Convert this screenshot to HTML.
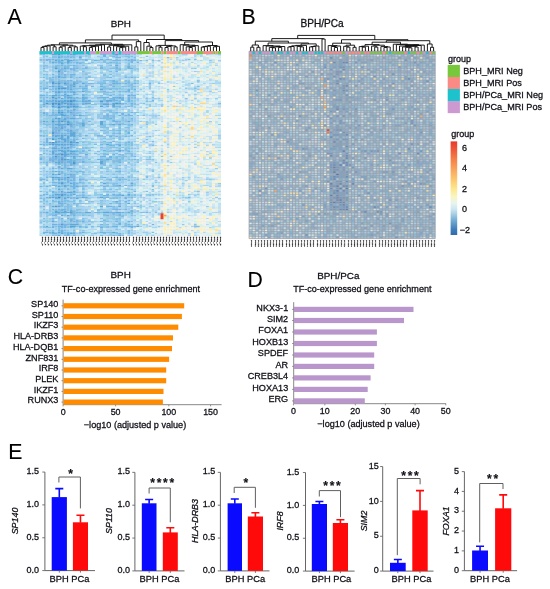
<!DOCTYPE html>
<html><head><meta charset="utf-8"><title>Figure</title>
<style>html,body{margin:0;padding:0;background:#fff;width:550px;height:589px;overflow:hidden}
body{position:relative;font-family:'Liberation Sans', Arial, Helvetica, sans-serif}</style></head>
<body>
<svg width="550" height="589" viewBox="0 0 550 589" style="position:absolute;left:0;top:0"><g font-family="'Liberation Sans', Arial, Helvetica, sans-serif"><text x="7.60" y="23.80" font-size="21.2" text-anchor="start" fill="#000" stroke="#000" stroke-width="0.1" >A</text><text x="241.60" y="23.90" font-size="21.2" text-anchor="start" fill="#000" stroke="#000" stroke-width="0.1" >B</text><text x="7.70" y="284.30" font-size="21.2" text-anchor="start" fill="#000" stroke="#000" stroke-width="0.1" >C</text><text x="247.60" y="286.70" font-size="21.2" text-anchor="start" fill="#000" stroke="#000" stroke-width="0.1" >D</text><text x="8.30" y="459.10" font-size="21.2" text-anchor="start" fill="#000" stroke="#000" stroke-width="0.1" >E</text><text x="120.80" y="26.90" font-size="9.9" text-anchor="middle" fill="#101018" stroke="#101018" stroke-width="0.28" >BPH</text><text x="322.10" y="27.30" font-size="10.1" text-anchor="middle" fill="#101018" stroke="#101018" stroke-width="0.28" >BPH/PCa</text><g transform="translate(39.5,54.0) scale(3.0250,1.5167)"><path fill="#78c0e4" d="M0 0h1v1h-1zM2 1h1v1h-1zM8 1h1v1h-1zM30 1h1v1h-1zM7 2h1v1h-1zM11 2h1v1h-1zM31 2h1v1h-1zM42 2h1v1h-1zM0 3h1v1h-1zM5 3h2v1h-2zM23 3h1v1h-1zM37 4h1v1h-1zM8 5h1v1h-1zM10 5h1v1h-1zM25 5h1v1h-1zM25 6h1v1h-1zM5 7h2v1h-2zM9 7h2v1h-2zM3 8h1v1h-1zM7 8h1v1h-1zM21 8h1v1h-1zM24 8h1v1h-1zM14 9h1v1h-1zM26 9h1v1h-1zM14 11h1v1h-1zM23 11h1v1h-1zM1 13h1v1h-1zM7 13h1v1h-1zM23 13h1v1h-1zM2 14h1v1h-1zM22 14h1v1h-1zM1 15h1v1h-1zM21 17h2v1h-2zM0 18h2v1h-2zM14 18h1v1h-1zM31 18h1v1h-1zM7 19h1v1h-1zM20 19h1v1h-1zM29 19h1v1h-1zM50 19h1v1h-1zM2 20h1v1h-1zM20 20h1v1h-1zM24 20h2v1h-2zM0 21h1v1h-1zM29 21h1v1h-1zM52 21h1v1h-1zM4 22h1v1h-1zM26 22h1v1h-1zM1 23h1v1h-1zM7 23h1v1h-1zM14 23h1v1h-1zM24 24h1v1h-1zM7 25h1v1h-1zM9 25h1v1h-1zM22 25h1v1h-1zM3 27h1v1h-1zM0 28h1v1h-1zM5 28h1v1h-1zM11 28h1v1h-1zM31 28h1v1h-1zM8 29h1v1h-1zM21 29h1v1h-1zM25 29h1v1h-1zM12 30h1v1h-1zM21 30h1v1h-1zM30 30h1v1h-1zM1 31h1v1h-1zM13 31h1v1h-1zM17 31h1v1h-1zM1 32h1v1h-1zM3 32h1v1h-1zM12 32h1v1h-1zM20 32h1v1h-1zM28 32h1v1h-1zM30 33h1v1h-1zM16 34h1v1h-1zM30 34h1v1h-1zM4 35h2v1h-2zM8 35h1v1h-1zM6 36h1v1h-1zM13 39h1v1h-1zM25 39h1v1h-1zM31 39h1v1h-1zM2 40h1v1h-1zM24 40h1v1h-1zM7 41h1v1h-1zM4 42h1v1h-1zM7 42h1v1h-1zM12 42h2v1h-2zM20 42h3v1h-3zM0 43h1v1h-1zM10 43h1v1h-1zM15 43h1v1h-1zM22 43h2v1h-2zM11 44h1v1h-1zM14 44h1v1h-1zM2 45h2v1h-2zM5 45h1v1h-1zM21 45h1v1h-1zM26 45h1v1h-1zM13 46h1v1h-1zM25 46h1v1h-1zM29 46h1v1h-1zM5 47h1v1h-1zM24 47h1v1h-1zM29 47h2v1h-2zM26 48h1v1h-1zM26 49h1v1h-1zM25 50h1v1h-1zM30 50h1v1h-1zM7 51h1v1h-1zM21 51h1v1h-1zM24 51h1v1h-1zM1 53h1v1h-1zM20 53h1v1h-1zM13 54h1v1h-1zM5 55h1v1h-1zM11 55h1v1h-1zM10 56h1v1h-1zM7 57h1v1h-1zM21 57h1v1h-1zM14 58h1v1h-1zM26 58h1v1h-1zM2 59h1v1h-1zM18 59h1v1h-1zM23 59h1v1h-1zM29 59h1v1h-1zM30 60h1v1h-1zM37 60h1v1h-1zM11 61h1v1h-1zM15 61h1v1h-1zM20 61h1v1h-1zM24 61h1v1h-1zM15 62h1v1h-1zM26 62h1v1h-1zM29 62h1v1h-1zM11 63h2v1h-2zM5 65h1v1h-1zM9 65h1v1h-1zM21 65h1v1h-1zM25 65h1v1h-1zM3 66h1v1h-1zM21 66h1v1h-1zM12 67h1v1h-1zM25 67h2v1h-2zM20 68h1v1h-1zM11 69h3v1h-3zM16 69h1v1h-1zM21 69h1v1h-1zM29 69h1v1h-1zM2 70h1v1h-1zM15 70h1v1h-1zM27 70h1v1h-1zM30 70h1v1h-1zM32 70h1v1h-1zM1 71h1v1h-1zM17 71h1v1h-1zM29 71h1v1h-1zM24 72h2v1h-2zM2 73h1v1h-1zM9 73h1v1h-1zM26 73h1v1h-1zM4 74h1v1h-1zM20 74h1v1h-1zM6 75h1v1h-1zM8 75h1v1h-1zM11 75h1v1h-1zM20 75h1v1h-1zM10 76h1v1h-1zM26 76h1v1h-1zM2 77h1v1h-1zM11 77h2v1h-2zM14 77h1v1h-1zM32 77h1v1h-1zM3 78h1v1h-1zM8 78h1v1h-1zM12 78h1v1h-1zM14 78h1v1h-1zM20 78h1v1h-1zM26 78h1v1h-1zM8 79h1v1h-1zM2 80h1v1h-1zM8 80h1v1h-1zM30 80h1v1h-1zM20 81h1v1h-1zM24 81h1v1h-1zM5 82h1v1h-1zM2 83h1v1h-1zM4 83h1v1h-1zM13 83h1v1h-1zM8 84h1v1h-1zM25 85h1v1h-1zM7 86h1v1h-1zM12 86h1v1h-1zM22 86h1v1h-1zM7 87h1v1h-1zM14 88h1v1h-1zM14 89h1v1h-1zM23 89h1v1h-1zM30 89h1v1h-1zM0 90h1v1h-1zM2 91h1v1h-1zM5 91h1v1h-1zM12 91h1v1h-1zM4 92h1v1h-1zM20 92h1v1h-1zM24 93h1v1h-1zM31 93h1v1h-1zM7 94h1v1h-1zM10 94h1v1h-1zM12 94h2v1h-2zM21 94h1v1h-1zM25 94h1v1h-1zM0 95h1v1h-1zM21 95h1v1h-1zM24 95h1v1h-1zM8 96h2v1h-2zM11 96h1v1h-1zM13 96h1v1h-1zM2 97h1v1h-1zM4 97h2v1h-2zM8 97h1v1h-1zM3 98h1v1h-1zM28 99h1v1h-1zM7 100h1v1h-1zM24 100h1v1h-1zM10 102h1v1h-1zM17 103h1v1h-1zM22 103h1v1h-1zM4 104h1v1h-1zM20 104h1v1h-1zM28 104h1v1h-1zM30 104h1v1h-1zM0 105h1v1h-1zM2 105h1v1h-1zM7 105h1v1h-1zM12 105h2v1h-2zM25 105h1v1h-1zM30 105h1v1h-1zM14 106h1v1h-1zM11 107h1v1h-1zM26 108h1v1h-1zM6 109h1v1h-1zM13 109h1v1h-1zM31 109h1v1h-1zM5 110h1v1h-1zM20 110h1v1h-1zM22 110h1v1h-1zM9 111h2v1h-2zM14 111h1v1h-1zM22 112h1v1h-1zM17 113h1v1h-1zM13 114h1v1h-1zM4 116h1v1h-1zM8 117h1v1h-1zM13 117h1v1h-1zM25 117h1v1h-1zM37 117h1v1h-1zM1 118h1v1h-1zM8 118h1v1h-1zM21 118h1v1h-1zM4 119h1v1h-1zM20 119h1v1h-1z"/><path fill="#78b4e4" d="M1 0h1v1h-1zM12 0h1v1h-1zM28 0h1v1h-1zM7 1h1v1h-1zM9 1h1v1h-1zM13 1h1v1h-1zM24 1h1v1h-1zM10 2h1v1h-1zM25 2h2v1h-2zM2 3h2v1h-2zM15 3h1v1h-1zM22 3h1v1h-1zM30 3h1v1h-1zM2 4h1v1h-1zM11 4h1v1h-1zM24 4h3v1h-3zM30 4h2v1h-2zM33 4h1v1h-1zM5 5h1v1h-1zM23 5h1v1h-1zM30 5h1v1h-1zM32 5h1v1h-1zM9 6h1v1h-1zM13 6h1v1h-1zM2 8h1v1h-1zM11 8h1v1h-1zM15 8h1v1h-1zM20 8h1v1h-1zM25 8h1v1h-1zM1 9h1v1h-1zM7 9h1v1h-1zM10 9h1v1h-1zM12 9h1v1h-1zM15 9h1v1h-1zM20 9h1v1h-1zM25 9h1v1h-1zM4 10h1v1h-1zM10 10h1v1h-1zM31 10h1v1h-1zM8 11h1v1h-1zM25 11h1v1h-1zM15 12h1v1h-1zM4 13h1v1h-1zM7 14h1v1h-1zM11 14h1v1h-1zM13 15h1v1h-1zM23 15h1v1h-1zM28 15h1v1h-1zM5 16h1v1h-1zM15 16h1v1h-1zM26 16h1v1h-1zM9 17h1v1h-1zM10 18h1v1h-1zM19 18h1v1h-1zM23 18h1v1h-1zM52 18h1v1h-1zM16 19h2v1h-2zM21 19h1v1h-1zM1 20h1v1h-1zM4 20h1v1h-1zM15 20h1v1h-1zM29 20h1v1h-1zM5 21h1v1h-1zM10 21h1v1h-1zM15 21h1v1h-1zM17 21h1v1h-1zM10 22h1v1h-1zM5 23h1v1h-1zM23 23h1v1h-1zM4 24h1v1h-1zM7 24h1v1h-1zM9 24h1v1h-1zM21 24h1v1h-1zM26 24h1v1h-1zM28 24h1v1h-1zM10 25h1v1h-1zM5 26h1v1h-1zM14 26h1v1h-1zM30 27h2v1h-2zM2 28h1v1h-1zM22 28h1v1h-1zM27 28h1v1h-1zM29 28h1v1h-1zM4 29h1v1h-1zM23 29h1v1h-1zM0 30h1v1h-1zM3 30h1v1h-1zM15 30h1v1h-1zM20 30h1v1h-1zM37 30h1v1h-1zM12 31h1v1h-1zM23 31h1v1h-1zM26 31h1v1h-1zM21 32h2v1h-2zM27 32h1v1h-1zM12 33h1v1h-1zM1 34h1v1h-1zM5 34h1v1h-1zM25 34h1v1h-1zM29 34h1v1h-1zM7 35h1v1h-1zM10 35h1v1h-1zM10 37h1v1h-1zM8 38h1v1h-1zM11 38h1v1h-1zM5 39h1v1h-1zM20 39h1v1h-1zM24 39h1v1h-1zM29 39h1v1h-1zM3 40h4v1h-4zM12 40h1v1h-1zM14 40h1v1h-1zM29 40h2v1h-2zM8 41h2v1h-2zM19 41h1v1h-1zM23 41h1v1h-1zM9 42h1v1h-1zM30 42h1v1h-1zM11 43h1v1h-1zM28 43h1v1h-1zM16 44h1v1h-1zM26 44h1v1h-1zM8 45h1v1h-1zM15 45h1v1h-1zM25 45h1v1h-1zM11 46h1v1h-1zM23 46h1v1h-1zM8 47h1v1h-1zM26 47h1v1h-1zM4 48h1v1h-1zM8 48h1v1h-1zM9 49h1v1h-1zM11 49h1v1h-1zM29 49h1v1h-1zM5 50h1v1h-1zM8 50h2v1h-2zM20 50h1v1h-1zM5 51h1v1h-1zM9 51h1v1h-1zM12 51h1v1h-1zM26 51h1v1h-1zM5 52h2v1h-2zM8 52h1v1h-1zM24 52h1v1h-1zM0 53h1v1h-1zM9 53h1v1h-1zM19 53h1v1h-1zM30 53h1v1h-1zM4 54h1v1h-1zM25 54h1v1h-1zM28 54h1v1h-1zM2 55h1v1h-1zM14 55h1v1h-1zM2 56h1v1h-1zM12 56h1v1h-1zM2 57h1v1h-1zM24 57h1v1h-1zM7 58h2v1h-2zM1 59h1v1h-1zM20 59h1v1h-1zM25 59h2v1h-2zM5 60h1v1h-1zM7 60h2v1h-2zM10 60h2v1h-2zM24 60h1v1h-1zM4 61h2v1h-2zM10 61h1v1h-1zM1 62h1v1h-1zM7 62h1v1h-1zM4 63h2v1h-2zM10 63h1v1h-1zM14 63h1v1h-1zM16 63h1v1h-1zM27 63h1v1h-1zM5 64h1v1h-1zM14 64h1v1h-1zM1 65h1v1h-1zM0 66h1v1h-1zM10 66h3v1h-3zM22 66h1v1h-1zM26 66h1v1h-1zM4 67h1v1h-1zM7 67h1v1h-1zM9 67h1v1h-1zM13 67h1v1h-1zM20 67h1v1h-1zM31 67h1v1h-1zM1 68h1v1h-1zM4 68h1v1h-1zM14 68h1v1h-1zM3 69h3v1h-3zM23 69h1v1h-1zM26 69h1v1h-1zM31 69h1v1h-1zM3 70h1v1h-1zM13 70h1v1h-1zM2 71h1v1h-1zM8 71h1v1h-1zM8 73h1v1h-1zM10 73h1v1h-1zM13 74h1v1h-1zM25 75h1v1h-1zM37 76h1v1h-1zM7 77h1v1h-1zM10 77h1v1h-1zM25 77h1v1h-1zM29 78h1v1h-1zM9 79h1v1h-1zM2 81h1v1h-1zM7 81h1v1h-1zM10 81h2v1h-2zM27 81h1v1h-1zM0 82h2v1h-2zM9 82h1v1h-1zM11 82h1v1h-1zM14 82h1v1h-1zM23 82h1v1h-1zM6 83h1v1h-1zM9 83h1v1h-1zM11 83h1v1h-1zM4 84h2v1h-2zM9 84h1v1h-1zM13 84h1v1h-1zM12 85h1v1h-1zM25 86h1v1h-1zM14 87h1v1h-1zM9 89h1v1h-1zM31 90h1v1h-1zM7 91h1v1h-1zM14 91h1v1h-1zM1 92h1v1h-1zM22 92h1v1h-1zM0 93h1v1h-1zM5 93h1v1h-1zM8 93h1v1h-1zM10 93h1v1h-1zM12 93h1v1h-1zM14 93h1v1h-1zM22 93h1v1h-1zM25 93h2v1h-2zM11 94h1v1h-1zM28 94h1v1h-1zM30 94h1v1h-1zM49 94h1v1h-1zM10 95h1v1h-1zM4 96h1v1h-1zM29 96h1v1h-1zM7 97h1v1h-1zM8 98h1v1h-1zM23 98h1v1h-1zM3 99h1v1h-1zM6 99h1v1h-1zM10 99h1v1h-1zM26 99h1v1h-1zM1 100h1v1h-1zM32 100h1v1h-1zM8 101h1v1h-1zM25 101h1v1h-1zM4 102h1v1h-1zM6 102h1v1h-1zM24 102h1v1h-1zM26 102h1v1h-1zM28 102h1v1h-1zM1 104h1v1h-1zM11 104h1v1h-1zM13 104h1v1h-1zM18 104h2v1h-2zM35 104h1v1h-1zM5 105h1v1h-1zM14 105h1v1h-1zM26 105h1v1h-1zM4 106h2v1h-2zM22 106h1v1h-1zM26 106h1v1h-1zM6 107h1v1h-1zM9 108h1v1h-1zM4 109h1v1h-1zM7 109h1v1h-1zM12 109h1v1h-1zM14 109h1v1h-1zM16 109h1v1h-1zM26 109h1v1h-1zM8 110h1v1h-1zM10 110h1v1h-1zM12 110h1v1h-1zM6 112h1v1h-1zM8 112h2v1h-2zM16 112h1v1h-1zM20 112h1v1h-1zM29 112h1v1h-1zM37 112h1v1h-1zM4 113h1v1h-1zM8 113h1v1h-1zM31 113h1v1h-1zM8 114h1v1h-1zM15 114h1v1h-1zM30 114h1v1h-1zM6 116h1v1h-1zM3 117h1v1h-1zM9 117h1v1h-1zM11 117h1v1h-1zM21 117h1v1h-1zM26 118h1v1h-1zM8 119h1v1h-1zM24 119h1v1h-1z"/><path fill="#9ccce4" d="M2 0h1v1h-1zM30 0h1v1h-1zM52 0h1v1h-1zM16 1h1v1h-1zM19 1h1v1h-1zM1 6h1v1h-1zM8 6h1v1h-1zM4 7h1v1h-1zM28 7h1v1h-1zM31 7h1v1h-1zM18 8h1v1h-1zM16 9h1v1h-1zM50 9h1v1h-1zM51 11h1v1h-1zM22 12h2v1h-2zM37 12h1v1h-1zM20 14h1v1h-1zM27 14h1v1h-1zM29 14h1v1h-1zM37 14h1v1h-1zM17 15h1v1h-1zM21 15h1v1h-1zM21 16h1v1h-1zM31 16h1v1h-1zM3 24h1v1h-1zM25 24h1v1h-1zM12 25h1v1h-1zM28 25h1v1h-1zM35 30h1v1h-1zM29 32h1v1h-1zM16 33h1v1h-1zM10 36h1v1h-1zM0 37h1v1h-1zM21 38h1v1h-1zM1 41h1v1h-1zM15 47h1v1h-1zM25 47h1v1h-1zM2 49h1v1h-1zM28 49h1v1h-1zM16 50h1v1h-1zM38 50h1v1h-1zM15 51h1v1h-1zM25 51h1v1h-1zM17 52h1v1h-1zM27 53h1v1h-1zM23 55h1v1h-1zM1 57h1v1h-1zM16 57h1v1h-1zM13 60h1v1h-1zM15 60h1v1h-1zM30 61h1v1h-1zM2 62h2v1h-2zM28 64h1v1h-1zM32 64h1v1h-1zM40 64h1v1h-1zM0 67h2v1h-2zM43 67h1v1h-1zM13 68h1v1h-1zM28 68h1v1h-1zM2 69h1v1h-1zM37 70h1v1h-1zM31 71h1v1h-1zM14 73h1v1h-1zM7 74h1v1h-1zM20 77h1v1h-1zM16 79h1v1h-1zM26 79h1v1h-1zM36 80h1v1h-1zM47 81h1v1h-1zM31 82h1v1h-1zM21 83h1v1h-1zM23 84h1v1h-1zM2 86h1v1h-1zM10 88h1v1h-1zM8 89h1v1h-1zM31 89h1v1h-1zM13 91h1v1h-1zM22 91h1v1h-1zM30 91h1v1h-1zM52 92h1v1h-1zM23 94h1v1h-1zM33 94h1v1h-1zM47 94h1v1h-1zM26 95h1v1h-1zM5 96h1v1h-1zM22 96h1v1h-1zM33 97h1v1h-1zM27 98h1v1h-1zM1 99h1v1h-1zM21 99h1v1h-1zM16 100h1v1h-1zM36 100h2v1h-2zM55 100h1v1h-1zM5 101h1v1h-1zM20 101h1v1h-1zM39 101h1v1h-1zM0 106h1v1h-1zM23 106h1v1h-1zM28 106h1v1h-1zM0 107h1v1h-1zM8 107h1v1h-1zM10 107h1v1h-1zM13 111h1v1h-1zM23 111h1v1h-1zM0 113h1v1h-1zM33 113h1v1h-1zM23 116h1v1h-1zM16 117h1v1h-1z"/><path fill="#90cce4" d="M3 0h1v1h-1zM15 0h1v1h-1zM22 0h2v1h-2zM15 1h1v1h-1zM23 1h1v1h-1zM27 1h1v1h-1zM1 2h1v1h-1zM45 2h1v1h-1zM12 3h1v1h-1zM16 3h1v1h-1zM21 3h1v1h-1zM29 3h1v1h-1zM4 4h1v1h-1zM8 4h1v1h-1zM14 4h1v1h-1zM17 4h1v1h-1zM20 4h1v1h-1zM23 4h1v1h-1zM27 4h1v1h-1zM32 4h1v1h-1zM47 4h1v1h-1zM56 4h1v1h-1zM22 5h1v1h-1zM26 5h1v1h-1zM29 5h1v1h-1zM5 6h1v1h-1zM10 6h1v1h-1zM14 6h2v1h-2zM23 6h1v1h-1zM30 7h1v1h-1zM37 7h1v1h-1zM16 8h1v1h-1zM23 8h1v1h-1zM55 8h1v1h-1zM4 9h1v1h-1zM13 9h1v1h-1zM18 9h1v1h-1zM21 9h1v1h-1zM28 9h1v1h-1zM31 9h2v1h-2zM51 9h1v1h-1zM1 10h1v1h-1zM9 10h1v1h-1zM12 10h1v1h-1zM15 10h2v1h-2zM20 10h2v1h-2zM27 10h2v1h-2zM30 10h1v1h-1zM32 10h1v1h-1zM1 11h2v1h-2zM4 11h1v1h-1zM11 11h2v1h-2zM30 11h1v1h-1zM5 12h1v1h-1zM21 12h1v1h-1zM26 12h1v1h-1zM14 13h1v1h-1zM1 14h1v1h-1zM13 14h1v1h-1zM15 14h1v1h-1zM31 14h1v1h-1zM0 15h1v1h-1zM2 15h1v1h-1zM9 15h1v1h-1zM11 15h1v1h-1zM32 15h1v1h-1zM7 16h2v1h-2zM11 16h1v1h-1zM14 16h1v1h-1zM5 17h1v1h-1zM13 17h1v1h-1zM17 17h1v1h-1zM25 17h2v1h-2zM32 17h1v1h-1zM27 18h1v1h-1zM30 18h1v1h-1zM32 18h1v1h-1zM36 18h1v1h-1zM39 18h1v1h-1zM1 19h1v1h-1zM18 19h1v1h-1zM0 20h1v1h-1zM14 20h1v1h-1zM21 20h1v1h-1zM28 20h1v1h-1zM1 21h1v1h-1zM22 21h1v1h-1zM25 21h2v1h-2zM36 21h1v1h-1zM44 21h1v1h-1zM27 22h1v1h-1zM29 22h1v1h-1zM31 22h1v1h-1zM36 22h1v1h-1zM48 22h1v1h-1zM12 23h1v1h-1zM22 23h1v1h-1zM24 23h1v1h-1zM26 23h3v1h-3zM33 23h1v1h-1zM42 23h1v1h-1zM0 24h1v1h-1zM19 24h1v1h-1zM31 24h1v1h-1zM15 25h2v1h-2zM19 25h2v1h-2zM24 25h1v1h-1zM26 25h1v1h-1zM29 25h1v1h-1zM37 25h1v1h-1zM0 26h1v1h-1zM2 26h1v1h-1zM9 26h1v1h-1zM32 26h1v1h-1zM11 27h1v1h-1zM15 27h2v1h-2zM25 27h1v1h-1zM3 28h1v1h-1zM0 29h1v1h-1zM20 29h1v1h-1zM39 29h1v1h-1zM13 30h1v1h-1zM31 30h1v1h-1zM18 31h2v1h-2zM25 31h1v1h-1zM28 31h1v1h-1zM31 31h1v1h-1zM36 31h2v1h-2zM13 32h1v1h-1zM0 33h1v1h-1zM36 33h1v1h-1zM0 34h1v1h-1zM13 34h1v1h-1zM36 34h1v1h-1zM14 35h3v1h-3zM25 35h1v1h-1zM31 35h1v1h-1zM4 36h1v1h-1zM7 36h1v1h-1zM9 36h1v1h-1zM12 36h1v1h-1zM25 36h1v1h-1zM27 36h1v1h-1zM29 36h1v1h-1zM5 37h1v1h-1zM24 37h1v1h-1zM29 37h1v1h-1zM20 38h1v1h-1zM27 38h3v1h-3zM0 39h1v1h-1zM3 39h1v1h-1zM15 39h2v1h-2zM19 39h1v1h-1zM37 39h1v1h-1zM0 40h1v1h-1zM16 40h1v1h-1zM19 40h1v1h-1zM27 40h1v1h-1zM39 40h1v1h-1zM14 41h1v1h-1zM25 41h1v1h-1zM28 41h1v1h-1zM30 41h2v1h-2zM1 42h3v1h-3zM16 42h2v1h-2zM29 42h1v1h-1zM2 43h1v1h-1zM17 43h1v1h-1zM3 44h1v1h-1zM27 44h1v1h-1zM30 44h1v1h-1zM35 44h1v1h-1zM17 45h1v1h-1zM19 45h1v1h-1zM28 45h1v1h-1zM31 45h1v1h-1zM35 45h2v1h-2zM0 46h1v1h-1zM15 46h1v1h-1zM22 46h1v1h-1zM38 46h1v1h-1zM59 46h1v1h-1zM16 47h1v1h-1zM3 48h1v1h-1zM13 48h2v1h-2zM21 49h1v1h-1zM31 49h1v1h-1zM1 50h2v1h-2zM29 50h1v1h-1zM1 51h1v1h-1zM13 51h1v1h-1zM42 51h1v1h-1zM1 52h2v1h-2zM16 52h1v1h-1zM18 52h1v1h-1zM22 52h1v1h-1zM28 52h1v1h-1zM31 52h1v1h-1zM18 53h1v1h-1zM26 53h1v1h-1zM28 53h1v1h-1zM0 54h1v1h-1zM2 54h1v1h-1zM8 54h1v1h-1zM12 54h1v1h-1zM15 54h1v1h-1zM24 54h1v1h-1zM27 54h1v1h-1zM12 55h1v1h-1zM32 55h1v1h-1zM17 56h1v1h-1zM20 56h1v1h-1zM22 56h2v1h-2zM27 56h1v1h-1zM13 57h3v1h-3zM25 57h1v1h-1zM31 57h1v1h-1zM16 58h2v1h-2zM21 58h1v1h-1zM14 59h3v1h-3zM21 59h1v1h-1zM24 59h1v1h-1zM27 59h1v1h-1zM2 60h1v1h-1zM22 60h1v1h-1zM29 60h1v1h-1zM3 61h1v1h-1zM6 61h1v1h-1zM16 61h1v1h-1zM22 61h1v1h-1zM26 61h1v1h-1zM28 61h2v1h-2zM13 62h1v1h-1zM16 62h1v1h-1zM22 62h2v1h-2zM31 62h1v1h-1zM1 63h1v1h-1zM13 63h1v1h-1zM22 63h1v1h-1zM1 64h1v1h-1zM15 64h1v1h-1zM21 64h1v1h-1zM30 64h1v1h-1zM2 65h1v1h-1zM12 65h1v1h-1zM15 65h2v1h-2zM20 65h1v1h-1zM22 65h1v1h-1zM24 65h1v1h-1zM36 65h1v1h-1zM2 66h1v1h-1zM19 66h1v1h-1zM28 66h1v1h-1zM24 67h1v1h-1zM29 67h1v1h-1zM36 67h1v1h-1zM40 67h1v1h-1zM12 68h1v1h-1zM16 68h2v1h-2zM24 68h1v1h-1zM36 68h1v1h-1zM1 69h1v1h-1zM24 69h1v1h-1zM16 70h2v1h-2zM23 70h1v1h-1zM29 70h1v1h-1zM16 71h1v1h-1zM18 71h2v1h-2zM25 71h1v1h-1zM27 71h1v1h-1zM43 71h1v1h-1zM1 72h1v1h-1zM4 72h1v1h-1zM23 72h1v1h-1zM26 72h1v1h-1zM25 73h1v1h-1zM30 73h1v1h-1zM1 74h1v1h-1zM14 74h1v1h-1zM22 74h1v1h-1zM21 75h2v1h-2zM24 75h1v1h-1zM30 75h1v1h-1zM4 76h1v1h-1zM7 76h1v1h-1zM12 76h2v1h-2zM16 76h1v1h-1zM22 76h2v1h-2zM25 76h1v1h-1zM28 76h1v1h-1zM30 76h1v1h-1zM0 77h1v1h-1zM3 77h1v1h-1zM9 77h1v1h-1zM30 77h2v1h-2zM1 78h1v1h-1zM23 78h3v1h-3zM0 79h1v1h-1zM7 79h1v1h-1zM12 79h1v1h-1zM15 79h1v1h-1zM22 79h1v1h-1zM30 79h1v1h-1zM3 80h2v1h-2zM13 80h1v1h-1zM25 80h1v1h-1zM0 81h1v1h-1zM3 81h1v1h-1zM13 81h2v1h-2zM17 81h1v1h-1zM22 81h1v1h-1zM31 81h1v1h-1zM2 82h1v1h-1zM15 82h1v1h-1zM18 82h1v1h-1zM20 82h1v1h-1zM25 82h1v1h-1zM29 82h1v1h-1zM34 82h1v1h-1zM56 82h1v1h-1zM7 83h1v1h-1zM12 84h1v1h-1zM16 84h1v1h-1zM38 84h1v1h-1zM4 85h2v1h-2zM9 85h1v1h-1zM13 85h1v1h-1zM16 85h1v1h-1zM23 85h1v1h-1zM31 85h1v1h-1zM59 85h1v1h-1zM1 86h1v1h-1zM31 86h1v1h-1zM1 87h1v1h-1zM3 87h1v1h-1zM9 87h1v1h-1zM19 87h1v1h-1zM23 87h1v1h-1zM27 87h1v1h-1zM5 88h1v1h-1zM7 88h2v1h-2zM26 88h1v1h-1zM28 88h2v1h-2zM3 89h1v1h-1zM10 89h2v1h-2zM20 89h1v1h-1zM26 89h1v1h-1zM29 89h1v1h-1zM3 90h1v1h-1zM5 90h1v1h-1zM9 90h1v1h-1zM14 90h1v1h-1zM21 90h1v1h-1zM28 90h1v1h-1zM18 91h1v1h-1zM23 91h1v1h-1zM26 91h1v1h-1zM18 92h2v1h-2zM27 92h1v1h-1zM30 92h1v1h-1zM35 92h2v1h-2zM38 92h1v1h-1zM49 92h1v1h-1zM15 93h1v1h-1zM18 93h1v1h-1zM20 93h1v1h-1zM23 93h1v1h-1zM28 93h1v1h-1zM0 94h1v1h-1zM31 94h1v1h-1zM48 94h1v1h-1zM58 94h1v1h-1zM2 95h2v1h-2zM15 95h2v1h-2zM6 96h1v1h-1zM30 96h1v1h-1zM1 97h1v1h-1zM20 97h1v1h-1zM31 97h1v1h-1zM37 97h2v1h-2zM49 97h1v1h-1zM4 98h1v1h-1zM9 98h1v1h-1zM16 98h1v1h-1zM19 98h3v1h-3zM24 98h1v1h-1zM28 98h1v1h-1zM8 99h1v1h-1zM11 99h1v1h-1zM20 99h1v1h-1zM33 99h1v1h-1zM3 100h1v1h-1zM25 100h1v1h-1zM28 100h2v1h-2zM33 100h1v1h-1zM0 101h1v1h-1zM4 101h1v1h-1zM7 101h1v1h-1zM12 101h3v1h-3zM22 101h1v1h-1zM33 101h1v1h-1zM3 102h1v1h-1zM15 102h1v1h-1zM21 102h1v1h-1zM27 102h1v1h-1zM0 103h2v1h-2zM20 103h1v1h-1zM29 103h1v1h-1zM37 103h1v1h-1zM51 103h1v1h-1zM31 104h1v1h-1zM36 104h1v1h-1zM40 104h1v1h-1zM16 105h1v1h-1zM27 105h1v1h-1zM29 105h1v1h-1zM2 106h2v1h-2zM12 106h2v1h-2zM15 106h1v1h-1zM24 106h1v1h-1zM31 106h1v1h-1zM2 107h1v1h-1zM21 107h1v1h-1zM24 107h1v1h-1zM3 108h1v1h-1zM5 108h1v1h-1zM22 108h3v1h-3zM1 109h2v1h-2zM8 109h1v1h-1zM15 109h1v1h-1zM24 109h1v1h-1zM28 109h1v1h-1zM33 109h1v1h-1zM0 110h1v1h-1zM2 110h2v1h-2zM9 110h1v1h-1zM17 110h1v1h-1zM21 110h1v1h-1zM23 110h1v1h-1zM26 110h1v1h-1zM2 111h1v1h-1zM17 111h1v1h-1zM24 111h1v1h-1zM29 111h1v1h-1zM33 111h1v1h-1zM1 112h1v1h-1zM13 112h1v1h-1zM15 112h1v1h-1zM21 112h1v1h-1zM24 112h1v1h-1zM47 112h1v1h-1zM14 113h1v1h-1zM21 113h1v1h-1zM23 113h1v1h-1zM39 113h1v1h-1zM14 114h1v1h-1zM21 114h1v1h-1zM25 114h1v1h-1zM7 115h1v1h-1zM11 115h1v1h-1zM20 115h1v1h-1zM3 116h1v1h-1zM9 116h1v1h-1zM20 116h1v1h-1zM30 116h1v1h-1zM5 117h1v1h-1zM15 117h1v1h-1zM17 118h1v1h-1zM23 118h2v1h-2zM27 118h1v1h-1zM23 119h1v1h-1zM25 119h1v1h-1zM30 119h1v1h-1z"/><path fill="#60a8d8" d="M4 0h2v1h-2zM10 0h1v1h-1zM6 2h1v1h-1zM5 4h1v1h-1zM9 4h2v1h-2zM4 5h1v1h-1zM9 5h1v1h-1zM7 6h1v1h-1zM9 8h1v1h-1zM8 9h1v1h-1zM6 10h2v1h-2zM11 10h1v1h-1zM26 10h1v1h-1zM6 12h1v1h-1zM6 14h1v1h-1zM10 14h1v1h-1zM6 15h1v1h-1zM3 18h1v1h-1zM7 18h1v1h-1zM13 18h1v1h-1zM25 18h1v1h-1zM5 19h1v1h-1zM11 19h1v1h-1zM14 19h1v1h-1zM6 20h1v1h-1zM8 20h2v1h-2zM11 20h1v1h-1zM30 20h1v1h-1zM4 21h1v1h-1zM10 23h1v1h-1zM20 23h1v1h-1zM6 24h1v1h-1zM14 24h1v1h-1zM11 25h1v1h-1zM8 26h1v1h-1zM4 27h2v1h-2zM29 27h1v1h-1zM9 28h2v1h-2zM14 28h1v1h-1zM26 28h1v1h-1zM7 29h1v1h-1zM4 30h1v1h-1zM9 30h1v1h-1zM16 30h1v1h-1zM22 30h2v1h-2zM5 31h1v1h-1zM7 31h2v1h-2zM11 31h1v1h-1zM14 31h1v1h-1zM7 32h1v1h-1zM9 32h1v1h-1zM15 32h1v1h-1zM24 32h1v1h-1zM9 33h1v1h-1zM11 33h1v1h-1zM21 33h2v1h-2zM24 33h1v1h-1zM7 34h2v1h-2zM10 34h1v1h-1zM12 34h1v1h-1zM24 34h1v1h-1zM6 37h1v1h-1zM10 38h1v1h-1zM2 39h1v1h-1zM4 39h1v1h-1zM22 39h1v1h-1zM11 40h1v1h-1zM13 40h1v1h-1zM22 41h1v1h-1zM24 41h1v1h-1zM8 42h1v1h-1zM10 42h2v1h-2zM7 43h2v1h-2zM1 44h1v1h-1zM20 44h1v1h-1zM29 44h1v1h-1zM4 45h1v1h-1zM12 45h3v1h-3zM20 45h1v1h-1zM5 46h4v1h-4zM10 46h1v1h-1zM14 46h1v1h-1zM20 46h1v1h-1zM24 46h1v1h-1zM26 46h1v1h-1zM4 47h1v1h-1zM6 47h1v1h-1zM14 47h1v1h-1zM7 48h1v1h-1zM4 49h4v1h-4zM10 50h1v1h-1zM6 51h1v1h-1zM11 51h1v1h-1zM10 52h2v1h-2zM4 53h1v1h-1zM8 53h1v1h-1zM10 53h2v1h-2zM7 54h1v1h-1zM9 54h1v1h-1zM11 54h1v1h-1zM4 55h1v1h-1zM6 55h2v1h-2zM9 55h1v1h-1zM7 56h2v1h-2zM5 57h1v1h-1zM8 57h1v1h-1zM10 57h1v1h-1zM3 58h1v1h-1zM11 58h1v1h-1zM5 59h2v1h-2zM8 59h1v1h-1zM22 59h1v1h-1zM26 60h1v1h-1zM7 61h1v1h-1zM9 61h1v1h-1zM4 62h2v1h-2zM8 62h1v1h-1zM6 63h2v1h-2zM9 63h1v1h-1zM26 63h1v1h-1zM4 64h1v1h-1zM7 64h2v1h-2zM4 65h1v1h-1zM8 65h1v1h-1zM10 65h1v1h-1zM8 66h2v1h-2zM8 67h1v1h-1zM11 67h1v1h-1zM3 68h1v1h-1zM6 68h1v1h-1zM25 68h1v1h-1zM22 69h1v1h-1zM8 70h1v1h-1zM20 70h2v1h-2zM25 70h2v1h-2zM5 71h1v1h-1zM20 71h1v1h-1zM8 72h1v1h-1zM20 72h1v1h-1zM8 74h1v1h-1zM7 75h1v1h-1zM9 75h2v1h-2zM5 77h1v1h-1zM7 78h1v1h-1zM10 80h2v1h-2zM5 81h2v1h-2zM7 84h1v1h-1zM10 85h1v1h-1zM21 85h1v1h-1zM30 85h1v1h-1zM8 86h1v1h-1zM26 86h1v1h-1zM6 87h1v1h-1zM8 87h1v1h-1zM6 89h1v1h-1zM7 90h1v1h-1zM11 90h1v1h-1zM9 91h2v1h-2zM5 92h2v1h-2zM8 92h1v1h-1zM11 92h1v1h-1zM29 92h1v1h-1zM27 93h1v1h-1zM3 94h1v1h-1zM5 94h1v1h-1zM9 94h1v1h-1zM14 94h1v1h-1zM20 94h1v1h-1zM8 95h1v1h-1zM12 95h1v1h-1zM25 97h1v1h-1zM29 98h1v1h-1zM7 99h1v1h-1zM9 99h1v1h-1zM4 100h1v1h-1zM6 100h1v1h-1zM20 100h1v1h-1zM26 100h1v1h-1zM8 103h1v1h-1zM11 103h1v1h-1zM32 103h1v1h-1zM7 104h3v1h-3zM15 104h2v1h-2zM21 104h2v1h-2zM25 104h2v1h-2zM6 105h1v1h-1zM10 105h2v1h-2zM7 106h1v1h-1zM9 106h1v1h-1zM21 109h1v1h-1zM4 110h1v1h-1zM10 112h3v1h-3zM2 113h1v1h-1zM32 113h1v1h-1zM4 117h1v1h-1zM6 117h1v1h-1zM24 117h1v1h-1zM7 118h1v1h-1zM10 118h1v1h-1zM6 119h1v1h-1zM26 119h1v1h-1z"/><path fill="#489ccc" d="M6 0h1v1h-1zM6 11h1v1h-1zM11 18h1v1h-1zM10 20h1v1h-1zM6 22h1v1h-1zM4 28h1v1h-1zM10 30h1v1h-1zM2 32h1v1h-1zM6 32h1v1h-1zM25 32h1v1h-1zM4 33h1v1h-1zM11 34h1v1h-1zM6 38h1v1h-1zM4 44h1v1h-1zM7 44h1v1h-1zM10 51h1v1h-1zM4 56h1v1h-1zM10 58h1v1h-1zM5 67h1v1h-1zM11 68h1v1h-1zM11 71h1v1h-1zM11 72h1v1h-1zM9 81h1v1h-1zM10 103h1v1h-1z"/><path fill="#6cb4e4" d="M7 0h1v1h-1zM9 0h1v1h-1zM21 0h1v1h-1zM24 0h1v1h-1zM29 0h1v1h-1zM6 1h1v1h-1zM21 1h1v1h-1zM4 3h1v1h-1zM8 3h2v1h-2zM20 3h1v1h-1zM6 4h1v1h-1zM15 4h1v1h-1zM18 4h1v1h-1zM29 4h1v1h-1zM6 5h2v1h-2zM12 5h1v1h-1zM7 7h1v1h-1zM11 7h1v1h-1zM4 8h1v1h-1zM6 8h1v1h-1zM12 8h1v1h-1zM9 9h1v1h-1zM11 9h1v1h-1zM29 9h2v1h-2zM8 10h1v1h-1zM22 10h1v1h-1zM25 10h1v1h-1zM16 12h1v1h-1zM20 12h1v1h-1zM6 13h1v1h-1zM8 13h1v1h-1zM10 13h2v1h-2zM5 14h1v1h-1zM24 14h1v1h-1zM28 14h1v1h-1zM4 15h1v1h-1zM7 15h2v1h-2zM10 15h1v1h-1zM30 15h1v1h-1zM2 16h1v1h-1zM10 17h1v1h-1zM24 17h1v1h-1zM5 18h1v1h-1zM15 18h1v1h-1zM20 18h2v1h-2zM24 18h1v1h-1zM9 19h1v1h-1zM12 19h1v1h-1zM25 19h2v1h-2zM28 19h1v1h-1zM36 19h1v1h-1zM3 21h1v1h-1zM7 21h1v1h-1zM9 21h1v1h-1zM13 21h1v1h-1zM20 21h1v1h-1zM24 21h1v1h-1zM1 22h2v1h-2zM5 22h1v1h-1zM9 22h1v1h-1zM14 22h2v1h-2zM6 23h1v1h-1zM9 23h1v1h-1zM29 23h1v1h-1zM31 23h1v1h-1zM5 24h1v1h-1zM8 24h1v1h-1zM10 24h2v1h-2zM29 24h1v1h-1zM8 25h1v1h-1zM0 27h2v1h-2zM7 27h2v1h-2zM10 27h1v1h-1zM8 28h1v1h-1zM12 28h1v1h-1zM15 28h1v1h-1zM20 28h2v1h-2zM24 28h2v1h-2zM9 29h1v1h-1zM11 29h1v1h-1zM14 29h2v1h-2zM24 29h1v1h-1zM26 29h2v1h-2zM29 29h1v1h-1zM2 30h1v1h-1zM6 30h2v1h-2zM14 30h1v1h-1zM24 30h2v1h-2zM27 30h1v1h-1zM29 30h1v1h-1zM0 31h1v1h-1zM2 31h3v1h-3zM16 31h1v1h-1zM29 31h1v1h-1zM11 32h1v1h-1zM14 32h1v1h-1zM30 32h1v1h-1zM5 33h1v1h-1zM7 33h1v1h-1zM14 33h1v1h-1zM22 34h1v1h-1zM11 35h2v1h-2zM7 37h1v1h-1zM9 37h1v1h-1zM11 37h1v1h-1zM1 38h1v1h-1zM9 38h1v1h-1zM25 38h1v1h-1zM30 38h1v1h-1zM1 39h1v1h-1zM8 39h1v1h-1zM9 40h1v1h-1zM22 40h1v1h-1zM26 40h1v1h-1zM28 40h1v1h-1zM5 41h1v1h-1zM10 41h2v1h-2zM23 42h1v1h-1zM9 43h1v1h-1zM14 43h1v1h-1zM24 43h1v1h-1zM27 43h1v1h-1zM30 43h1v1h-1zM5 44h1v1h-1zM24 44h2v1h-2zM11 45h1v1h-1zM4 46h1v1h-1zM30 46h1v1h-1zM13 47h1v1h-1zM20 47h1v1h-1zM6 48h1v1h-1zM8 49h1v1h-1zM10 49h1v1h-1zM22 49h1v1h-1zM4 50h1v1h-1zM26 50h1v1h-1zM29 51h1v1h-1zM7 52h1v1h-1zM9 52h1v1h-1zM29 52h1v1h-1zM15 53h1v1h-1zM6 54h1v1h-1zM10 54h1v1h-1zM23 54h1v1h-1zM8 55h1v1h-1zM5 56h1v1h-1zM9 56h1v1h-1zM11 56h1v1h-1zM9 57h1v1h-1zM11 57h1v1h-1zM2 58h1v1h-1zM6 58h1v1h-1zM9 58h1v1h-1zM23 58h1v1h-1zM29 58h1v1h-1zM0 59h1v1h-1zM11 59h1v1h-1zM6 60h1v1h-1zM23 60h1v1h-1zM8 61h1v1h-1zM9 62h1v1h-1zM8 63h1v1h-1zM21 63h1v1h-1zM25 63h1v1h-1zM9 64h1v1h-1zM12 64h1v1h-1zM26 64h1v1h-1zM29 64h1v1h-1zM6 65h2v1h-2zM11 65h1v1h-1zM4 66h1v1h-1zM24 66h1v1h-1zM6 67h1v1h-1zM10 67h1v1h-1zM21 67h1v1h-1zM23 67h1v1h-1zM0 68h1v1h-1zM8 68h1v1h-1zM15 68h1v1h-1zM22 68h2v1h-2zM0 69h1v1h-1zM6 69h1v1h-1zM10 69h1v1h-1zM19 69h2v1h-2zM9 70h2v1h-2zM12 70h1v1h-1zM14 70h1v1h-1zM22 70h1v1h-1zM28 70h1v1h-1zM9 71h2v1h-2zM14 71h1v1h-1zM26 71h1v1h-1zM2 72h1v1h-1zM5 72h1v1h-1zM7 72h1v1h-1zM12 72h1v1h-1zM4 75h1v1h-1zM4 77h1v1h-1zM6 77h1v1h-1zM13 77h1v1h-1zM26 77h1v1h-1zM5 79h1v1h-1zM11 79h1v1h-1zM8 81h1v1h-1zM21 81h1v1h-1zM25 81h1v1h-1zM4 82h1v1h-1zM8 82h1v1h-1zM13 82h1v1h-1zM26 82h1v1h-1zM10 83h1v1h-1zM6 84h1v1h-1zM11 84h1v1h-1zM6 85h1v1h-1zM11 85h1v1h-1zM4 86h2v1h-2zM9 86h1v1h-1zM11 86h1v1h-1zM28 86h1v1h-1zM30 86h1v1h-1zM0 87h1v1h-1zM2 87h1v1h-1zM10 87h2v1h-2zM21 87h1v1h-1zM11 88h1v1h-1zM4 90h1v1h-1zM4 91h1v1h-1zM8 91h1v1h-1zM11 91h1v1h-1zM2 92h1v1h-1zM10 92h1v1h-1zM24 92h1v1h-1zM26 92h1v1h-1zM4 93h1v1h-1zM6 93h1v1h-1zM9 93h1v1h-1zM21 93h1v1h-1zM29 93h1v1h-1zM2 94h1v1h-1zM8 94h1v1h-1zM15 94h1v1h-1zM22 94h1v1h-1zM5 95h2v1h-2zM28 95h1v1h-1zM6 97h1v1h-1zM28 97h1v1h-1zM6 98h2v1h-2zM11 98h1v1h-1zM26 98h1v1h-1zM22 100h2v1h-2zM10 101h1v1h-1zM24 101h1v1h-1zM30 101h1v1h-1zM7 102h2v1h-2zM25 102h1v1h-1zM3 103h1v1h-1zM6 103h2v1h-2zM12 104h1v1h-1zM23 104h2v1h-2zM27 104h1v1h-1zM3 105h2v1h-2zM8 105h1v1h-1zM39 105h1v1h-1zM11 106h1v1h-1zM4 108h1v1h-1zM7 108h1v1h-1zM11 110h1v1h-1zM14 110h1v1h-1zM25 110h1v1h-1zM29 110h1v1h-1zM0 111h1v1h-1zM7 111h1v1h-1zM12 111h1v1h-1zM26 111h1v1h-1zM4 112h2v1h-2zM26 112h1v1h-1zM6 113h2v1h-2zM24 113h2v1h-2zM29 113h2v1h-2zM4 114h1v1h-1zM7 114h1v1h-1zM20 114h1v1h-1zM7 116h1v1h-1zM1 117h2v1h-2zM7 117h1v1h-1zM14 117h1v1h-1zM20 117h1v1h-1zM4 118h2v1h-2zM9 118h1v1h-1zM9 119h1v1h-1zM11 119h1v1h-1z"/><path fill="#84c0e4" d="M8 0h1v1h-1zM13 0h2v1h-2zM20 0h1v1h-1zM27 0h1v1h-1zM31 0h1v1h-1zM4 1h2v1h-2zM10 1h2v1h-2zM25 1h1v1h-1zM28 1h2v1h-2zM35 1h1v1h-1zM4 2h2v1h-2zM8 2h2v1h-2zM29 2h1v1h-1zM1 3h1v1h-1zM7 3h1v1h-1zM11 3h1v1h-1zM13 3h2v1h-2zM25 3h1v1h-1zM28 3h1v1h-1zM31 3h1v1h-1zM49 3h1v1h-1zM51 3h1v1h-1zM0 4h1v1h-1zM3 4h1v1h-1zM12 4h1v1h-1zM19 4h1v1h-1zM21 4h1v1h-1zM28 4h1v1h-1zM35 4h1v1h-1zM1 5h1v1h-1zM3 5h1v1h-1zM11 5h1v1h-1zM13 5h2v1h-2zM17 5h1v1h-1zM21 5h1v1h-1zM24 5h1v1h-1zM6 6h1v1h-1zM12 6h1v1h-1zM16 6h1v1h-1zM22 6h1v1h-1zM26 6h1v1h-1zM29 6h1v1h-1zM1 7h2v1h-2zM8 7h1v1h-1zM14 7h1v1h-1zM20 7h1v1h-1zM23 7h1v1h-1zM29 7h1v1h-1zM1 8h1v1h-1zM13 8h1v1h-1zM22 8h1v1h-1zM26 8h1v1h-1zM28 8h1v1h-1zM30 8h2v1h-2zM6 9h1v1h-1zM23 9h2v1h-2zM3 10h1v1h-1zM13 10h2v1h-2zM5 11h1v1h-1zM7 11h1v1h-1zM9 12h1v1h-1zM11 12h1v1h-1zM14 12h1v1h-1zM24 12h1v1h-1zM27 12h1v1h-1zM30 12h1v1h-1zM2 13h1v1h-1zM15 13h1v1h-1zM21 13h1v1h-1zM4 14h1v1h-1zM9 14h1v1h-1zM16 14h1v1h-1zM21 14h1v1h-1zM25 14h2v1h-2zM30 14h1v1h-1zM3 15h1v1h-1zM5 15h1v1h-1zM12 15h1v1h-1zM15 15h2v1h-2zM22 15h1v1h-1zM29 15h1v1h-1zM31 15h1v1h-1zM3 16h2v1h-2zM6 16h1v1h-1zM1 17h1v1h-1zM3 17h2v1h-2zM6 17h3v1h-3zM12 17h1v1h-1zM23 17h1v1h-1zM28 17h1v1h-1zM31 17h1v1h-1zM2 18h1v1h-1zM26 18h1v1h-1zM28 18h1v1h-1zM42 18h1v1h-1zM0 19h1v1h-1zM2 19h1v1h-1zM10 19h1v1h-1zM15 19h1v1h-1zM19 19h1v1h-1zM27 19h1v1h-1zM30 19h1v1h-1zM32 19h1v1h-1zM39 19h1v1h-1zM5 20h1v1h-1zM7 20h1v1h-1zM13 20h1v1h-1zM22 20h1v1h-1zM26 20h1v1h-1zM36 20h1v1h-1zM2 21h1v1h-1zM14 21h1v1h-1zM21 21h1v1h-1zM27 21h2v1h-2zM30 21h2v1h-2zM11 22h3v1h-3zM20 22h6v1h-6zM30 22h1v1h-1zM51 22h1v1h-1zM3 23h2v1h-2zM8 23h1v1h-1zM11 23h1v1h-1zM15 23h1v1h-1zM25 23h1v1h-1zM30 23h1v1h-1zM12 24h2v1h-2zM15 24h2v1h-2zM20 24h1v1h-1zM27 24h1v1h-1zM2 25h1v1h-1zM23 25h1v1h-1zM6 26h1v1h-1zM12 26h1v1h-1zM15 26h1v1h-1zM22 26h1v1h-1zM24 26h1v1h-1zM26 26h1v1h-1zM30 26h1v1h-1zM2 27h1v1h-1zM20 27h1v1h-1zM26 27h1v1h-1zM1 28h1v1h-1zM19 28h1v1h-1zM30 28h1v1h-1zM37 28h1v1h-1zM1 29h1v1h-1zM6 29h1v1h-1zM12 29h2v1h-2zM31 29h1v1h-1zM1 30h1v1h-1zM26 30h1v1h-1zM24 31h1v1h-1zM30 31h1v1h-1zM35 31h1v1h-1zM31 32h1v1h-1zM34 32h1v1h-1zM59 32h1v1h-1zM2 33h2v1h-2zM8 33h1v1h-1zM15 33h1v1h-1zM17 33h2v1h-2zM20 33h1v1h-1zM23 33h1v1h-1zM25 33h3v1h-3zM31 33h1v1h-1zM28 34h1v1h-1zM0 35h1v1h-1zM13 35h1v1h-1zM24 35h1v1h-1zM8 36h1v1h-1zM4 37h1v1h-1zM8 37h1v1h-1zM22 37h2v1h-2zM0 38h1v1h-1zM2 38h1v1h-1zM5 38h1v1h-1zM12 38h2v1h-2zM15 38h1v1h-1zM23 38h2v1h-2zM26 38h1v1h-1zM31 38h2v1h-2zM9 39h1v1h-1zM12 39h1v1h-1zM1 40h1v1h-1zM10 40h1v1h-1zM15 40h1v1h-1zM21 40h1v1h-1zM23 40h1v1h-1zM32 40h1v1h-1zM34 40h1v1h-1zM0 41h1v1h-1zM2 41h3v1h-3zM13 41h1v1h-1zM20 41h1v1h-1zM27 41h1v1h-1zM29 41h1v1h-1zM37 41h1v1h-1zM15 42h1v1h-1zM24 42h1v1h-1zM27 42h1v1h-1zM1 43h1v1h-1zM3 43h1v1h-1zM5 43h1v1h-1zM25 43h2v1h-2zM29 43h1v1h-1zM10 44h1v1h-1zM12 44h1v1h-1zM21 44h1v1h-1zM28 44h1v1h-1zM1 45h1v1h-1zM7 45h1v1h-1zM18 45h1v1h-1zM23 45h1v1h-1zM27 45h1v1h-1zM29 45h1v1h-1zM37 45h1v1h-1zM1 46h3v1h-3zM12 46h1v1h-1zM17 46h1v1h-1zM21 46h1v1h-1zM27 46h2v1h-2zM35 46h1v1h-1zM2 47h1v1h-1zM9 47h1v1h-1zM12 47h1v1h-1zM19 47h1v1h-1zM21 47h1v1h-1zM23 47h1v1h-1zM10 48h2v1h-2zM20 48h3v1h-3zM28 48h2v1h-2zM12 49h3v1h-3zM24 49h1v1h-1zM27 49h1v1h-1zM0 50h1v1h-1zM7 50h1v1h-1zM11 50h2v1h-2zM21 50h1v1h-1zM23 50h2v1h-2zM28 50h1v1h-1zM0 51h1v1h-1zM2 51h1v1h-1zM8 51h1v1h-1zM14 51h1v1h-1zM28 51h1v1h-1zM31 51h1v1h-1zM13 52h1v1h-1zM21 52h1v1h-1zM25 52h1v1h-1zM2 53h1v1h-1zM12 53h2v1h-2zM23 53h2v1h-2zM1 54h1v1h-1zM20 54h1v1h-1zM26 54h1v1h-1zM29 54h1v1h-1zM36 54h1v1h-1zM3 55h1v1h-1zM21 55h1v1h-1zM24 55h1v1h-1zM26 55h1v1h-1zM6 56h1v1h-1zM26 56h1v1h-1zM35 56h1v1h-1zM29 57h1v1h-1zM37 57h1v1h-1zM1 58h1v1h-1zM22 58h1v1h-1zM28 58h1v1h-1zM30 58h1v1h-1zM12 59h1v1h-1zM28 59h1v1h-1zM30 59h1v1h-1zM1 60h1v1h-1zM4 60h1v1h-1zM9 60h1v1h-1zM12 60h1v1h-1zM28 60h1v1h-1zM14 61h1v1h-1zM17 61h1v1h-1zM23 61h1v1h-1zM25 61h1v1h-1zM27 61h1v1h-1zM0 62h1v1h-1zM10 62h1v1h-1zM12 62h1v1h-1zM14 62h1v1h-1zM28 62h1v1h-1zM2 63h1v1h-1zM24 63h1v1h-1zM28 63h2v1h-2zM3 64h1v1h-1zM6 64h1v1h-1zM13 64h1v1h-1zM19 64h1v1h-1zM22 64h2v1h-2zM13 65h2v1h-2zM18 65h1v1h-1zM28 65h3v1h-3zM27 66h1v1h-1zM30 66h1v1h-1zM27 67h2v1h-2zM30 67h1v1h-1zM10 68h1v1h-1zM21 68h1v1h-1zM26 68h2v1h-2zM29 68h1v1h-1zM56 68h1v1h-1zM14 69h1v1h-1zM25 69h1v1h-1zM27 69h1v1h-1zM30 69h1v1h-1zM32 69h1v1h-1zM35 69h2v1h-2zM1 70h1v1h-1zM42 70h1v1h-1zM0 71h1v1h-1zM4 71h1v1h-1zM12 71h2v1h-2zM15 71h1v1h-1zM21 71h1v1h-1zM24 71h1v1h-1zM32 71h1v1h-1zM38 71h1v1h-1zM9 72h1v1h-1zM21 72h1v1h-1zM29 72h2v1h-2zM7 73h1v1h-1zM11 73h1v1h-1zM21 73h1v1h-1zM23 73h1v1h-1zM9 74h1v1h-1zM16 74h1v1h-1zM25 74h1v1h-1zM29 74h1v1h-1zM1 75h1v1h-1zM5 75h1v1h-1zM26 75h1v1h-1zM6 76h1v1h-1zM8 76h1v1h-1zM11 76h1v1h-1zM15 76h1v1h-1zM31 76h1v1h-1zM22 77h1v1h-1zM37 77h1v1h-1zM4 78h1v1h-1zM9 78h3v1h-3zM14 79h1v1h-1zM24 79h1v1h-1zM5 80h1v1h-1zM7 80h1v1h-1zM9 80h1v1h-1zM20 80h1v1h-1zM29 80h1v1h-1zM35 80h1v1h-1zM26 81h1v1h-1zM29 81h1v1h-1zM35 81h1v1h-1zM10 82h1v1h-1zM22 82h1v1h-1zM27 82h2v1h-2zM32 82h1v1h-1zM0 83h1v1h-1zM8 83h1v1h-1zM15 83h1v1h-1zM23 83h1v1h-1zM26 83h1v1h-1zM29 83h1v1h-1zM1 84h1v1h-1zM10 84h1v1h-1zM14 84h1v1h-1zM20 84h1v1h-1zM1 85h1v1h-1zM8 85h1v1h-1zM14 85h1v1h-1zM22 85h1v1h-1zM24 85h1v1h-1zM3 86h1v1h-1zM6 86h1v1h-1zM10 86h1v1h-1zM15 86h1v1h-1zM20 86h1v1h-1zM24 86h1v1h-1zM29 86h1v1h-1zM37 86h1v1h-1zM5 87h1v1h-1zM13 87h1v1h-1zM15 87h1v1h-1zM22 87h1v1h-1zM24 87h3v1h-3zM37 87h1v1h-1zM6 88h1v1h-1zM9 88h1v1h-1zM7 89h1v1h-1zM21 89h1v1h-1zM25 89h1v1h-1zM37 89h1v1h-1zM6 90h1v1h-1zM10 90h1v1h-1zM22 90h1v1h-1zM24 90h1v1h-1zM35 90h1v1h-1zM6 91h1v1h-1zM29 91h1v1h-1zM9 92h1v1h-1zM14 92h1v1h-1zM31 92h1v1h-1zM37 92h1v1h-1zM1 93h1v1h-1zM3 93h1v1h-1zM13 93h1v1h-1zM16 93h1v1h-1zM30 93h1v1h-1zM33 93h1v1h-1zM36 93h1v1h-1zM19 94h1v1h-1zM24 94h1v1h-1zM26 94h1v1h-1zM29 94h1v1h-1zM1 95h1v1h-1zM7 95h1v1h-1zM11 95h1v1h-1zM23 95h1v1h-1zM25 95h1v1h-1zM1 96h1v1h-1zM7 96h1v1h-1zM15 96h1v1h-1zM20 96h1v1h-1zM26 96h1v1h-1zM0 97h1v1h-1zM9 97h3v1h-3zM17 97h1v1h-1zM24 97h1v1h-1zM26 97h1v1h-1zM1 98h1v1h-1zM12 98h3v1h-3zM25 98h1v1h-1zM31 98h1v1h-1zM2 99h1v1h-1zM5 99h1v1h-1zM12 99h1v1h-1zM22 99h1v1h-1zM8 100h3v1h-3zM12 100h1v1h-1zM3 101h1v1h-1zM9 101h1v1h-1zM11 101h1v1h-1zM28 101h1v1h-1zM1 102h1v1h-1zM5 102h1v1h-1zM9 102h1v1h-1zM12 102h2v1h-2zM19 102h2v1h-2zM4 103h1v1h-1zM9 103h1v1h-1zM12 103h1v1h-1zM15 103h1v1h-1zM19 103h1v1h-1zM21 103h1v1h-1zM23 103h1v1h-1zM31 103h1v1h-1zM0 104h1v1h-1zM14 104h1v1h-1zM33 104h2v1h-2zM38 104h1v1h-1zM15 105h1v1h-1zM17 105h1v1h-1zM19 105h1v1h-1zM21 105h3v1h-3zM28 105h1v1h-1zM8 106h1v1h-1zM10 106h1v1h-1zM16 106h1v1h-1zM21 106h1v1h-1zM27 106h1v1h-1zM30 106h1v1h-1zM5 107h1v1h-1zM9 107h1v1h-1zM22 107h1v1h-1zM26 107h2v1h-2zM1 108h1v1h-1zM10 108h2v1h-2zM14 108h1v1h-1zM20 108h1v1h-1zM25 108h1v1h-1zM0 109h1v1h-1zM9 109h1v1h-1zM11 109h1v1h-1zM22 109h1v1h-1zM25 109h1v1h-1zM1 110h1v1h-1zM7 110h1v1h-1zM13 110h1v1h-1zM16 110h1v1h-1zM30 110h1v1h-1zM6 111h1v1h-1zM8 111h1v1h-1zM11 111h1v1h-1zM21 111h1v1h-1zM28 111h1v1h-1zM25 112h1v1h-1zM28 112h1v1h-1zM30 112h1v1h-1zM32 112h1v1h-1zM1 113h1v1h-1zM5 113h1v1h-1zM9 113h1v1h-1zM12 113h1v1h-1zM15 113h1v1h-1zM19 113h2v1h-2zM22 113h1v1h-1zM27 113h2v1h-2zM51 113h2v1h-2zM1 114h3v1h-3zM6 114h1v1h-1zM9 114h1v1h-1zM11 114h1v1h-1zM22 114h1v1h-1zM6 115h1v1h-1zM25 115h1v1h-1zM2 116h1v1h-1zM8 116h1v1h-1zM11 116h1v1h-1zM29 116h1v1h-1zM10 117h1v1h-1zM22 117h2v1h-2zM29 117h1v1h-1zM3 118h1v1h-1zM6 118h1v1h-1zM18 118h1v1h-1zM25 118h1v1h-1zM29 118h1v1h-1zM5 119h1v1h-1zM14 119h1v1h-1zM27 119h1v1h-1z"/><path fill="#54a8d8" d="M11 0h1v1h-1zM7 4h1v1h-1zM5 8h1v1h-1zM8 8h1v1h-1zM8 18h1v1h-1zM29 18h1v1h-1zM6 21h1v1h-1zM11 21h1v1h-1zM6 25h1v1h-1zM5 29h1v1h-1zM8 30h1v1h-1zM10 32h1v1h-1zM26 32h1v1h-1zM6 34h1v1h-1zM9 34h1v1h-1zM20 34h1v1h-1zM6 39h2v1h-2zM7 40h2v1h-2zM5 42h1v1h-1zM4 43h1v1h-1zM6 44h1v1h-1zM9 44h1v1h-1zM9 45h2v1h-2zM7 53h1v1h-1zM5 54h1v1h-1zM5 58h1v1h-1zM7 59h1v1h-1zM10 64h2v1h-2zM9 69h1v1h-1zM6 71h1v1h-1zM4 79h1v1h-1zM6 82h1v1h-1zM4 94h1v1h-1zM5 103h1v1h-1zM5 104h2v1h-2zM10 113h2v1h-2z"/><path fill="#6cb4d8" d="M16 0h1v1h-1zM26 0h1v1h-1zM31 19h1v1h-1zM6 27h1v1h-1zM14 27h1v1h-1zM23 27h1v1h-1zM10 29h1v1h-1zM26 34h1v1h-1zM4 38h1v1h-1zM2 44h1v1h-1zM11 47h1v1h-1zM22 51h1v1h-1zM26 52h1v1h-1zM6 62h1v1h-1zM5 70h1v1h-1zM9 76h1v1h-1zM6 78h1v1h-1zM13 113h1v1h-1zM10 114h1v1h-1zM11 118h1v1h-1z"/><path fill="#a8d8f0" d="M17 0h2v1h-2zM32 0h2v1h-2zM40 0h1v1h-1zM51 0h1v1h-1zM53 0h1v1h-1zM20 1h1v1h-1zM22 1h1v1h-1zM51 1h1v1h-1zM53 1h1v1h-1zM0 2h1v1h-1zM2 2h1v1h-1zM21 2h1v1h-1zM28 2h1v1h-1zM33 2h1v1h-1zM18 3h2v1h-2zM27 3h1v1h-1zM32 3h1v1h-1zM37 3h1v1h-1zM34 4h1v1h-1zM46 4h1v1h-1zM48 4h1v1h-1zM53 4h1v1h-1zM18 5h1v1h-1zM37 5h1v1h-1zM50 5h1v1h-1zM56 5h1v1h-1zM2 6h1v1h-1zM17 6h2v1h-2zM28 6h1v1h-1zM30 6h2v1h-2zM3 7h1v1h-1zM15 7h1v1h-1zM36 7h1v1h-1zM52 7h1v1h-1zM58 7h1v1h-1zM10 8h1v1h-1zM17 8h1v1h-1zM42 8h1v1h-1zM0 9h1v1h-1zM17 9h1v1h-1zM19 9h1v1h-1zM27 9h1v1h-1zM34 9h1v1h-1zM0 10h1v1h-1zM17 10h1v1h-1zM24 10h1v1h-1zM18 11h1v1h-1zM20 11h1v1h-1zM22 11h1v1h-1zM24 11h1v1h-1zM32 11h1v1h-1zM52 11h1v1h-1zM1 12h1v1h-1zM8 12h1v1h-1zM19 12h1v1h-1zM29 12h1v1h-1zM0 13h1v1h-1zM3 13h1v1h-1zM5 13h1v1h-1zM12 13h2v1h-2zM18 13h1v1h-1zM22 13h1v1h-1zM24 13h1v1h-1zM28 13h3v1h-3zM55 13h1v1h-1zM59 13h1v1h-1zM0 14h1v1h-1zM3 14h1v1h-1zM17 14h1v1h-1zM23 14h1v1h-1zM44 14h1v1h-1zM24 15h1v1h-1zM26 15h2v1h-2zM52 15h1v1h-1zM1 16h1v1h-1zM9 16h1v1h-1zM18 16h2v1h-2zM22 16h1v1h-1zM28 16h1v1h-1zM30 16h1v1h-1zM0 17h1v1h-1zM11 17h1v1h-1zM14 17h2v1h-2zM36 17h2v1h-2zM22 18h1v1h-1zM43 18h1v1h-1zM59 18h1v1h-1zM34 19h1v1h-1zM37 19h1v1h-1zM40 19h1v1h-1zM54 19h1v1h-1zM58 19h2v1h-2zM3 20h1v1h-1zM27 20h1v1h-1zM53 20h1v1h-1zM19 21h1v1h-1zM35 21h1v1h-1zM51 21h1v1h-1zM17 22h3v1h-3zM32 22h1v1h-1zM34 22h1v1h-1zM49 22h2v1h-2zM13 23h1v1h-1zM16 23h1v1h-1zM50 23h2v1h-2zM58 23h1v1h-1zM2 24h1v1h-1zM30 24h1v1h-1zM34 24h1v1h-1zM42 24h1v1h-1zM51 24h1v1h-1zM1 25h1v1h-1zM4 25h1v1h-1zM14 25h1v1h-1zM17 25h1v1h-1zM25 25h1v1h-1zM31 25h1v1h-1zM52 25h1v1h-1zM57 25h1v1h-1zM4 26h1v1h-1zM13 26h1v1h-1zM16 26h1v1h-1zM25 26h1v1h-1zM28 26h1v1h-1zM36 26h2v1h-2zM12 27h2v1h-2zM37 27h1v1h-1zM47 27h1v1h-1zM7 28h1v1h-1zM28 28h1v1h-1zM35 28h1v1h-1zM16 29h1v1h-1zM18 29h1v1h-1zM28 29h1v1h-1zM36 29h1v1h-1zM39 30h2v1h-2zM50 30h1v1h-1zM32 31h1v1h-1zM42 31h1v1h-1zM45 31h1v1h-1zM38 32h1v1h-1zM46 32h1v1h-1zM19 33h1v1h-1zM39 33h1v1h-1zM59 33h1v1h-1zM3 34h1v1h-1zM17 34h1v1h-1zM27 34h1v1h-1zM37 34h2v1h-2zM1 35h1v1h-1zM22 35h1v1h-1zM33 35h1v1h-1zM51 35h1v1h-1zM3 36h1v1h-1zM5 36h1v1h-1zM24 36h1v1h-1zM26 36h1v1h-1zM32 36h1v1h-1zM1 37h1v1h-1zM14 37h2v1h-2zM32 37h1v1h-1zM37 37h1v1h-1zM55 37h1v1h-1zM14 38h1v1h-1zM55 38h1v1h-1zM14 39h1v1h-1zM18 39h1v1h-1zM23 39h1v1h-1zM26 39h1v1h-1zM30 39h1v1h-1zM35 39h1v1h-1zM17 40h1v1h-1zM31 40h1v1h-1zM33 40h1v1h-1zM35 40h1v1h-1zM58 40h2v1h-2zM6 41h1v1h-1zM18 41h1v1h-1zM0 42h1v1h-1zM26 42h1v1h-1zM34 42h1v1h-1zM59 42h1v1h-1zM32 43h1v1h-1zM13 44h1v1h-1zM18 44h1v1h-1zM32 44h1v1h-1zM37 44h1v1h-1zM46 44h1v1h-1zM16 45h1v1h-1zM42 45h1v1h-1zM55 45h1v1h-1zM31 46h1v1h-1zM22 47h1v1h-1zM28 47h1v1h-1zM31 47h1v1h-1zM33 47h2v1h-2zM12 48h1v1h-1zM16 48h1v1h-1zM1 49h1v1h-1zM3 49h1v1h-1zM19 49h2v1h-2zM30 49h1v1h-1zM13 50h1v1h-1zM16 51h2v1h-2zM19 51h1v1h-1zM23 51h1v1h-1zM59 51h1v1h-1zM0 52h1v1h-1zM14 52h1v1h-1zM23 52h1v1h-1zM27 52h1v1h-1zM37 52h1v1h-1zM16 53h1v1h-1zM39 53h1v1h-1zM3 54h1v1h-1zM16 54h1v1h-1zM31 54h1v1h-1zM37 54h1v1h-1zM47 54h1v1h-1zM59 54h1v1h-1zM1 55h1v1h-1zM16 55h1v1h-1zM22 55h1v1h-1zM29 55h1v1h-1zM59 55h1v1h-1zM0 56h1v1h-1zM3 56h1v1h-1zM15 56h1v1h-1zM21 56h1v1h-1zM24 56h1v1h-1zM29 56h3v1h-3zM12 57h1v1h-1zM23 57h1v1h-1zM28 57h1v1h-1zM36 57h1v1h-1zM0 58h1v1h-1zM13 58h1v1h-1zM33 58h1v1h-1zM52 58h1v1h-1zM13 59h1v1h-1zM17 59h1v1h-1zM49 59h1v1h-1zM51 59h1v1h-1zM57 59h1v1h-1zM3 60h1v1h-1zM19 60h1v1h-1zM27 60h1v1h-1zM31 60h2v1h-2zM38 60h1v1h-1zM40 60h1v1h-1zM52 60h1v1h-1zM55 60h1v1h-1zM0 61h1v1h-1zM12 61h1v1h-1zM18 61h1v1h-1zM32 61h1v1h-1zM35 61h1v1h-1zM59 61h1v1h-1zM11 62h1v1h-1zM15 63h1v1h-1zM30 63h1v1h-1zM16 64h1v1h-1zM20 64h1v1h-1zM25 64h1v1h-1zM31 64h1v1h-1zM55 64h1v1h-1zM23 65h1v1h-1zM35 65h1v1h-1zM37 65h1v1h-1zM56 65h1v1h-1zM1 66h1v1h-1zM20 66h1v1h-1zM25 66h1v1h-1zM17 67h1v1h-1zM32 67h1v1h-1zM34 67h2v1h-2zM37 67h1v1h-1zM9 68h1v1h-1zM19 68h1v1h-1zM31 68h1v1h-1zM35 68h1v1h-1zM18 69h1v1h-1zM33 69h1v1h-1zM33 70h1v1h-1zM22 71h2v1h-2zM17 72h1v1h-1zM35 72h1v1h-1zM6 73h1v1h-1zM13 73h1v1h-1zM15 73h1v1h-1zM18 73h1v1h-1zM24 73h1v1h-1zM2 74h1v1h-1zM10 74h1v1h-1zM12 74h1v1h-1zM13 75h1v1h-1zM16 75h1v1h-1zM35 75h1v1h-1zM2 76h1v1h-1zM15 77h1v1h-1zM17 77h1v1h-1zM21 77h1v1h-1zM24 77h1v1h-1zM5 78h1v1h-1zM15 78h1v1h-1zM17 78h2v1h-2zM28 78h1v1h-1zM30 78h3v1h-3zM42 78h1v1h-1zM18 79h1v1h-1zM28 79h1v1h-1zM39 79h1v1h-1zM21 80h2v1h-2zM24 80h1v1h-1zM26 80h2v1h-2zM51 80h1v1h-1zM1 81h1v1h-1zM16 81h1v1h-1zM19 81h1v1h-1zM23 81h1v1h-1zM28 81h1v1h-1zM32 81h1v1h-1zM52 81h1v1h-1zM12 82h1v1h-1zM19 82h1v1h-1zM21 82h1v1h-1zM35 82h1v1h-1zM47 82h1v1h-1zM57 82h1v1h-1zM1 83h1v1h-1zM5 83h1v1h-1zM12 83h1v1h-1zM19 83h1v1h-1zM24 83h1v1h-1zM28 83h1v1h-1zM32 83h1v1h-1zM15 84h1v1h-1zM28 84h1v1h-1zM31 84h2v1h-2zM39 84h1v1h-1zM0 85h1v1h-1zM15 85h1v1h-1zM20 85h1v1h-1zM29 85h1v1h-1zM37 85h1v1h-1zM0 86h1v1h-1zM16 86h1v1h-1zM23 86h1v1h-1zM27 86h1v1h-1zM33 86h1v1h-1zM54 86h2v1h-2zM59 86h1v1h-1zM16 87h1v1h-1zM18 87h1v1h-1zM20 87h1v1h-1zM39 87h2v1h-2zM56 87h1v1h-1zM59 87h1v1h-1zM1 88h2v1h-2zM12 88h1v1h-1zM16 88h1v1h-1zM24 88h1v1h-1zM30 88h1v1h-1zM46 88h1v1h-1zM1 89h2v1h-2zM15 89h1v1h-1zM24 89h1v1h-1zM28 89h1v1h-1zM20 90h1v1h-1zM27 90h1v1h-1zM29 90h1v1h-1zM34 90h1v1h-1zM1 91h1v1h-1zM15 91h1v1h-1zM19 91h3v1h-3zM28 91h1v1h-1zM36 91h1v1h-1zM15 92h1v1h-1zM40 92h1v1h-1zM42 92h1v1h-1zM44 92h1v1h-1zM51 92h1v1h-1zM2 93h1v1h-1zM11 93h1v1h-1zM17 93h1v1h-1zM39 93h1v1h-1zM47 93h1v1h-1zM18 94h1v1h-1zM27 94h1v1h-1zM32 94h1v1h-1zM13 95h1v1h-1zM19 95h1v1h-1zM27 95h1v1h-1zM29 95h1v1h-1zM32 95h1v1h-1zM44 95h1v1h-1zM48 95h2v1h-2zM3 96h1v1h-1zM10 96h1v1h-1zM28 96h1v1h-1zM56 96h1v1h-1zM3 97h1v1h-1zM19 97h1v1h-1zM22 97h1v1h-1zM35 97h1v1h-1zM40 97h1v1h-1zM5 98h1v1h-1zM17 98h1v1h-1zM22 98h1v1h-1zM30 98h1v1h-1zM0 99h1v1h-1zM13 99h1v1h-1zM24 99h1v1h-1zM30 99h1v1h-1zM35 99h1v1h-1zM18 100h1v1h-1zM27 100h1v1h-1zM17 101h2v1h-2zM32 101h1v1h-1zM49 101h1v1h-1zM57 101h1v1h-1zM59 101h1v1h-1zM2 102h1v1h-1zM31 102h1v1h-1zM37 102h1v1h-1zM49 102h1v1h-1zM26 103h1v1h-1zM49 103h1v1h-1zM52 103h1v1h-1zM32 104h1v1h-1zM58 104h1v1h-1zM9 105h1v1h-1zM37 105h1v1h-1zM29 106h1v1h-1zM33 106h2v1h-2zM37 106h1v1h-1zM7 107h1v1h-1zM14 107h3v1h-3zM20 107h1v1h-1zM25 107h1v1h-1zM31 107h1v1h-1zM21 108h1v1h-1zM27 108h1v1h-1zM29 109h1v1h-1zM36 109h1v1h-1zM45 109h1v1h-1zM19 110h1v1h-1zM27 110h1v1h-1zM33 110h1v1h-1zM39 110h1v1h-1zM1 111h1v1h-1zM3 111h1v1h-1zM22 111h1v1h-1zM27 111h1v1h-1zM30 111h2v1h-2zM2 112h2v1h-2zM19 112h1v1h-1zM27 112h1v1h-1zM35 112h1v1h-1zM42 112h1v1h-1zM3 113h1v1h-1zM26 113h1v1h-1zM35 113h1v1h-1zM50 113h1v1h-1zM29 114h1v1h-1zM31 114h1v1h-1zM37 114h2v1h-2zM56 114h1v1h-1zM2 115h3v1h-3zM9 115h1v1h-1zM13 115h1v1h-1zM18 115h1v1h-1zM30 115h1v1h-1zM5 116h1v1h-1zM10 116h1v1h-1zM21 116h1v1h-1zM24 116h3v1h-3zM28 116h1v1h-1zM18 117h1v1h-1zM26 117h1v1h-1zM28 117h1v1h-1zM32 117h1v1h-1zM51 117h1v1h-1zM14 118h1v1h-1zM20 118h1v1h-1zM22 118h1v1h-1zM28 118h1v1h-1zM35 118h2v1h-2zM38 118h1v1h-1zM49 118h1v1h-1zM0 119h1v1h-1zM7 119h1v1h-1zM12 119h2v1h-2zM16 119h1v1h-1zM33 119h1v1h-1zM35 119h1v1h-1zM51 119h1v1h-1z"/><path fill="#b4d8f0" d="M19 0h1v1h-1zM37 0h1v1h-1zM56 0h1v1h-1zM58 0h1v1h-1zM32 1h1v1h-1zM12 2h1v1h-1zM15 2h1v1h-1zM19 2h1v1h-1zM27 2h1v1h-1zM34 2h1v1h-1zM36 3h1v1h-1zM40 3h1v1h-1zM43 3h1v1h-1zM45 3h1v1h-1zM38 4h1v1h-1zM0 5h1v1h-1zM2 5h1v1h-1zM16 5h1v1h-1zM27 5h1v1h-1zM31 5h1v1h-1zM40 5h1v1h-1zM46 5h1v1h-1zM57 5h1v1h-1zM20 6h1v1h-1zM32 6h2v1h-2zM36 6h1v1h-1zM47 6h1v1h-1zM32 7h1v1h-1zM35 7h1v1h-1zM32 8h1v1h-1zM36 8h1v1h-1zM46 8h1v1h-1zM49 8h1v1h-1zM52 8h1v1h-1zM3 9h1v1h-1zM36 9h1v1h-1zM44 9h1v1h-1zM29 10h1v1h-1zM35 10h1v1h-1zM3 11h1v1h-1zM15 11h1v1h-1zM37 11h1v1h-1zM12 12h1v1h-1zM17 12h1v1h-1zM28 12h1v1h-1zM35 14h1v1h-1zM58 14h1v1h-1zM19 15h1v1h-1zM44 15h1v1h-1zM47 15h1v1h-1zM47 16h1v1h-1zM56 16h1v1h-1zM18 17h2v1h-2zM40 17h1v1h-1zM56 17h1v1h-1zM58 17h1v1h-1zM33 18h1v1h-1zM45 19h1v1h-1zM56 19h1v1h-1zM18 20h2v1h-2zM32 20h2v1h-2zM52 20h1v1h-1zM8 21h1v1h-1zM23 21h1v1h-1zM39 21h1v1h-1zM47 21h1v1h-1zM55 21h1v1h-1zM46 22h1v1h-1zM52 22h1v1h-1zM55 22h1v1h-1zM18 23h1v1h-1zM36 23h1v1h-1zM49 23h1v1h-1zM18 24h1v1h-1zM23 24h1v1h-1zM59 24h1v1h-1zM49 26h1v1h-1zM34 27h1v1h-1zM49 27h1v1h-1zM17 28h1v1h-1zM34 28h1v1h-1zM42 28h1v1h-1zM59 28h1v1h-1zM33 29h1v1h-1zM17 30h1v1h-1zM46 30h1v1h-1zM48 31h1v1h-1zM52 31h1v1h-1zM32 32h1v1h-1zM50 32h1v1h-1zM38 33h1v1h-1zM51 33h1v1h-1zM18 34h1v1h-1zM23 34h1v1h-1zM42 34h1v1h-1zM45 34h1v1h-1zM59 34h1v1h-1zM3 35h1v1h-1zM20 35h1v1h-1zM30 35h1v1h-1zM32 35h1v1h-1zM0 36h2v1h-2zM13 36h1v1h-1zM15 36h1v1h-1zM17 36h2v1h-2zM20 36h1v1h-1zM28 36h1v1h-1zM30 36h1v1h-1zM3 37h1v1h-1zM16 37h1v1h-1zM26 37h1v1h-1zM17 38h3v1h-3zM22 38h1v1h-1zM38 39h1v1h-1zM47 40h1v1h-1zM12 41h1v1h-1zM32 41h1v1h-1zM35 41h1v1h-1zM40 41h1v1h-1zM32 42h1v1h-1zM36 42h4v1h-4zM18 43h1v1h-1zM20 43h1v1h-1zM36 43h1v1h-1zM17 44h1v1h-1zM19 44h1v1h-1zM34 44h1v1h-1zM36 44h1v1h-1zM40 44h1v1h-1zM44 44h1v1h-1zM32 46h1v1h-1zM49 46h1v1h-1zM35 47h1v1h-1zM43 47h1v1h-1zM18 48h1v1h-1zM23 48h2v1h-2zM30 48h1v1h-1zM35 48h1v1h-1zM42 48h1v1h-1zM32 49h1v1h-1zM3 50h1v1h-1zM15 50h1v1h-1zM18 50h1v1h-1zM37 50h1v1h-1zM39 50h1v1h-1zM32 51h1v1h-1zM35 51h1v1h-1zM15 52h1v1h-1zM34 52h1v1h-1zM42 52h1v1h-1zM32 53h2v1h-2zM37 53h1v1h-1zM14 54h1v1h-1zM18 54h1v1h-1zM41 54h1v1h-1zM0 55h1v1h-1zM13 55h1v1h-1zM19 55h1v1h-1zM25 55h1v1h-1zM31 55h1v1h-1zM42 55h1v1h-1zM18 56h2v1h-2zM22 57h1v1h-1zM32 57h1v1h-1zM51 57h1v1h-1zM19 58h1v1h-1zM34 58h1v1h-1zM37 58h1v1h-1zM41 58h1v1h-1zM54 58h1v1h-1zM56 58h1v1h-1zM16 60h1v1h-1zM21 60h1v1h-1zM33 60h1v1h-1zM1 61h1v1h-1zM31 61h1v1h-1zM42 61h1v1h-1zM58 61h1v1h-1zM24 62h1v1h-1zM17 63h1v1h-1zM31 63h1v1h-1zM59 63h1v1h-1zM0 64h1v1h-1zM18 64h1v1h-1zM37 64h2v1h-2zM19 65h1v1h-1zM26 65h1v1h-1zM13 66h1v1h-1zM16 66h1v1h-1zM32 66h1v1h-1zM47 66h1v1h-1zM55 66h1v1h-1zM59 66h1v1h-1zM16 67h1v1h-1zM18 67h2v1h-2zM51 67h1v1h-1zM54 68h1v1h-1zM34 69h1v1h-1zM40 69h1v1h-1zM19 70h1v1h-1zM35 70h2v1h-2zM40 70h1v1h-1zM30 71h1v1h-1zM35 71h2v1h-2zM59 71h1v1h-1zM33 72h1v1h-1zM36 72h2v1h-2zM39 72h1v1h-1zM16 73h1v1h-1zM19 73h1v1h-1zM22 73h1v1h-1zM27 73h1v1h-1zM35 73h1v1h-1zM42 73h1v1h-1zM3 74h1v1h-1zM5 74h1v1h-1zM19 74h1v1h-1zM26 74h1v1h-1zM31 74h1v1h-1zM53 74h1v1h-1zM59 74h1v1h-1zM18 75h2v1h-2zM27 75h1v1h-1zM31 75h1v1h-1zM36 75h1v1h-1zM46 75h1v1h-1zM55 75h1v1h-1zM5 76h1v1h-1zM14 76h1v1h-1zM21 76h1v1h-1zM24 76h1v1h-1zM27 76h1v1h-1zM48 76h2v1h-2zM56 77h1v1h-1zM0 78h1v1h-1zM19 78h1v1h-1zM35 78h1v1h-1zM47 78h1v1h-1zM50 78h1v1h-1zM21 79h1v1h-1zM33 79h1v1h-1zM16 80h1v1h-1zM28 80h1v1h-1zM39 80h1v1h-1zM15 81h1v1h-1zM18 81h1v1h-1zM37 81h2v1h-2zM51 81h1v1h-1zM55 81h1v1h-1zM36 82h2v1h-2zM46 82h1v1h-1zM49 82h1v1h-1zM52 83h1v1h-1zM18 84h1v1h-1zM29 84h1v1h-1zM28 85h1v1h-1zM32 85h1v1h-1zM35 85h1v1h-1zM19 86h1v1h-1zM34 86h1v1h-1zM39 86h1v1h-1zM47 86h1v1h-1zM31 87h1v1h-1zM49 87h1v1h-1zM58 87h1v1h-1zM0 88h1v1h-1zM15 88h1v1h-1zM17 88h1v1h-1zM39 88h1v1h-1zM4 89h1v1h-1zM18 89h2v1h-2zM13 90h1v1h-1zM15 90h1v1h-1zM18 90h1v1h-1zM30 90h1v1h-1zM39 90h1v1h-1zM59 90h1v1h-1zM46 91h1v1h-1zM0 92h1v1h-1zM12 92h1v1h-1zM23 92h1v1h-1zM28 92h1v1h-1zM50 92h1v1h-1zM55 92h1v1h-1zM46 93h1v1h-1zM55 93h1v1h-1zM14 95h1v1h-1zM20 95h1v1h-1zM34 95h3v1h-3zM39 95h1v1h-1zM46 95h1v1h-1zM57 95h1v1h-1zM16 96h1v1h-1zM18 96h2v1h-2zM23 96h1v1h-1zM34 96h1v1h-1zM47 96h1v1h-1zM14 97h1v1h-1zM18 97h1v1h-1zM27 97h1v1h-1zM53 97h1v1h-1zM19 99h1v1h-1zM25 99h1v1h-1zM31 99h2v1h-2zM36 99h1v1h-1zM44 99h1v1h-1zM46 99h1v1h-1zM48 99h1v1h-1zM59 99h1v1h-1zM15 100h1v1h-1zM21 101h1v1h-1zM36 101h3v1h-3zM45 101h1v1h-1zM16 102h1v1h-1zM30 102h1v1h-1zM42 102h1v1h-1zM52 102h1v1h-1zM24 103h1v1h-1zM27 103h1v1h-1zM34 103h1v1h-1zM40 103h1v1h-1zM50 103h1v1h-1zM59 103h1v1h-1zM45 104h1v1h-1zM47 104h1v1h-1zM51 104h2v1h-2zM57 104h1v1h-1zM59 104h1v1h-1zM18 105h1v1h-1zM31 105h1v1h-1zM36 105h1v1h-1zM1 106h1v1h-1zM49 106h1v1h-1zM1 107h1v1h-1zM13 107h1v1h-1zM19 107h1v1h-1zM42 107h1v1h-1zM12 108h1v1h-1zM17 108h2v1h-2zM32 108h1v1h-1zM55 108h1v1h-1zM20 109h1v1h-1zM28 110h1v1h-1zM31 110h2v1h-2zM35 110h1v1h-1zM43 110h1v1h-1zM59 110h1v1h-1zM14 112h1v1h-1zM23 112h1v1h-1zM55 112h1v1h-1zM18 113h1v1h-1zM12 114h1v1h-1zM28 114h1v1h-1zM46 114h1v1h-1zM51 114h1v1h-1zM1 115h1v1h-1zM12 115h1v1h-1zM16 115h2v1h-2zM22 115h3v1h-3zM28 115h1v1h-1zM1 116h1v1h-1zM15 116h1v1h-1zM27 116h1v1h-1zM31 116h1v1h-1zM50 116h1v1h-1zM12 117h1v1h-1zM27 117h1v1h-1zM31 117h1v1h-1zM54 117h1v1h-1zM0 118h1v1h-1zM2 118h1v1h-1zM19 118h1v1h-1zM59 118h1v1h-1zM3 119h1v1h-1zM21 119h1v1h-1zM32 119h1v1h-1zM42 119h1v1h-1zM49 119h1v1h-1z"/><path fill="#549cd8" d="M25 0h1v1h-1zM4 18h1v1h-1zM4 19h1v1h-1zM6 19h1v1h-1zM8 19h1v1h-1zM7 22h2v1h-2zM9 27h1v1h-1zM11 30h1v1h-1zM6 31h1v1h-1zM9 31h1v1h-1zM8 32h1v1h-1zM10 33h1v1h-1zM4 34h1v1h-1zM7 38h1v1h-1zM27 39h1v1h-1zM6 42h1v1h-1zM6 45h1v1h-1zM7 47h1v1h-1zM10 47h1v1h-1zM4 51h1v1h-1zM4 52h1v1h-1zM12 58h1v1h-1zM4 59h1v1h-1zM5 68h1v1h-1zM7 69h1v1h-1zM4 70h1v1h-1zM6 70h1v1h-1zM6 72h1v1h-1zM10 72h1v1h-1zM6 79h1v1h-1zM4 81h1v1h-1zM7 85h1v1h-1zM7 92h1v1h-1zM7 112h1v1h-1z"/><path fill="#d8f0f0" d="M34 0h1v1h-1zM49 0h1v1h-1zM0 1h1v1h-1zM37 1h2v1h-2zM44 1h1v1h-1zM47 1h1v1h-1zM56 1h4v1h-4zM32 2h1v1h-1zM46 2h1v1h-1zM48 2h2v1h-2zM58 2h1v1h-1zM39 3h1v1h-1zM59 3h1v1h-1zM16 4h1v1h-1zM44 4h1v1h-1zM50 4h1v1h-1zM15 5h1v1h-1zM38 5h1v1h-1zM43 5h1v1h-1zM49 5h1v1h-1zM46 6h1v1h-1zM53 6h1v1h-1zM16 7h1v1h-1zM44 7h3v1h-3zM48 7h1v1h-1zM54 7h2v1h-2zM59 7h1v1h-1zM39 8h1v1h-1zM53 8h1v1h-1zM38 9h2v1h-2zM42 9h1v1h-1zM56 9h1v1h-1zM59 9h1v1h-1zM33 10h2v1h-2zM44 10h1v1h-1zM46 10h1v1h-1zM49 10h2v1h-2zM53 10h1v1h-1zM57 10h3v1h-3zM13 11h1v1h-1zM19 11h1v1h-1zM21 11h1v1h-1zM38 11h1v1h-1zM45 11h1v1h-1zM47 11h1v1h-1zM58 11h2v1h-2zM34 12h1v1h-1zM42 12h1v1h-1zM46 12h1v1h-1zM48 12h1v1h-1zM58 12h1v1h-1zM27 13h1v1h-1zM35 13h1v1h-1zM47 13h1v1h-1zM53 13h2v1h-2zM56 13h1v1h-1zM43 14h1v1h-1zM48 14h1v1h-1zM55 14h2v1h-2zM36 15h1v1h-1zM39 15h1v1h-1zM53 15h1v1h-1zM16 16h1v1h-1zM38 16h1v1h-1zM40 16h1v1h-1zM42 16h1v1h-1zM44 16h1v1h-1zM48 16h1v1h-1zM59 16h1v1h-1zM34 17h1v1h-1zM39 17h1v1h-1zM42 17h2v1h-2zM47 17h1v1h-1zM51 17h1v1h-1zM53 17h1v1h-1zM35 18h1v1h-1zM41 18h1v1h-1zM46 18h1v1h-1zM57 18h1v1h-1zM46 19h1v1h-1zM52 19h2v1h-2zM39 20h1v1h-1zM41 20h1v1h-1zM42 21h1v1h-1zM45 21h2v1h-2zM48 21h1v1h-1zM50 21h1v1h-1zM53 21h1v1h-1zM47 22h1v1h-1zM59 22h1v1h-1zM37 23h2v1h-2zM46 23h1v1h-1zM59 23h1v1h-1zM44 24h1v1h-1zM50 24h1v1h-1zM39 25h2v1h-2zM47 25h1v1h-1zM55 25h1v1h-1zM39 26h2v1h-2zM46 26h1v1h-1zM53 26h1v1h-1zM36 27h1v1h-1zM39 27h1v1h-1zM33 28h1v1h-1zM48 28h2v1h-2zM54 28h1v1h-1zM58 28h1v1h-1zM42 29h1v1h-1zM53 29h1v1h-1zM57 29h1v1h-1zM59 29h1v1h-1zM42 30h1v1h-1zM53 30h1v1h-1zM56 30h1v1h-1zM58 30h1v1h-1zM27 31h1v1h-1zM50 31h1v1h-1zM56 31h3v1h-3zM39 32h1v1h-1zM42 32h1v1h-1zM51 32h1v1h-1zM49 33h1v1h-1zM43 34h1v1h-1zM55 34h1v1h-1zM36 35h1v1h-1zM39 35h1v1h-1zM42 35h1v1h-1zM46 35h1v1h-1zM42 36h1v1h-1zM49 36h1v1h-1zM58 36h1v1h-1zM18 37h1v1h-1zM40 37h1v1h-1zM43 37h1v1h-1zM46 37h2v1h-2zM59 37h1v1h-1zM35 38h2v1h-2zM38 38h1v1h-1zM40 38h1v1h-1zM42 38h1v1h-1zM44 38h1v1h-1zM47 38h3v1h-3zM58 38h1v1h-1zM49 39h1v1h-1zM53 39h1v1h-1zM58 39h1v1h-1zM41 40h1v1h-1zM43 40h1v1h-1zM49 40h1v1h-1zM34 41h1v1h-1zM41 41h1v1h-1zM46 41h1v1h-1zM52 41h1v1h-1zM59 41h1v1h-1zM41 42h1v1h-1zM43 42h1v1h-1zM48 42h1v1h-1zM33 43h2v1h-2zM43 43h1v1h-1zM48 43h1v1h-1zM51 43h1v1h-1zM57 43h1v1h-1zM59 43h1v1h-1zM42 44h1v1h-1zM48 44h1v1h-1zM52 44h1v1h-1zM59 44h1v1h-1zM40 45h1v1h-1zM45 45h1v1h-1zM52 45h1v1h-1zM59 45h1v1h-1zM43 46h1v1h-1zM52 46h1v1h-1zM58 46h1v1h-1zM36 47h1v1h-1zM40 47h1v1h-1zM52 47h1v1h-1zM54 47h1v1h-1zM58 47h2v1h-2zM25 48h1v1h-1zM34 48h1v1h-1zM37 48h2v1h-2zM40 48h1v1h-1zM54 48h2v1h-2zM58 48h1v1h-1zM23 49h1v1h-1zM37 49h2v1h-2zM40 49h1v1h-1zM47 49h2v1h-2zM56 49h1v1h-1zM34 50h1v1h-1zM53 50h1v1h-1zM34 51h1v1h-1zM38 51h1v1h-1zM46 51h2v1h-2zM52 51h1v1h-1zM55 51h1v1h-1zM20 52h1v1h-1zM39 52h1v1h-1zM41 52h1v1h-1zM44 52h2v1h-2zM53 52h2v1h-2zM33 54h1v1h-1zM39 54h2v1h-2zM44 54h2v1h-2zM51 54h1v1h-1zM54 54h1v1h-1zM53 55h1v1h-1zM58 55h1v1h-1zM49 56h1v1h-1zM51 56h1v1h-1zM53 56h1v1h-1zM55 56h1v1h-1zM40 57h1v1h-1zM48 57h2v1h-2zM52 57h2v1h-2zM45 58h3v1h-3zM51 58h1v1h-1zM40 59h1v1h-1zM48 59h1v1h-1zM54 59h1v1h-1zM39 60h1v1h-1zM43 60h1v1h-1zM48 60h1v1h-1zM44 61h1v1h-1zM49 61h1v1h-1zM52 61h1v1h-1zM33 62h2v1h-2zM37 62h1v1h-1zM43 62h1v1h-1zM54 62h1v1h-1zM57 62h1v1h-1zM18 63h1v1h-1zM33 63h1v1h-1zM36 63h1v1h-1zM44 63h1v1h-1zM46 63h1v1h-1zM48 63h2v1h-2zM54 63h1v1h-1zM56 63h1v1h-1zM58 63h1v1h-1zM42 64h1v1h-1zM52 64h1v1h-1zM58 64h2v1h-2zM0 65h1v1h-1zM39 65h1v1h-1zM50 65h1v1h-1zM59 65h1v1h-1zM23 66h1v1h-1zM35 66h2v1h-2zM42 66h1v1h-1zM46 66h1v1h-1zM57 66h1v1h-1zM38 67h2v1h-2zM42 67h1v1h-1zM49 67h1v1h-1zM55 67h1v1h-1zM34 68h1v1h-1zM39 68h1v1h-1zM39 69h1v1h-1zM46 69h3v1h-3zM51 69h1v1h-1zM58 69h2v1h-2zM39 70h1v1h-1zM47 70h1v1h-1zM49 70h1v1h-1zM56 70h1v1h-1zM45 71h1v1h-1zM53 71h1v1h-1zM57 71h1v1h-1zM40 72h1v1h-1zM43 72h1v1h-1zM45 72h1v1h-1zM54 72h1v1h-1zM1 73h1v1h-1zM3 73h1v1h-1zM45 73h2v1h-2zM51 73h2v1h-2zM18 74h1v1h-1zM33 74h1v1h-1zM35 74h2v1h-2zM42 74h1v1h-1zM55 74h1v1h-1zM23 75h1v1h-1zM32 75h1v1h-1zM45 75h1v1h-1zM48 75h3v1h-3zM57 75h1v1h-1zM34 76h1v1h-1zM43 76h1v1h-1zM51 76h2v1h-2zM54 76h2v1h-2zM58 76h1v1h-1zM38 77h1v1h-1zM42 77h1v1h-1zM45 77h1v1h-1zM48 77h1v1h-1zM37 78h1v1h-1zM46 78h1v1h-1zM48 78h1v1h-1zM53 78h4v1h-4zM35 79h1v1h-1zM47 79h1v1h-1zM52 79h1v1h-1zM18 80h2v1h-2zM40 80h1v1h-1zM47 80h1v1h-1zM50 80h1v1h-1zM52 80h1v1h-1zM55 80h1v1h-1zM59 80h1v1h-1zM42 81h1v1h-1zM46 81h1v1h-1zM56 81h1v1h-1zM58 81h2v1h-2zM48 82h1v1h-1zM55 83h1v1h-1zM57 83h1v1h-1zM2 84h1v1h-1zM36 84h1v1h-1zM40 84h1v1h-1zM50 84h1v1h-1zM50 85h1v1h-1zM53 85h1v1h-1zM4 87h1v1h-1zM36 87h1v1h-1zM19 88h1v1h-1zM37 88h1v1h-1zM44 88h2v1h-2zM52 88h2v1h-2zM33 89h2v1h-2zM39 89h1v1h-1zM42 89h1v1h-1zM59 89h1v1h-1zM33 90h1v1h-1zM36 90h1v1h-1zM17 91h1v1h-1zM32 91h1v1h-1zM35 91h1v1h-1zM37 91h1v1h-1zM43 91h1v1h-1zM51 91h1v1h-1zM59 91h1v1h-1zM21 92h1v1h-1zM57 92h1v1h-1zM48 93h1v1h-1zM54 93h1v1h-1zM59 93h1v1h-1zM39 94h1v1h-1zM43 94h1v1h-1zM53 94h1v1h-1zM55 94h1v1h-1zM22 95h1v1h-1zM45 95h1v1h-1zM52 95h1v1h-1zM58 95h1v1h-1zM35 96h1v1h-1zM38 96h1v1h-1zM42 96h1v1h-1zM48 96h1v1h-1zM51 96h1v1h-1zM53 96h1v1h-1zM55 96h1v1h-1zM32 97h1v1h-1zM52 97h1v1h-1zM56 97h1v1h-1zM34 98h1v1h-1zM53 98h1v1h-1zM55 98h1v1h-1zM57 98h1v1h-1zM14 99h1v1h-1zM18 99h1v1h-1zM37 99h1v1h-1zM40 99h1v1h-1zM49 99h1v1h-1zM52 99h1v1h-1zM55 99h1v1h-1zM58 99h1v1h-1zM11 100h1v1h-1zM43 100h1v1h-1zM50 100h1v1h-1zM56 100h1v1h-1zM2 101h1v1h-1zM34 101h1v1h-1zM42 101h2v1h-2zM53 101h1v1h-1zM56 101h1v1h-1zM54 102h1v1h-1zM18 103h1v1h-1zM43 103h1v1h-1zM54 103h1v1h-1zM58 103h1v1h-1zM46 104h1v1h-1zM49 104h1v1h-1zM55 104h1v1h-1zM46 105h2v1h-2zM55 105h1v1h-1zM58 105h1v1h-1zM38 106h1v1h-1zM45 106h2v1h-2zM55 106h1v1h-1zM57 106h1v1h-1zM36 107h1v1h-1zM8 108h1v1h-1zM33 108h1v1h-1zM52 108h1v1h-1zM17 109h1v1h-1zM32 109h1v1h-1zM34 109h2v1h-2zM48 109h1v1h-1zM57 109h1v1h-1zM41 110h1v1h-1zM45 110h1v1h-1zM48 110h1v1h-1zM55 110h1v1h-1zM57 110h2v1h-2zM46 111h2v1h-2zM51 111h1v1h-1zM55 111h1v1h-1zM45 112h2v1h-2zM53 112h1v1h-1zM56 112h1v1h-1zM42 113h1v1h-1zM53 113h2v1h-2zM56 113h1v1h-1zM32 114h2v1h-2zM27 115h1v1h-1zM34 115h1v1h-1zM36 115h1v1h-1zM38 115h1v1h-1zM57 115h1v1h-1zM18 116h1v1h-1zM35 116h2v1h-2zM47 116h2v1h-2zM47 117h1v1h-1zM58 117h1v1h-1zM39 118h1v1h-1zM45 118h1v1h-1zM48 118h1v1h-1zM53 118h1v1h-1zM55 118h1v1h-1zM15 119h1v1h-1zM28 119h1v1h-1zM31 119h1v1h-1zM38 119h1v1h-1zM40 119h1v1h-1zM45 119h1v1h-1zM47 119h1v1h-1zM55 119h1v1h-1z"/><path fill="#e4f0f0" d="M35 0h2v1h-2zM38 0h1v1h-1zM33 1h2v1h-2zM45 1h1v1h-1zM48 1h1v1h-1zM35 2h1v1h-1zM47 2h1v1h-1zM53 2h1v1h-1zM56 2h1v1h-1zM44 3h1v1h-1zM58 3h1v1h-1zM36 4h1v1h-1zM40 4h1v1h-1zM34 5h1v1h-1zM39 5h1v1h-1zM51 5h1v1h-1zM53 5h1v1h-1zM55 5h1v1h-1zM59 5h1v1h-1zM38 6h1v1h-1zM52 6h1v1h-1zM59 6h1v1h-1zM56 8h3v1h-3zM43 9h1v1h-1zM46 9h1v1h-1zM49 9h1v1h-1zM58 9h1v1h-1zM38 10h1v1h-1zM51 10h1v1h-1zM54 10h1v1h-1zM56 10h1v1h-1zM28 11h1v1h-1zM33 11h1v1h-1zM33 12h1v1h-1zM45 12h1v1h-1zM47 12h1v1h-1zM44 13h1v1h-1zM57 13h1v1h-1zM19 14h1v1h-1zM45 14h1v1h-1zM52 14h1v1h-1zM59 14h1v1h-1zM34 15h1v1h-1zM42 15h1v1h-1zM48 15h1v1h-1zM54 15h1v1h-1zM17 16h1v1h-1zM32 16h1v1h-1zM46 16h1v1h-1zM49 16h1v1h-1zM51 16h1v1h-1zM44 17h1v1h-1zM45 18h1v1h-1zM42 19h1v1h-1zM47 19h1v1h-1zM51 19h1v1h-1zM34 20h1v1h-1zM45 20h1v1h-1zM55 20h1v1h-1zM37 21h1v1h-1zM57 21h1v1h-1zM57 22h1v1h-1zM43 23h1v1h-1zM35 24h1v1h-1zM33 25h1v1h-1zM49 25h1v1h-1zM51 25h1v1h-1zM54 25h1v1h-1zM42 26h3v1h-3zM57 26h1v1h-1zM59 26h1v1h-1zM41 27h1v1h-1zM45 27h2v1h-2zM56 27h1v1h-1zM58 27h1v1h-1zM38 28h1v1h-1zM40 28h2v1h-2zM55 28h1v1h-1zM57 28h1v1h-1zM46 29h2v1h-2zM49 29h1v1h-1zM52 29h1v1h-1zM38 30h1v1h-1zM51 30h1v1h-1zM54 30h1v1h-1zM59 30h1v1h-1zM38 31h1v1h-1zM49 31h1v1h-1zM44 32h1v1h-1zM47 32h1v1h-1zM52 32h1v1h-1zM57 32h1v1h-1zM33 33h1v1h-1zM41 33h2v1h-2zM53 33h3v1h-3zM34 34h1v1h-1zM49 34h1v1h-1zM52 34h1v1h-1zM37 35h2v1h-2zM48 35h1v1h-1zM35 36h1v1h-1zM38 36h1v1h-1zM48 36h1v1h-1zM56 36h1v1h-1zM2 37h1v1h-1zM31 37h1v1h-1zM38 37h2v1h-2zM44 37h1v1h-1zM51 37h1v1h-1zM54 37h1v1h-1zM57 37h1v1h-1zM41 38h1v1h-1zM43 38h1v1h-1zM45 38h1v1h-1zM56 38h1v1h-1zM59 38h1v1h-1zM43 39h1v1h-1zM47 39h1v1h-1zM52 39h1v1h-1zM40 40h1v1h-1zM44 40h1v1h-1zM57 40h1v1h-1zM33 41h1v1h-1zM50 41h1v1h-1zM57 41h1v1h-1zM44 42h1v1h-1zM47 42h1v1h-1zM53 42h1v1h-1zM57 42h2v1h-2zM42 43h1v1h-1zM46 43h1v1h-1zM54 43h1v1h-1zM58 43h1v1h-1zM47 44h1v1h-1zM51 44h1v1h-1zM54 44h1v1h-1zM39 45h1v1h-1zM54 45h1v1h-1zM39 46h2v1h-2zM44 46h1v1h-1zM50 46h1v1h-1zM54 46h1v1h-1zM57 46h1v1h-1zM46 47h2v1h-2zM49 47h1v1h-1zM51 47h1v1h-1zM57 47h1v1h-1zM32 48h1v1h-1zM39 48h1v1h-1zM43 48h2v1h-2zM51 48h2v1h-2zM59 48h1v1h-1zM46 49h1v1h-1zM55 49h1v1h-1zM58 49h1v1h-1zM33 50h1v1h-1zM40 50h1v1h-1zM48 50h3v1h-3zM56 50h1v1h-1zM39 51h2v1h-2zM48 51h1v1h-1zM54 51h1v1h-1zM47 52h1v1h-1zM49 52h1v1h-1zM52 52h1v1h-1zM55 52h1v1h-1zM58 52h1v1h-1zM43 53h1v1h-1zM47 53h2v1h-2zM53 53h1v1h-1zM55 53h1v1h-1zM33 55h1v1h-1zM37 55h1v1h-1zM39 55h1v1h-1zM47 55h1v1h-1zM50 55h1v1h-1zM57 55h1v1h-1zM25 56h1v1h-1zM38 56h1v1h-1zM45 56h1v1h-1zM54 56h1v1h-1zM4 57h1v1h-1zM33 57h1v1h-1zM44 57h1v1h-1zM56 57h1v1h-1zM36 58h1v1h-1zM40 58h1v1h-1zM43 58h1v1h-1zM48 58h2v1h-2zM57 58h1v1h-1zM35 59h1v1h-1zM38 59h1v1h-1zM45 59h1v1h-1zM35 60h1v1h-1zM41 60h1v1h-1zM49 60h1v1h-1zM37 61h1v1h-1zM39 61h2v1h-2zM39 62h1v1h-1zM42 62h1v1h-1zM46 62h1v1h-1zM52 62h1v1h-1zM58 62h2v1h-2zM41 63h2v1h-2zM47 63h1v1h-1zM51 63h1v1h-1zM39 64h1v1h-1zM41 64h1v1h-1zM45 64h1v1h-1zM50 64h1v1h-1zM53 64h1v1h-1zM38 65h1v1h-1zM45 65h1v1h-1zM47 65h1v1h-1zM49 65h1v1h-1zM43 66h1v1h-1zM52 66h1v1h-1zM54 66h1v1h-1zM56 66h1v1h-1zM59 67h1v1h-1zM38 68h1v1h-1zM46 68h2v1h-2zM49 68h2v1h-2zM59 68h1v1h-1zM42 69h1v1h-1zM44 69h2v1h-2zM57 69h1v1h-1zM34 70h1v1h-1zM41 70h1v1h-1zM43 70h1v1h-1zM48 70h1v1h-1zM50 70h1v1h-1zM53 70h2v1h-2zM28 71h1v1h-1zM37 71h1v1h-1zM41 71h1v1h-1zM54 71h2v1h-2zM47 72h1v1h-1zM49 72h1v1h-1zM56 72h1v1h-1zM58 72h1v1h-1zM34 73h1v1h-1zM59 73h1v1h-1zM34 74h1v1h-1zM47 74h1v1h-1zM38 75h1v1h-1zM44 75h1v1h-1zM53 75h1v1h-1zM56 75h1v1h-1zM59 75h1v1h-1zM33 76h1v1h-1zM39 76h1v1h-1zM41 76h2v1h-2zM50 76h1v1h-1zM33 77h1v1h-1zM43 77h2v1h-2zM53 77h2v1h-2zM58 77h1v1h-1zM34 78h1v1h-1zM36 78h1v1h-1zM40 78h1v1h-1zM58 78h2v1h-2zM17 79h1v1h-1zM45 79h2v1h-2zM50 79h1v1h-1zM48 80h1v1h-1zM56 80h1v1h-1zM33 81h1v1h-1zM43 81h1v1h-1zM57 81h1v1h-1zM50 82h1v1h-1zM59 82h1v1h-1zM37 83h1v1h-1zM39 83h1v1h-1zM44 83h1v1h-1zM46 83h1v1h-1zM49 83h1v1h-1zM54 83h1v1h-1zM35 84h1v1h-1zM44 84h1v1h-1zM52 84h1v1h-1zM43 85h1v1h-1zM45 85h2v1h-2zM48 85h1v1h-1zM51 85h1v1h-1zM57 85h1v1h-1zM42 86h1v1h-1zM48 86h1v1h-1zM52 86h1v1h-1zM28 87h1v1h-1zM43 87h1v1h-1zM45 87h1v1h-1zM50 87h1v1h-1zM55 87h1v1h-1zM41 88h1v1h-1zM50 88h1v1h-1zM55 88h1v1h-1zM35 89h1v1h-1zM46 89h1v1h-1zM51 89h1v1h-1zM38 90h1v1h-1zM48 90h1v1h-1zM53 90h2v1h-2zM40 91h1v1h-1zM44 91h1v1h-1zM54 91h1v1h-1zM43 92h1v1h-1zM54 92h1v1h-1zM41 93h2v1h-2zM44 93h1v1h-1zM50 93h1v1h-1zM53 93h1v1h-1zM56 93h1v1h-1zM40 94h2v1h-2zM54 94h1v1h-1zM59 94h1v1h-1zM31 95h1v1h-1zM41 95h1v1h-1zM51 95h1v1h-1zM54 95h1v1h-1zM56 95h1v1h-1zM39 96h1v1h-1zM46 96h1v1h-1zM58 96h1v1h-1zM34 97h1v1h-1zM42 97h1v1h-1zM44 97h1v1h-1zM54 97h2v1h-2zM59 97h1v1h-1zM43 98h1v1h-1zM50 98h2v1h-2zM45 99h1v1h-1zM47 99h1v1h-1zM51 99h1v1h-1zM53 100h2v1h-2zM58 100h1v1h-1zM40 101h2v1h-2zM51 101h1v1h-1zM36 102h1v1h-1zM51 102h1v1h-1zM53 102h1v1h-1zM55 102h1v1h-1zM39 103h1v1h-1zM41 103h1v1h-1zM45 103h2v1h-2zM57 103h1v1h-1zM44 104h1v1h-1zM53 104h1v1h-1zM34 105h1v1h-1zM48 105h3v1h-3zM53 105h2v1h-2zM48 106h1v1h-1zM52 106h1v1h-1zM44 107h1v1h-1zM47 107h1v1h-1zM49 107h1v1h-1zM52 107h1v1h-1zM59 107h1v1h-1zM13 108h1v1h-1zM38 108h1v1h-1zM48 108h1v1h-1zM39 109h1v1h-1zM47 109h1v1h-1zM34 110h1v1h-1zM40 110h1v1h-1zM42 110h1v1h-1zM46 110h1v1h-1zM50 110h1v1h-1zM53 110h1v1h-1zM56 110h1v1h-1zM35 111h1v1h-1zM42 111h1v1h-1zM52 111h1v1h-1zM59 111h1v1h-1zM36 112h1v1h-1zM39 112h3v1h-3zM57 112h1v1h-1zM46 113h2v1h-2zM55 113h1v1h-1zM36 114h1v1h-1zM40 114h1v1h-1zM50 114h1v1h-1zM59 114h1v1h-1zM19 115h1v1h-1zM32 115h1v1h-1zM37 115h1v1h-1zM42 115h1v1h-1zM44 115h1v1h-1zM48 115h2v1h-2zM55 115h1v1h-1zM37 116h1v1h-1zM39 116h2v1h-2zM45 116h2v1h-2zM51 116h1v1h-1zM38 117h1v1h-1zM40 117h1v1h-1zM43 117h1v1h-1zM49 117h1v1h-1zM55 117h1v1h-1zM37 118h1v1h-1zM46 118h1v1h-1zM52 118h1v1h-1zM54 118h1v1h-1zM56 118h2v1h-2zM54 119h1v1h-1zM59 119h1v1h-1z"/><path fill="#cce4f0" d="M39 0h1v1h-1zM42 0h1v1h-1zM44 0h1v1h-1zM36 1h1v1h-1zM39 1h2v1h-2zM54 1h1v1h-1zM14 2h1v1h-1zM17 2h1v1h-1zM38 2h1v1h-1zM51 2h1v1h-1zM42 3h1v1h-1zM47 3h1v1h-1zM56 3h2v1h-2zM42 4h1v1h-1zM45 4h1v1h-1zM49 4h1v1h-1zM51 4h1v1h-1zM33 5h1v1h-1zM19 6h1v1h-1zM27 6h1v1h-1zM40 6h1v1h-1zM56 6h1v1h-1zM27 7h1v1h-1zM33 7h2v1h-2zM33 8h2v1h-2zM38 8h1v1h-1zM48 8h1v1h-1zM59 8h1v1h-1zM35 9h1v1h-1zM2 10h1v1h-1zM19 10h1v1h-1zM37 10h1v1h-1zM39 10h1v1h-1zM48 10h1v1h-1zM29 11h1v1h-1zM36 11h1v1h-1zM39 11h1v1h-1zM42 11h1v1h-1zM50 11h1v1h-1zM32 12h1v1h-1zM40 12h1v1h-1zM56 12h1v1h-1zM16 13h1v1h-1zM20 13h1v1h-1zM36 13h1v1h-1zM38 13h3v1h-3zM51 13h1v1h-1zM39 14h1v1h-1zM47 14h1v1h-1zM49 14h1v1h-1zM53 14h1v1h-1zM40 15h1v1h-1zM45 15h1v1h-1zM55 15h1v1h-1zM0 16h1v1h-1zM35 16h2v1h-2zM57 16h1v1h-1zM45 17h2v1h-2zM55 17h1v1h-1zM16 18h1v1h-1zM49 18h1v1h-1zM56 18h1v1h-1zM41 19h1v1h-1zM43 19h1v1h-1zM42 20h1v1h-1zM54 20h1v1h-1zM16 21h1v1h-1zM40 21h1v1h-1zM35 22h1v1h-1zM37 22h2v1h-2zM40 22h2v1h-2zM53 22h1v1h-1zM56 22h1v1h-1zM58 22h1v1h-1zM34 23h2v1h-2zM39 23h1v1h-1zM54 23h2v1h-2zM57 23h1v1h-1zM33 24h1v1h-1zM36 24h1v1h-1zM38 24h1v1h-1zM47 24h2v1h-2zM54 24h1v1h-1zM32 25h1v1h-1zM38 25h1v1h-1zM56 25h1v1h-1zM58 25h1v1h-1zM18 26h1v1h-1zM20 26h1v1h-1zM34 26h1v1h-1zM47 26h1v1h-1zM52 26h1v1h-1zM38 27h1v1h-1zM59 27h1v1h-1zM32 28h1v1h-1zM51 28h1v1h-1zM34 29h1v1h-1zM45 29h1v1h-1zM54 29h1v1h-1zM56 29h1v1h-1zM47 30h1v1h-1zM49 30h1v1h-1zM55 30h1v1h-1zM40 31h1v1h-1zM43 31h1v1h-1zM55 32h1v1h-1zM58 32h1v1h-1zM43 33h1v1h-1zM48 33h1v1h-1zM35 34h1v1h-1zM46 34h1v1h-1zM53 34h1v1h-1zM57 34h2v1h-2zM23 35h1v1h-1zM29 35h1v1h-1zM55 35h1v1h-1zM59 35h1v1h-1zM33 37h1v1h-1zM35 37h2v1h-2zM54 38h1v1h-1zM39 39h1v1h-1zM54 39h1v1h-1zM54 40h1v1h-1zM16 41h1v1h-1zM45 41h1v1h-1zM33 42h1v1h-1zM35 42h1v1h-1zM40 42h1v1h-1zM42 42h1v1h-1zM50 42h1v1h-1zM56 42h1v1h-1zM19 43h1v1h-1zM35 43h1v1h-1zM40 43h1v1h-1zM50 43h1v1h-1zM43 44h1v1h-1zM56 45h1v1h-1zM18 46h1v1h-1zM33 46h1v1h-1zM51 46h1v1h-1zM32 47h1v1h-1zM27 48h1v1h-1zM36 49h1v1h-1zM39 49h1v1h-1zM45 49h1v1h-1zM51 49h1v1h-1zM59 49h1v1h-1zM19 50h1v1h-1zM35 50h1v1h-1zM42 50h1v1h-1zM47 50h1v1h-1zM40 52h1v1h-1zM43 52h1v1h-1zM46 52h1v1h-1zM59 52h1v1h-1zM17 53h1v1h-1zM21 53h1v1h-1zM35 53h2v1h-2zM46 53h1v1h-1zM51 53h1v1h-1zM57 53h1v1h-1zM32 54h1v1h-1zM38 55h1v1h-1zM46 55h1v1h-1zM48 55h1v1h-1zM54 55h1v1h-1zM39 56h2v1h-2zM42 56h1v1h-1zM46 56h1v1h-1zM56 56h1v1h-1zM35 57h1v1h-1zM42 57h1v1h-1zM42 58h1v1h-1zM50 58h1v1h-1zM58 58h1v1h-1zM33 59h1v1h-1zM55 59h1v1h-1zM45 60h1v1h-1zM47 60h1v1h-1zM58 60h1v1h-1zM36 61h1v1h-1zM54 61h1v1h-1zM19 62h1v1h-1zM36 62h1v1h-1zM38 62h1v1h-1zM40 62h1v1h-1zM49 62h1v1h-1zM37 63h1v1h-1zM40 63h1v1h-1zM35 64h1v1h-1zM56 64h1v1h-1zM27 65h1v1h-1zM51 65h2v1h-2zM17 66h1v1h-1zM44 66h1v1h-1zM22 67h1v1h-1zM57 67h1v1h-1zM42 68h1v1h-1zM52 68h1v1h-1zM49 69h1v1h-1zM39 71h1v1h-1zM44 71h1v1h-1zM49 71h1v1h-1zM51 71h1v1h-1zM13 72h1v1h-1zM38 72h1v1h-1zM53 72h1v1h-1zM4 73h1v1h-1zM29 73h1v1h-1zM38 73h1v1h-1zM55 73h1v1h-1zM0 74h1v1h-1zM37 74h1v1h-1zM40 74h1v1h-1zM33 75h1v1h-1zM47 75h1v1h-1zM56 76h1v1h-1zM36 77h1v1h-1zM49 77h1v1h-1zM55 77h1v1h-1zM57 77h1v1h-1zM59 77h1v1h-1zM39 78h1v1h-1zM45 78h1v1h-1zM29 79h1v1h-1zM32 79h1v1h-1zM42 79h1v1h-1zM44 79h1v1h-1zM53 79h1v1h-1zM56 79h1v1h-1zM32 80h1v1h-1zM34 80h1v1h-1zM49 80h1v1h-1zM40 81h1v1h-1zM45 81h1v1h-1zM33 82h1v1h-1zM39 82h1v1h-1zM45 82h1v1h-1zM52 82h3v1h-3zM58 82h1v1h-1zM16 83h1v1h-1zM18 83h1v1h-1zM33 83h1v1h-1zM40 83h1v1h-1zM33 84h2v1h-2zM42 84h1v1h-1zM45 84h1v1h-1zM51 84h1v1h-1zM56 84h1v1h-1zM33 85h1v1h-1zM38 85h1v1h-1zM49 85h1v1h-1zM52 85h1v1h-1zM58 85h1v1h-1zM35 86h2v1h-2zM58 86h1v1h-1zM33 87h1v1h-1zM35 87h1v1h-1zM41 87h2v1h-2zM46 87h1v1h-1zM13 88h1v1h-1zM27 88h1v1h-1zM34 88h2v1h-2zM47 88h1v1h-1zM49 88h1v1h-1zM16 89h1v1h-1zM53 89h1v1h-1zM56 89h1v1h-1zM58 89h1v1h-1zM40 90h1v1h-1zM43 90h1v1h-1zM46 90h1v1h-1zM57 90h1v1h-1zM31 91h1v1h-1zM34 91h1v1h-1zM39 91h1v1h-1zM56 91h1v1h-1zM46 92h1v1h-1zM56 92h1v1h-1zM59 92h1v1h-1zM35 94h1v1h-1zM45 94h1v1h-1zM50 94h1v1h-1zM56 94h1v1h-1zM33 95h1v1h-1zM37 95h1v1h-1zM17 96h1v1h-1zM25 96h1v1h-1zM57 96h1v1h-1zM36 97h1v1h-1zM0 98h1v1h-1zM18 98h1v1h-1zM33 98h1v1h-1zM35 98h1v1h-1zM45 98h1v1h-1zM48 98h1v1h-1zM52 98h1v1h-1zM42 99h1v1h-1zM54 99h1v1h-1zM2 100h1v1h-1zM40 100h1v1h-1zM44 100h1v1h-1zM57 100h1v1h-1zM48 101h1v1h-1zM55 101h1v1h-1zM58 101h1v1h-1zM43 102h1v1h-1zM59 102h1v1h-1zM53 103h1v1h-1zM55 103h1v1h-1zM38 105h1v1h-1zM45 105h1v1h-1zM6 106h1v1h-1zM18 106h1v1h-1zM35 106h2v1h-2zM50 106h1v1h-1zM0 108h1v1h-1zM19 108h1v1h-1zM28 108h2v1h-2zM35 108h1v1h-1zM47 108h1v1h-1zM5 109h1v1h-1zM19 109h1v1h-1zM49 109h1v1h-1zM58 109h1v1h-1zM38 110h1v1h-1zM37 111h2v1h-2zM0 112h1v1h-1zM18 112h1v1h-1zM38 112h1v1h-1zM34 113h1v1h-1zM37 113h1v1h-1zM19 114h1v1h-1zM39 114h1v1h-1zM52 114h1v1h-1zM0 115h1v1h-1zM21 115h1v1h-1zM29 115h1v1h-1zM34 116h1v1h-1zM44 116h1v1h-1zM52 116h1v1h-1zM59 116h1v1h-1zM32 118h2v1h-2zM44 118h1v1h-1zM47 118h1v1h-1zM36 119h1v1h-1zM39 119h1v1h-1zM43 119h1v1h-1zM52 119h1v1h-1z"/><path fill="#ccf0f0" d="M41 0h1v1h-1zM17 1h1v1h-1zM52 1h1v1h-1zM59 2h1v1h-1zM34 3h1v1h-1zM50 3h1v1h-1zM54 4h2v1h-2zM52 5h1v1h-1zM0 6h1v1h-1zM33 9h1v1h-1zM55 9h1v1h-1zM47 10h1v1h-1zM54 11h1v1h-1zM31 12h1v1h-1zM54 12h1v1h-1zM33 14h1v1h-1zM38 15h1v1h-1zM51 15h1v1h-1zM33 16h1v1h-1zM50 16h1v1h-1zM52 16h1v1h-1zM54 16h1v1h-1zM59 17h1v1h-1zM55 19h1v1h-1zM38 20h1v1h-1zM46 20h1v1h-1zM42 22h1v1h-1zM45 23h1v1h-1zM39 24h1v1h-1zM34 25h2v1h-2zM44 25h1v1h-1zM50 25h1v1h-1zM50 26h1v1h-1zM58 26h1v1h-1zM32 27h2v1h-2zM57 27h1v1h-1zM36 28h1v1h-1zM44 30h1v1h-1zM53 31h1v1h-1zM17 32h1v1h-1zM49 32h1v1h-1zM56 33h1v1h-1zM34 35h1v1h-1zM34 36h1v1h-1zM52 37h1v1h-1zM56 37h1v1h-1zM32 39h1v1h-1zM42 39h1v1h-1zM52 43h1v1h-1zM45 44h1v1h-1zM53 46h1v1h-1zM56 46h1v1h-1zM39 47h1v1h-1zM33 51h1v1h-1zM32 52h1v1h-1zM52 53h1v1h-1zM52 54h1v1h-1zM18 55h1v1h-1zM40 55h1v1h-1zM37 56h1v1h-1zM39 57h1v1h-1zM47 57h1v1h-1zM19 59h1v1h-1zM46 59h1v1h-1zM18 60h1v1h-1zM2 61h1v1h-1zM35 63h1v1h-1zM39 63h1v1h-1zM32 65h1v1h-1zM49 66h1v1h-1zM32 68h1v1h-1zM37 68h1v1h-1zM56 69h1v1h-1zM58 70h2v1h-2zM48 71h1v1h-1zM59 72h1v1h-1zM33 73h1v1h-1zM38 74h1v1h-1zM46 74h1v1h-1zM50 74h1v1h-1zM34 75h1v1h-1zM54 75h1v1h-1zM53 76h1v1h-1zM38 79h1v1h-1zM51 79h1v1h-1zM31 80h1v1h-1zM42 82h2v1h-2zM34 83h2v1h-2zM0 84h1v1h-1zM19 85h1v1h-1zM36 85h1v1h-1zM42 85h1v1h-1zM46 86h1v1h-1zM18 88h1v1h-1zM32 89h1v1h-1zM47 89h1v1h-1zM17 90h1v1h-1zM58 90h1v1h-1zM45 91h1v1h-1zM58 91h1v1h-1zM34 92h1v1h-1zM43 93h1v1h-1zM37 94h2v1h-2zM44 94h1v1h-1zM50 95h1v1h-1zM52 96h1v1h-1zM59 96h1v1h-1zM49 98h1v1h-1zM15 99h1v1h-1zM35 100h1v1h-1zM48 100h1v1h-1zM52 100h1v1h-1zM19 101h1v1h-1zM46 101h1v1h-1zM34 102h1v1h-1zM47 103h1v1h-1zM56 103h1v1h-1zM56 104h1v1h-1zM57 105h1v1h-1zM42 106h1v1h-1zM50 107h1v1h-1zM34 108h1v1h-1zM39 108h1v1h-1zM42 108h1v1h-1zM44 108h1v1h-1zM51 108h1v1h-1zM40 109h1v1h-1zM42 109h1v1h-1zM50 109h1v1h-1zM51 110h1v1h-1zM48 111h1v1h-1zM38 116h1v1h-1zM34 119h1v1h-1zM56 119h1v1h-1z"/><path fill="#fce490" d="M43 0h1v1h-1zM41 2h1v1h-1zM41 6h1v1h-1zM34 13h1v1h-1zM41 16h1v1h-1zM40 27h1v1h-1zM36 36h1v1h-1zM41 37h1v1h-1zM45 43h1v1h-1zM34 45h1v1h-1zM41 48h1v1h-1zM38 63h1v1h-1zM56 67h1v1h-1zM41 75h1v1h-1zM43 88h1v1h-1zM41 89h1v1h-1zM58 92h1v1h-1zM44 96h1v1h-1zM56 102h1v1h-1zM41 107h1v1h-1zM58 115h1v1h-1z"/><path fill="#c0e4f0" d="M45 0h2v1h-2zM57 0h1v1h-1zM3 1h1v1h-1zM18 1h1v1h-1zM46 1h1v1h-1zM36 2h2v1h-2zM39 2h2v1h-2zM50 2h1v1h-1zM54 2h2v1h-2zM35 3h1v1h-1zM46 3h1v1h-1zM54 3h2v1h-2zM52 4h1v1h-1zM57 4h1v1h-1zM35 5h1v1h-1zM42 5h1v1h-1zM21 6h1v1h-1zM37 6h1v1h-1zM44 6h1v1h-1zM49 6h1v1h-1zM51 6h1v1h-1zM55 6h1v1h-1zM58 6h1v1h-1zM17 7h1v1h-1zM21 7h1v1h-1zM24 7h1v1h-1zM49 7h1v1h-1zM19 8h1v1h-1zM27 8h1v1h-1zM44 8h1v1h-1zM47 8h1v1h-1zM50 8h1v1h-1zM54 8h1v1h-1zM40 9h1v1h-1zM45 9h1v1h-1zM47 9h2v1h-2zM53 9h1v1h-1zM57 9h1v1h-1zM18 10h1v1h-1zM40 10h1v1h-1zM55 10h1v1h-1zM16 11h2v1h-2zM26 11h2v1h-2zM31 11h1v1h-1zM35 11h1v1h-1zM48 11h1v1h-1zM57 11h1v1h-1zM3 12h1v1h-1zM18 12h1v1h-1zM35 12h1v1h-1zM39 12h1v1h-1zM49 12h1v1h-1zM52 12h1v1h-1zM59 12h1v1h-1zM19 13h1v1h-1zM31 13h1v1h-1zM37 13h1v1h-1zM50 13h1v1h-1zM58 13h1v1h-1zM18 14h1v1h-1zM34 14h1v1h-1zM46 14h1v1h-1zM50 14h2v1h-2zM54 14h1v1h-1zM57 14h1v1h-1zM37 15h1v1h-1zM49 15h2v1h-2zM34 16h1v1h-1zM2 17h1v1h-1zM30 17h1v1h-1zM33 17h1v1h-1zM35 17h1v1h-1zM38 17h1v1h-1zM48 17h2v1h-2zM57 17h1v1h-1zM17 18h1v1h-1zM34 18h1v1h-1zM44 18h1v1h-1zM48 18h1v1h-1zM50 18h2v1h-2zM53 18h1v1h-1zM55 18h1v1h-1zM44 19h1v1h-1zM48 19h1v1h-1zM37 20h1v1h-1zM47 20h1v1h-1zM51 20h1v1h-1zM56 20h1v1h-1zM58 20h1v1h-1zM49 21h1v1h-1zM56 21h1v1h-1zM59 21h1v1h-1zM16 22h1v1h-1zM39 22h1v1h-1zM54 22h1v1h-1zM2 23h1v1h-1zM17 23h1v1h-1zM32 23h1v1h-1zM47 23h2v1h-2zM56 23h1v1h-1zM40 24h1v1h-1zM43 24h1v1h-1zM45 24h2v1h-2zM55 24h1v1h-1zM0 25h1v1h-1zM42 25h1v1h-1zM46 25h1v1h-1zM53 25h1v1h-1zM3 26h1v1h-1zM19 26h1v1h-1zM33 26h1v1h-1zM45 26h1v1h-1zM56 26h1v1h-1zM17 27h1v1h-1zM28 27h1v1h-1zM35 27h1v1h-1zM42 27h2v1h-2zM51 27h1v1h-1zM53 27h1v1h-1zM55 27h1v1h-1zM39 28h1v1h-1zM43 28h2v1h-2zM47 28h1v1h-1zM40 29h1v1h-1zM43 29h1v1h-1zM33 30h2v1h-2zM36 30h1v1h-1zM48 30h1v1h-1zM33 31h2v1h-2zM39 31h1v1h-1zM46 31h2v1h-2zM55 31h1v1h-1zM59 31h1v1h-1zM36 32h2v1h-2zM40 32h1v1h-1zM48 32h1v1h-1zM34 33h1v1h-1zM37 33h1v1h-1zM47 33h1v1h-1zM52 33h1v1h-1zM57 33h2v1h-2zM14 34h1v1h-1zM32 34h1v1h-1zM47 34h1v1h-1zM18 35h2v1h-2zM49 35h1v1h-1zM56 35h1v1h-1zM2 36h1v1h-1zM14 36h1v1h-1zM19 36h1v1h-1zM21 36h1v1h-1zM31 36h1v1h-1zM37 36h1v1h-1zM39 36h1v1h-1zM45 36h1v1h-1zM17 37h1v1h-1zM19 37h1v1h-1zM45 37h1v1h-1zM37 38h1v1h-1zM39 38h1v1h-1zM21 39h1v1h-1zM36 39h1v1h-1zM46 39h1v1h-1zM51 39h1v1h-1zM56 39h1v1h-1zM59 39h1v1h-1zM18 40h1v1h-1zM46 40h1v1h-1zM51 40h2v1h-2zM55 40h1v1h-1zM36 41h1v1h-1zM39 41h1v1h-1zM47 41h1v1h-1zM51 41h1v1h-1zM18 42h1v1h-1zM25 42h1v1h-1zM49 42h1v1h-1zM55 42h1v1h-1zM37 43h1v1h-1zM39 43h1v1h-1zM22 44h1v1h-1zM38 44h1v1h-1zM58 44h1v1h-1zM38 45h1v1h-1zM58 45h1v1h-1zM42 46h1v1h-1zM47 46h1v1h-1zM17 47h2v1h-2zM37 47h1v1h-1zM42 47h1v1h-1zM55 47h1v1h-1zM0 48h1v1h-1zM19 48h1v1h-1zM31 48h1v1h-1zM15 49h1v1h-1zM18 49h1v1h-1zM35 49h1v1h-1zM49 49h1v1h-1zM31 50h2v1h-2zM52 50h1v1h-1zM59 50h1v1h-1zM27 51h1v1h-1zM30 51h1v1h-1zM36 51h1v1h-1zM56 51h1v1h-1zM33 52h1v1h-1zM36 52h1v1h-1zM31 53h1v1h-1zM34 53h1v1h-1zM38 53h1v1h-1zM40 53h3v1h-3zM49 53h1v1h-1zM58 53h1v1h-1zM17 54h1v1h-1zM42 54h1v1h-1zM46 54h1v1h-1zM55 54h2v1h-2zM28 55h1v1h-1zM34 55h3v1h-3zM49 55h1v1h-1zM51 55h1v1h-1zM56 55h1v1h-1zM14 56h1v1h-1zM16 56h1v1h-1zM28 56h1v1h-1zM33 56h2v1h-2zM36 56h1v1h-1zM59 56h1v1h-1zM18 57h2v1h-2zM27 57h1v1h-1zM38 57h1v1h-1zM46 57h1v1h-1zM58 57h1v1h-1zM24 58h1v1h-1zM38 58h1v1h-1zM55 58h1v1h-1zM34 59h1v1h-1zM47 59h1v1h-1zM58 59h2v1h-2zM0 60h1v1h-1zM42 60h1v1h-1zM57 60h1v1h-1zM59 60h1v1h-1zM19 61h1v1h-1zM33 61h1v1h-1zM17 62h1v1h-1zM27 62h1v1h-1zM19 63h1v1h-1zM32 63h1v1h-1zM53 63h1v1h-1zM33 64h2v1h-2zM17 65h1v1h-1zM34 65h1v1h-1zM40 65h1v1h-1zM42 65h1v1h-1zM14 66h1v1h-1zM18 66h1v1h-1zM33 66h1v1h-1zM39 66h1v1h-1zM48 66h1v1h-1zM33 67h1v1h-1zM17 69h1v1h-1zM38 69h1v1h-1zM43 69h1v1h-1zM52 69h1v1h-1zM54 69h2v1h-2zM38 70h1v1h-1zM46 70h1v1h-1zM51 70h1v1h-1zM34 71h1v1h-1zM40 71h1v1h-1zM42 71h1v1h-1zM46 71h1v1h-1zM58 71h1v1h-1zM3 72h1v1h-1zM18 72h1v1h-1zM22 72h1v1h-1zM28 72h1v1h-1zM32 72h1v1h-1zM34 72h1v1h-1zM0 73h1v1h-1zM17 73h1v1h-1zM32 73h1v1h-1zM37 73h1v1h-1zM49 73h1v1h-1zM54 73h1v1h-1zM56 73h1v1h-1zM58 73h1v1h-1zM15 74h1v1h-1zM27 74h1v1h-1zM32 74h1v1h-1zM39 74h1v1h-1zM49 74h1v1h-1zM52 74h1v1h-1zM2 75h1v1h-1zM17 75h1v1h-1zM29 75h1v1h-1zM37 75h1v1h-1zM39 75h1v1h-1zM0 76h1v1h-1zM17 76h2v1h-2zM20 76h1v1h-1zM32 76h1v1h-1zM38 76h1v1h-1zM40 76h1v1h-1zM47 76h1v1h-1zM57 76h1v1h-1zM19 77h1v1h-1zM35 77h1v1h-1zM39 77h2v1h-2zM33 78h1v1h-1zM38 78h1v1h-1zM49 78h1v1h-1zM13 79h1v1h-1zM19 79h1v1h-1zM31 79h1v1h-1zM34 79h1v1h-1zM49 79h1v1h-1zM54 79h1v1h-1zM0 80h1v1h-1zM12 80h1v1h-1zM36 81h1v1h-1zM48 81h1v1h-1zM53 81h1v1h-1zM3 82h1v1h-1zM24 82h1v1h-1zM38 82h1v1h-1zM40 82h1v1h-1zM44 82h1v1h-1zM51 82h1v1h-1zM3 83h1v1h-1zM17 83h1v1h-1zM20 83h1v1h-1zM36 83h1v1h-1zM47 83h1v1h-1zM51 83h1v1h-1zM56 83h1v1h-1zM37 84h1v1h-1zM55 84h1v1h-1zM39 85h1v1h-1zM44 85h1v1h-1zM55 85h2v1h-2zM18 86h1v1h-1zM38 86h1v1h-1zM40 86h1v1h-1zM45 86h1v1h-1zM49 86h1v1h-1zM53 86h1v1h-1zM56 86h1v1h-1zM32 87h1v1h-1zM47 87h1v1h-1zM53 87h1v1h-1zM3 88h1v1h-1zM20 88h1v1h-1zM22 88h1v1h-1zM32 88h1v1h-1zM36 88h1v1h-1zM0 89h1v1h-1zM13 89h1v1h-1zM17 89h1v1h-1zM36 89h1v1h-1zM40 89h1v1h-1zM16 90h1v1h-1zM19 90h1v1h-1zM26 90h1v1h-1zM32 90h1v1h-1zM42 90h1v1h-1zM49 90h1v1h-1zM55 90h2v1h-2zM0 91h1v1h-1zM27 91h1v1h-1zM38 91h1v1h-1zM42 91h1v1h-1zM47 91h1v1h-1zM50 91h1v1h-1zM52 91h1v1h-1zM57 91h1v1h-1zM16 92h2v1h-2zM47 92h1v1h-1zM38 93h1v1h-1zM40 93h1v1h-1zM52 93h1v1h-1zM57 93h1v1h-1zM36 94h1v1h-1zM51 94h1v1h-1zM17 95h2v1h-2zM40 95h1v1h-1zM47 95h1v1h-1zM53 95h1v1h-1zM55 95h1v1h-1zM24 96h1v1h-1zM31 96h1v1h-1zM33 96h1v1h-1zM49 96h1v1h-1zM12 97h1v1h-1zM30 97h1v1h-1zM45 97h1v1h-1zM58 97h1v1h-1zM37 98h1v1h-1zM39 98h1v1h-1zM47 98h1v1h-1zM17 99h1v1h-1zM29 99h1v1h-1zM34 99h1v1h-1zM39 99h1v1h-1zM50 99h1v1h-1zM53 99h1v1h-1zM57 99h1v1h-1zM17 100h1v1h-1zM19 100h1v1h-1zM38 100h1v1h-1zM46 100h2v1h-2zM49 100h1v1h-1zM59 100h1v1h-1zM44 101h1v1h-1zM47 101h1v1h-1zM50 101h1v1h-1zM0 102h1v1h-1zM35 102h1v1h-1zM38 102h1v1h-1zM45 102h1v1h-1zM50 102h1v1h-1zM16 103h1v1h-1zM33 103h1v1h-1zM36 103h1v1h-1zM42 103h1v1h-1zM37 104h1v1h-1zM39 104h1v1h-1zM43 104h1v1h-1zM48 104h1v1h-1zM50 104h1v1h-1zM33 105h1v1h-1zM35 105h1v1h-1zM51 105h1v1h-1zM59 105h1v1h-1zM19 106h1v1h-1zM32 106h1v1h-1zM39 106h1v1h-1zM51 106h1v1h-1zM56 106h1v1h-1zM3 107h1v1h-1zM18 107h1v1h-1zM28 107h1v1h-1zM32 107h1v1h-1zM16 108h1v1h-1zM31 108h1v1h-1zM36 108h1v1h-1zM58 108h1v1h-1zM18 109h1v1h-1zM27 109h1v1h-1zM37 109h1v1h-1zM47 110h1v1h-1zM18 111h1v1h-1zM20 111h1v1h-1zM32 111h1v1h-1zM39 111h2v1h-2zM45 111h1v1h-1zM49 111h1v1h-1zM56 111h1v1h-1zM58 111h1v1h-1zM17 112h1v1h-1zM31 112h1v1h-1zM49 112h1v1h-1zM59 112h1v1h-1zM40 113h1v1h-1zM45 113h1v1h-1zM48 113h1v1h-1zM58 113h2v1h-2zM16 114h1v1h-1zM18 114h1v1h-1zM26 114h1v1h-1zM34 114h2v1h-2zM57 114h1v1h-1zM15 115h1v1h-1zM0 116h1v1h-1zM17 116h1v1h-1zM19 116h1v1h-1zM32 116h2v1h-2zM0 117h1v1h-1zM17 117h1v1h-1zM33 117h1v1h-1zM36 117h1v1h-1zM44 117h2v1h-2zM48 117h1v1h-1zM52 117h1v1h-1zM59 117h1v1h-1zM34 118h1v1h-1zM40 118h1v1h-1zM51 118h1v1h-1zM58 118h1v1h-1zM1 119h1v1h-1zM18 119h2v1h-2z"/><path fill="#9cccf0" d="M47 0h2v1h-2zM55 0h1v1h-1zM59 0h1v1h-1zM12 1h1v1h-1zM14 1h1v1h-1zM26 1h1v1h-1zM31 1h1v1h-1zM3 2h1v1h-1zM16 2h1v1h-1zM20 2h1v1h-1zM22 2h1v1h-1zM24 2h1v1h-1zM10 3h1v1h-1zM17 3h1v1h-1zM26 3h1v1h-1zM48 3h1v1h-1zM13 4h1v1h-1zM22 4h1v1h-1zM59 4h1v1h-1zM19 5h2v1h-2zM28 5h1v1h-1zM3 6h1v1h-1zM11 6h1v1h-1zM24 6h1v1h-1zM0 7h1v1h-1zM13 7h1v1h-1zM19 7h1v1h-1zM22 7h1v1h-1zM26 7h1v1h-1zM0 8h1v1h-1zM14 8h1v1h-1zM37 8h1v1h-1zM40 8h1v1h-1zM45 8h1v1h-1zM2 9h1v1h-1zM22 9h1v1h-1zM5 10h1v1h-1zM23 10h1v1h-1zM10 11h1v1h-1zM2 12h1v1h-1zM4 12h1v1h-1zM10 12h1v1h-1zM13 12h1v1h-1zM25 12h1v1h-1zM36 12h1v1h-1zM25 13h2v1h-2zM12 14h1v1h-1zM36 14h1v1h-1zM14 15h1v1h-1zM18 15h1v1h-1zM20 15h1v1h-1zM35 15h1v1h-1zM10 16h1v1h-1zM13 16h1v1h-1zM20 16h1v1h-1zM24 16h2v1h-2zM27 16h1v1h-1zM29 16h1v1h-1zM16 17h1v1h-1zM20 17h1v1h-1zM18 18h1v1h-1zM37 18h1v1h-1zM47 18h1v1h-1zM58 18h1v1h-1zM3 19h1v1h-1zM13 19h1v1h-1zM22 19h2v1h-2zM57 19h1v1h-1zM17 20h1v1h-1zM31 20h1v1h-1zM48 20h2v1h-2zM12 21h1v1h-1zM32 21h1v1h-1zM3 22h1v1h-1zM28 22h1v1h-1zM0 23h1v1h-1zM52 23h1v1h-1zM1 24h1v1h-1zM22 24h1v1h-1zM32 24h1v1h-1zM37 24h1v1h-1zM56 24h1v1h-1zM3 25h1v1h-1zM13 25h1v1h-1zM48 25h1v1h-1zM1 26h1v1h-1zM7 26h1v1h-1zM10 26h1v1h-1zM17 26h1v1h-1zM23 26h1v1h-1zM27 26h1v1h-1zM29 26h1v1h-1zM31 26h1v1h-1zM35 26h1v1h-1zM51 26h1v1h-1zM18 27h2v1h-2zM22 27h1v1h-1zM24 27h1v1h-1zM13 28h1v1h-1zM16 28h1v1h-1zM18 28h1v1h-1zM2 29h1v1h-1zM17 29h1v1h-1zM22 29h1v1h-1zM32 29h1v1h-1zM37 29h2v1h-2zM51 29h1v1h-1zM55 29h1v1h-1zM58 29h1v1h-1zM19 30h1v1h-1zM28 30h1v1h-1zM32 30h1v1h-1zM18 32h2v1h-2zM23 32h1v1h-1zM33 32h1v1h-1zM13 33h1v1h-1zM28 33h2v1h-2zM35 33h1v1h-1zM40 33h1v1h-1zM15 34h1v1h-1zM21 34h1v1h-1zM31 34h1v1h-1zM40 34h1v1h-1zM2 35h1v1h-1zM17 35h1v1h-1zM21 35h1v1h-1zM27 35h2v1h-2zM35 35h1v1h-1zM16 36h1v1h-1zM22 36h2v1h-2zM13 37h1v1h-1zM20 37h1v1h-1zM25 37h1v1h-1zM30 37h1v1h-1zM3 38h1v1h-1zM16 38h1v1h-1zM28 39h1v1h-1zM34 39h1v1h-1zM20 40h1v1h-1zM36 40h3v1h-3zM17 41h1v1h-1zM38 41h1v1h-1zM19 42h1v1h-1zM28 42h1v1h-1zM31 42h1v1h-1zM13 43h1v1h-1zM16 43h1v1h-1zM21 43h1v1h-1zM31 43h1v1h-1zM15 44h1v1h-1zM23 44h1v1h-1zM31 44h1v1h-1zM33 44h1v1h-1zM56 44h1v1h-1zM24 45h1v1h-1zM30 45h1v1h-1zM32 45h1v1h-1zM0 47h1v1h-1zM1 48h2v1h-2zM9 48h1v1h-1zM15 48h1v1h-1zM33 48h1v1h-1zM46 48h1v1h-1zM0 49h1v1h-1zM16 49h2v1h-2zM25 49h1v1h-1zM14 50h1v1h-1zM17 50h1v1h-1zM22 50h1v1h-1zM3 51h1v1h-1zM18 51h1v1h-1zM3 52h1v1h-1zM19 52h1v1h-1zM35 52h1v1h-1zM14 53h1v1h-1zM25 53h1v1h-1zM29 53h1v1h-1zM59 53h1v1h-1zM30 54h1v1h-1zM35 54h1v1h-1zM10 55h1v1h-1zM15 55h1v1h-1zM17 55h1v1h-1zM20 55h1v1h-1zM27 55h1v1h-1zM1 56h1v1h-1zM0 57h1v1h-1zM20 57h1v1h-1zM30 57h1v1h-1zM34 57h1v1h-1zM15 58h1v1h-1zM18 58h1v1h-1zM25 58h1v1h-1zM27 58h1v1h-1zM35 58h1v1h-1zM31 59h2v1h-2zM36 59h2v1h-2zM42 59h1v1h-1zM14 60h1v1h-1zM20 60h1v1h-1zM36 60h1v1h-1zM21 61h1v1h-1zM51 61h1v1h-1zM20 62h2v1h-2zM25 62h1v1h-1zM32 62h1v1h-1zM0 63h1v1h-1zM3 63h1v1h-1zM20 63h1v1h-1zM2 64h1v1h-1zM27 64h1v1h-1zM36 64h1v1h-1zM3 65h1v1h-1zM31 65h1v1h-1zM29 66h1v1h-1zM31 66h1v1h-1zM2 67h2v1h-2zM14 67h1v1h-1zM2 68h1v1h-1zM33 68h1v1h-1zM15 69h1v1h-1zM28 69h1v1h-1zM0 70h1v1h-1zM18 70h1v1h-1zM31 70h1v1h-1zM0 72h1v1h-1zM14 72h3v1h-3zM27 72h1v1h-1zM31 72h1v1h-1zM51 72h1v1h-1zM5 73h1v1h-1zM12 73h1v1h-1zM20 73h1v1h-1zM31 73h1v1h-1zM17 74h1v1h-1zM24 74h1v1h-1zM28 74h1v1h-1zM30 74h1v1h-1zM0 75h1v1h-1zM3 75h1v1h-1zM12 75h1v1h-1zM15 75h1v1h-1zM28 75h1v1h-1zM58 75h1v1h-1zM1 76h1v1h-1zM3 76h1v1h-1zM19 76h1v1h-1zM29 76h1v1h-1zM36 76h1v1h-1zM1 77h1v1h-1zM8 77h1v1h-1zM16 77h1v1h-1zM23 77h1v1h-1zM27 77h2v1h-2zM2 78h1v1h-1zM13 78h1v1h-1zM16 78h1v1h-1zM21 78h2v1h-2zM1 79h3v1h-3zM25 79h1v1h-1zM27 79h1v1h-1zM1 80h1v1h-1zM6 80h1v1h-1zM14 80h2v1h-2zM23 80h1v1h-1zM37 80h1v1h-1zM12 81h1v1h-1zM49 81h1v1h-1zM16 82h2v1h-2zM30 82h1v1h-1zM55 82h1v1h-1zM14 83h1v1h-1zM22 83h1v1h-1zM25 83h1v1h-1zM27 83h1v1h-1zM30 83h2v1h-2zM38 83h1v1h-1zM48 83h1v1h-1zM3 84h1v1h-1zM21 84h1v1h-1zM24 84h4v1h-4zM26 85h1v1h-1zM47 85h1v1h-1zM13 86h1v1h-1zM21 86h1v1h-1zM32 86h1v1h-1zM17 87h1v1h-1zM29 87h2v1h-2zM4 88h1v1h-1zM23 88h1v1h-1zM5 89h1v1h-1zM12 89h1v1h-1zM22 89h1v1h-1zM1 90h2v1h-2zM8 90h1v1h-1zM12 90h1v1h-1zM23 90h1v1h-1zM25 90h1v1h-1zM37 90h1v1h-1zM24 91h1v1h-1zM55 91h1v1h-1zM13 92h1v1h-1zM33 92h1v1h-1zM39 92h1v1h-1zM19 93h1v1h-1zM32 93h1v1h-1zM35 93h1v1h-1zM37 93h1v1h-1zM51 93h1v1h-1zM1 94h1v1h-1zM16 94h2v1h-2zM34 94h1v1h-1zM4 95h1v1h-1zM9 95h1v1h-1zM30 95h1v1h-1zM38 95h1v1h-1zM59 95h1v1h-1zM2 96h1v1h-1zM21 96h1v1h-1zM27 96h1v1h-1zM32 96h1v1h-1zM36 96h1v1h-1zM21 97h1v1h-1zM29 97h1v1h-1zM2 98h1v1h-1zM10 98h1v1h-1zM36 98h1v1h-1zM40 98h1v1h-1zM23 99h1v1h-1zM27 99h1v1h-1zM38 99h1v1h-1zM13 100h2v1h-2zM31 100h1v1h-1zM34 100h1v1h-1zM1 101h1v1h-1zM15 101h2v1h-2zM23 101h1v1h-1zM26 101h2v1h-2zM29 101h1v1h-1zM35 101h1v1h-1zM11 102h1v1h-1zM14 102h1v1h-1zM22 102h2v1h-2zM29 102h1v1h-1zM39 102h1v1h-1zM2 103h1v1h-1zM14 103h1v1h-1zM28 103h1v1h-1zM35 103h1v1h-1zM38 103h1v1h-1zM3 104h1v1h-1zM17 104h1v1h-1zM42 104h1v1h-1zM54 104h1v1h-1zM1 105h1v1h-1zM20 105h1v1h-1zM56 105h1v1h-1zM17 106h1v1h-1zM4 107h1v1h-1zM12 107h1v1h-1zM17 107h1v1h-1zM29 107h2v1h-2zM35 107h1v1h-1zM37 107h1v1h-1zM2 108h1v1h-1zM15 108h1v1h-1zM23 109h1v1h-1zM30 109h1v1h-1zM6 110h1v1h-1zM15 110h1v1h-1zM18 110h1v1h-1zM24 110h1v1h-1zM5 111h1v1h-1zM15 111h2v1h-2zM25 111h1v1h-1zM36 111h1v1h-1zM34 112h1v1h-1zM36 113h1v1h-1zM0 114h1v1h-1zM5 114h1v1h-1zM17 114h1v1h-1zM23 114h2v1h-2zM5 115h1v1h-1zM8 115h1v1h-1zM26 115h1v1h-1zM13 116h1v1h-1zM22 116h1v1h-1zM19 117h1v1h-1zM30 117h1v1h-1zM34 117h2v1h-2zM12 118h1v1h-1zM30 118h2v1h-2zM2 119h1v1h-1zM10 119h1v1h-1zM17 119h1v1h-1zM22 119h1v1h-1zM29 119h1v1h-1zM37 119h1v1h-1z"/><path fill="#f0f0e4" d="M50 0h1v1h-1zM54 0h1v1h-1zM41 1h2v1h-2zM49 1h1v1h-1zM23 2h1v1h-1zM57 2h1v1h-1zM52 3h2v1h-2zM58 4h1v1h-1zM36 5h1v1h-1zM45 6h1v1h-1zM40 7h2v1h-2zM50 7h1v1h-1zM43 8h1v1h-1zM41 9h1v1h-1zM41 10h3v1h-3zM44 11h1v1h-1zM55 11h1v1h-1zM50 12h1v1h-1zM53 12h1v1h-1zM55 12h1v1h-1zM33 13h1v1h-1zM45 13h1v1h-1zM40 14h1v1h-1zM57 15h1v1h-1zM37 16h1v1h-1zM39 16h1v1h-1zM45 16h1v1h-1zM50 17h1v1h-1zM54 17h1v1h-1zM38 19h1v1h-1zM50 20h1v1h-1zM41 21h1v1h-1zM54 21h1v1h-1zM58 21h1v1h-1zM43 22h1v1h-1zM40 23h2v1h-2zM49 24h1v1h-1zM52 24h1v1h-1zM45 25h1v1h-1zM48 26h1v1h-1zM55 26h1v1h-1zM44 27h1v1h-1zM48 27h1v1h-1zM50 27h1v1h-1zM54 27h1v1h-1zM52 28h1v1h-1zM45 30h1v1h-1zM43 32h1v1h-1zM45 33h1v1h-1zM50 33h1v1h-1zM54 34h1v1h-1zM43 35h2v1h-2zM33 36h1v1h-1zM43 36h1v1h-1zM28 37h1v1h-1zM50 37h1v1h-1zM51 38h3v1h-3zM41 39h1v1h-1zM42 41h1v1h-1zM48 41h1v1h-1zM53 41h2v1h-2zM56 41h1v1h-1zM52 42h1v1h-1zM41 43h1v1h-1zM44 43h1v1h-1zM47 43h1v1h-1zM53 43h1v1h-1zM53 45h1v1h-1zM37 46h1v1h-1zM45 46h2v1h-2zM44 47h1v1h-1zM45 48h1v1h-1zM47 48h1v1h-1zM56 48h1v1h-1zM43 49h1v1h-1zM54 49h1v1h-1zM36 50h1v1h-1zM43 50h1v1h-1zM51 50h1v1h-1zM57 50h2v1h-2zM50 51h1v1h-1zM57 51h1v1h-1zM48 52h1v1h-1zM57 52h1v1h-1zM45 53h1v1h-1zM54 53h1v1h-1zM38 54h1v1h-1zM49 54h1v1h-1zM43 55h1v1h-1zM50 56h1v1h-1zM52 56h1v1h-1zM43 57h1v1h-1zM59 57h1v1h-1zM39 58h1v1h-1zM41 59h1v1h-1zM50 60h1v1h-1zM41 61h1v1h-1zM50 61h1v1h-1zM53 61h1v1h-1zM44 62h1v1h-1zM51 62h1v1h-1zM55 62h2v1h-2zM43 63h1v1h-1zM45 63h1v1h-1zM44 64h1v1h-1zM46 64h1v1h-1zM49 64h1v1h-1zM51 64h1v1h-1zM33 65h1v1h-1zM43 65h1v1h-1zM48 65h1v1h-1zM38 66h1v1h-1zM51 66h1v1h-1zM46 67h1v1h-1zM48 67h1v1h-1zM57 68h1v1h-1zM44 70h1v1h-1zM52 70h1v1h-1zM57 70h1v1h-1zM33 71h1v1h-1zM44 72h1v1h-1zM55 72h1v1h-1zM43 74h2v1h-2zM57 74h1v1h-1zM59 76h1v1h-1zM46 77h2v1h-2zM51 78h1v1h-1zM46 80h1v1h-1zM57 80h1v1h-1zM34 81h1v1h-1zM50 81h1v1h-1zM41 82h1v1h-1zM50 83h1v1h-1zM48 84h1v1h-1zM54 84h1v1h-1zM57 84h2v1h-2zM34 85h1v1h-1zM40 85h1v1h-1zM33 88h1v1h-1zM48 88h1v1h-1zM56 88h1v1h-1zM59 88h1v1h-1zM38 89h1v1h-1zM48 89h2v1h-2zM41 90h1v1h-1zM44 90h1v1h-1zM50 90h1v1h-1zM49 91h1v1h-1zM53 91h1v1h-1zM41 92h1v1h-1zM48 92h1v1h-1zM34 93h1v1h-1zM41 96h1v1h-1zM50 96h1v1h-1zM54 96h1v1h-1zM38 98h1v1h-1zM43 99h1v1h-1zM56 99h1v1h-1zM41 100h1v1h-1zM45 100h1v1h-1zM52 101h1v1h-1zM54 101h1v1h-1zM47 102h1v1h-1zM57 102h1v1h-1zM42 105h1v1h-1zM54 106h1v1h-1zM58 106h1v1h-1zM34 107h1v1h-1zM38 107h1v1h-1zM51 107h1v1h-1zM58 107h1v1h-1zM37 108h1v1h-1zM54 108h1v1h-1zM38 109h1v1h-1zM54 109h1v1h-1zM48 112h1v1h-1zM44 113h1v1h-1zM49 113h1v1h-1zM43 114h1v1h-1zM49 114h1v1h-1zM55 114h1v1h-1zM31 115h1v1h-1zM40 115h1v1h-1zM50 115h1v1h-1zM42 116h1v1h-1zM57 116h1v1h-1zM41 117h1v1h-1zM50 117h1v1h-1zM53 117h1v1h-1zM46 119h1v1h-1zM48 119h1v1h-1z"/><path fill="#90c0e4" d="M1 1h1v1h-1zM1 4h1v1h-1zM39 4h1v1h-1zM4 6h1v1h-1zM12 7h1v1h-1zM9 11h1v1h-1zM0 12h1v1h-1zM9 13h1v1h-1zM14 14h1v1h-1zM12 16h1v1h-1zM29 17h1v1h-1zM52 17h1v1h-1zM12 20h1v1h-1zM16 20h1v1h-1zM0 22h1v1h-1zM21 23h1v1h-1zM21 25h1v1h-1zM30 25h1v1h-1zM21 26h1v1h-1zM27 27h1v1h-1zM3 29h1v1h-1zM19 29h1v1h-1zM30 29h1v1h-1zM35 29h1v1h-1zM48 29h1v1h-1zM21 31h1v1h-1zM32 33h1v1h-1zM2 34h1v1h-1zM26 35h1v1h-1zM12 37h1v1h-1zM21 37h1v1h-1zM17 39h1v1h-1zM15 41h1v1h-1zM12 43h1v1h-1zM0 44h1v1h-1zM0 45h1v1h-1zM16 46h1v1h-1zM3 47h1v1h-1zM12 52h1v1h-1zM22 53h1v1h-1zM19 54h1v1h-1zM21 54h1v1h-1zM20 58h1v1h-1zM30 62h1v1h-1zM23 63h1v1h-1zM24 64h1v1h-1zM15 67h1v1h-1zM37 69h1v1h-1zM3 71h1v1h-1zM28 73h1v1h-1zM11 74h1v1h-1zM23 74h1v1h-1zM14 75h1v1h-1zM30 81h1v1h-1zM39 81h1v1h-1zM22 84h1v1h-1zM30 84h1v1h-1zM14 86h1v1h-1zM17 86h1v1h-1zM21 88h1v1h-1zM52 90h1v1h-1zM25 92h1v1h-1zM13 97h1v1h-1zM16 97h1v1h-1zM15 98h1v1h-1zM4 99h1v1h-1zM0 100h1v1h-1zM30 100h1v1h-1zM6 101h1v1h-1zM13 103h1v1h-1zM25 103h1v1h-1zM25 106h1v1h-1zM23 107h1v1h-1zM6 108h1v1h-1zM3 109h1v1h-1zM4 111h1v1h-1zM51 112h1v1h-1zM14 116h1v1h-1zM13 118h1v1h-1z"/><path fill="#fcf0cc" d="M43 1h1v1h-1zM55 1h1v1h-1zM33 3h1v1h-1zM54 6h1v1h-1zM40 11h1v1h-1zM41 13h1v1h-1zM38 14h1v1h-1zM43 20h1v1h-1zM44 22h1v1h-1zM18 25h1v1h-1zM54 31h1v1h-1zM49 37h1v1h-1zM40 39h1v1h-1zM44 41h1v1h-1zM41 44h1v1h-1zM46 45h1v1h-1zM57 45h1v1h-1zM41 46h1v1h-1zM50 47h1v1h-1zM52 49h1v1h-1zM45 51h1v1h-1zM51 51h1v1h-1zM50 52h1v1h-1zM43 54h1v1h-1zM41 55h1v1h-1zM45 55h1v1h-1zM55 55h1v1h-1zM44 59h1v1h-1zM56 59h1v1h-1zM38 61h1v1h-1zM45 61h1v1h-1zM55 61h1v1h-1zM41 62h1v1h-1zM50 63h1v1h-1zM58 65h1v1h-1zM47 67h1v1h-1zM50 67h1v1h-1zM41 68h1v1h-1zM58 68h1v1h-1zM41 72h1v1h-1zM40 73h1v1h-1zM52 75h1v1h-1zM50 77h1v1h-1zM43 78h1v1h-1zM40 79h1v1h-1zM48 79h1v1h-1zM53 80h1v1h-1zM41 81h1v1h-1zM58 83h2v1h-2zM46 84h1v1h-1zM49 84h1v1h-1zM43 86h1v1h-1zM54 87h1v1h-1zM58 88h1v1h-1zM43 89h1v1h-1zM40 96h1v1h-1zM43 96h1v1h-1zM57 97h1v1h-1zM44 102h1v1h-1zM44 103h1v1h-1zM41 104h1v1h-1zM47 106h1v1h-1zM39 107h1v1h-1zM46 107h1v1h-1zM56 108h1v1h-1zM52 109h1v1h-1zM53 111h1v1h-1zM43 112h1v1h-1zM47 114h1v1h-1zM53 116h2v1h-2zM56 117h1v1h-1z"/><path fill="#f0f0f0" d="M50 1h1v1h-1zM38 3h1v1h-1zM43 4h1v1h-1zM47 5h2v1h-2zM39 6h1v1h-1zM48 6h1v1h-1zM18 7h1v1h-1zM38 7h1v1h-1zM53 7h1v1h-1zM52 9h1v1h-1zM52 10h1v1h-1zM34 11h1v1h-1zM49 11h1v1h-1zM44 12h1v1h-1zM51 12h1v1h-1zM42 13h1v1h-1zM49 13h1v1h-1zM33 15h1v1h-1zM53 16h1v1h-1zM40 18h1v1h-1zM35 20h1v1h-1zM40 20h1v1h-1zM43 21h1v1h-1zM58 24h1v1h-1zM36 25h1v1h-1zM41 25h1v1h-1zM45 28h2v1h-2zM53 28h1v1h-1zM56 28h1v1h-1zM57 30h1v1h-1zM44 31h1v1h-1zM41 32h1v1h-1zM44 33h1v1h-1zM51 34h1v1h-1zM56 34h1v1h-1zM40 35h1v1h-1zM58 35h1v1h-1zM55 36h1v1h-1zM45 39h1v1h-1zM48 39h1v1h-1zM57 39h1v1h-1zM45 40h1v1h-1zM48 40h1v1h-1zM56 40h1v1h-1zM43 41h1v1h-1zM56 43h1v1h-1zM39 44h1v1h-1zM49 44h1v1h-1zM41 45h1v1h-1zM44 45h1v1h-1zM49 45h1v1h-1zM51 45h1v1h-1zM45 47h1v1h-1zM44 50h1v1h-1zM54 50h1v1h-1zM38 52h1v1h-1zM51 52h1v1h-1zM56 52h1v1h-1zM56 53h1v1h-1zM57 54h1v1h-1zM52 55h1v1h-1zM43 56h1v1h-1zM48 56h1v1h-1zM58 56h1v1h-1zM55 57h1v1h-1zM39 59h1v1h-1zM50 59h1v1h-1zM53 59h1v1h-1zM56 60h1v1h-1zM46 61h2v1h-2zM56 61h1v1h-1zM35 62h1v1h-1zM45 62h1v1h-1zM50 62h1v1h-1zM53 62h1v1h-1zM52 63h1v1h-1zM55 63h1v1h-1zM44 65h1v1h-1zM54 65h1v1h-1zM34 66h1v1h-1zM45 66h1v1h-1zM50 66h1v1h-1zM58 66h1v1h-1zM52 67h1v1h-1zM45 68h1v1h-1zM48 68h1v1h-1zM53 68h1v1h-1zM55 68h1v1h-1zM53 69h1v1h-1zM45 70h1v1h-1zM47 71h1v1h-1zM56 71h1v1h-1zM42 72h1v1h-1zM48 72h1v1h-1zM50 72h1v1h-1zM36 73h1v1h-1zM47 73h1v1h-1zM50 73h1v1h-1zM45 74h1v1h-1zM51 74h1v1h-1zM56 74h1v1h-1zM40 75h1v1h-1zM42 75h1v1h-1zM51 75h1v1h-1zM44 76h1v1h-1zM46 76h1v1h-1zM51 77h2v1h-2zM41 78h1v1h-1zM44 78h1v1h-1zM36 79h1v1h-1zM57 79h1v1h-1zM45 80h1v1h-1zM54 80h1v1h-1zM58 80h1v1h-1zM54 81h1v1h-1zM42 83h1v1h-1zM19 84h1v1h-1zM44 86h1v1h-1zM44 87h1v1h-1zM57 87h1v1h-1zM42 88h1v1h-1zM57 88h1v1h-1zM44 89h1v1h-1zM16 91h1v1h-1zM53 92h1v1h-1zM58 93h1v1h-1zM42 94h1v1h-1zM47 97h2v1h-2zM42 98h1v1h-1zM46 98h1v1h-1zM54 98h1v1h-1zM56 98h1v1h-1zM58 98h1v1h-1zM21 100h1v1h-1zM42 100h1v1h-1zM31 101h1v1h-1zM46 102h1v1h-1zM44 105h1v1h-1zM52 105h1v1h-1zM43 106h1v1h-1zM53 107h1v1h-1zM55 107h2v1h-2zM50 108h1v1h-1zM59 108h1v1h-1zM53 109h1v1h-1zM55 109h1v1h-1zM36 110h1v1h-1zM44 110h1v1h-1zM49 110h1v1h-1zM50 111h1v1h-1zM54 111h1v1h-1zM54 112h1v1h-1zM58 112h1v1h-1zM39 115h1v1h-1zM55 116h1v1h-1zM39 117h1v1h-1zM57 117h1v1h-1zM44 119h1v1h-1zM53 119h1v1h-1z"/><path fill="#6ca8d8" d="M13 2h1v1h-1zM25 7h1v1h-1zM7 12h1v1h-1zM8 14h1v1h-1zM9 18h1v1h-1zM12 18h1v1h-1zM24 19h1v1h-1zM23 20h1v1h-1zM5 25h1v1h-1zM11 26h1v1h-1zM6 28h1v1h-1zM5 30h1v1h-1zM15 31h1v1h-1zM22 31h1v1h-1zM16 32h1v1h-1zM1 33h1v1h-1zM11 36h1v1h-1zM10 39h2v1h-2zM21 41h1v1h-1zM8 44h1v1h-1zM5 48h1v1h-1zM6 50h1v1h-1zM5 53h2v1h-2zM6 57h1v1h-1zM3 59h1v1h-1zM9 59h1v1h-1zM5 66h2v1h-2zM15 66h1v1h-1zM24 70h1v1h-1zM7 71h1v1h-1zM10 79h1v1h-1zM7 82h1v1h-1zM12 87h1v1h-1zM2 104h1v1h-1zM29 104h1v1h-1zM24 105h1v1h-1z"/><path fill="#b4e4f0" d="M18 2h1v1h-1zM24 3h1v1h-1zM44 5h1v1h-1zM34 6h1v1h-1zM39 7h1v1h-1zM56 7h1v1h-1zM35 8h1v1h-1zM51 8h1v1h-1zM37 9h1v1h-1zM54 9h1v1h-1zM17 13h1v1h-1zM32 13h1v1h-1zM46 13h1v1h-1zM25 15h1v1h-1zM54 18h1v1h-1zM33 19h1v1h-1zM35 19h1v1h-1zM59 20h1v1h-1zM18 21h1v1h-1zM34 21h1v1h-1zM38 21h1v1h-1zM33 22h1v1h-1zM44 23h1v1h-1zM21 27h1v1h-1zM23 28h1v1h-1zM43 30h1v1h-1zM52 30h1v1h-1zM0 32h1v1h-1zM35 32h1v1h-1zM19 34h1v1h-1zM33 34h1v1h-1zM39 34h1v1h-1zM48 34h1v1h-1zM27 37h1v1h-1zM34 38h1v1h-1zM33 39h1v1h-1zM38 43h1v1h-1zM19 46h1v1h-1zM34 46h1v1h-1zM36 46h1v1h-1zM48 47h1v1h-1zM17 48h1v1h-1zM33 49h2v1h-2zM20 51h1v1h-1zM37 51h1v1h-1zM43 51h1v1h-1zM30 52h1v1h-1zM22 54h1v1h-1zM30 55h1v1h-1zM3 57h1v1h-1zM17 57h1v1h-1zM31 58h1v1h-1zM59 58h1v1h-1zM17 60h1v1h-1zM18 62h1v1h-1zM34 63h1v1h-1zM17 64h1v1h-1zM37 66h1v1h-1zM18 68h1v1h-1zM50 71h1v1h-1zM19 72h1v1h-1zM39 73h1v1h-1zM21 74h1v1h-1zM35 76h1v1h-1zM27 78h1v1h-1zM20 79h1v1h-1zM37 79h1v1h-1zM55 79h1v1h-1zM17 80h1v1h-1zM44 80h1v1h-1zM45 83h1v1h-1zM47 84h1v1h-1zM2 85h2v1h-2zM17 85h2v1h-2zM34 87h1v1h-1zM25 88h1v1h-1zM31 88h1v1h-1zM38 88h1v1h-1zM27 89h1v1h-1zM3 91h1v1h-1zM33 91h1v1h-1zM45 93h1v1h-1zM49 93h1v1h-1zM46 94h1v1h-1zM52 94h1v1h-1zM0 96h1v1h-1zM12 96h1v1h-1zM14 96h1v1h-1zM37 96h1v1h-1zM59 98h1v1h-1zM16 99h1v1h-1zM39 100h1v1h-1zM51 100h1v1h-1zM18 102h1v1h-1zM33 102h1v1h-1zM48 102h1v1h-1zM48 103h1v1h-1zM20 106h1v1h-1zM33 107h1v1h-1zM37 110h1v1h-1zM19 111h1v1h-1zM33 112h1v1h-1zM16 113h1v1h-1zM38 113h1v1h-1zM57 113h1v1h-1zM14 115h1v1h-1zM33 115h1v1h-1zM16 116h1v1h-1zM46 117h1v1h-1zM16 118h1v1h-1z"/><path fill="#9cd8f0" d="M30 2h1v1h-1zM0 11h1v1h-1zM32 14h1v1h-1zM23 16h1v1h-1zM38 18h1v1h-1zM49 19h1v1h-1zM19 23h1v1h-1zM17 24h1v1h-1zM27 25h1v1h-1zM18 30h1v1h-1zM34 37h1v1h-1zM33 38h1v1h-1zM25 40h1v1h-1zM26 41h1v1h-1zM14 42h1v1h-1zM22 45h1v1h-1zM1 47h1v1h-1zM27 47h1v1h-1zM27 50h1v1h-1zM13 56h1v1h-1zM26 57h1v1h-1zM25 60h1v1h-1zM30 68h1v1h-1zM18 77h1v1h-1zM29 77h1v1h-1zM23 79h1v1h-1zM27 85h1v1h-1zM51 90h1v1h-1zM25 91h1v1h-1zM3 92h1v1h-1zM32 92h1v1h-1zM23 97h1v1h-1zM39 97h1v1h-1zM32 98h1v1h-1zM32 105h1v1h-1zM30 108h1v1h-1zM27 114h1v1h-1zM10 115h1v1h-1zM15 118h1v1h-1z"/><path fill="#fcd884" d="M43 2h1v1h-1zM41 8h1v1h-1zM53 32h2v1h-2zM50 48h1v1h-1zM50 49h1v1h-1zM41 57h1v1h-1zM41 66h1v1h-1zM41 86h1v1h-1zM41 111h1v1h-1z"/><path fill="#fce49c" d="M44 2h1v1h-1zM43 6h1v1h-1zM41 11h1v1h-1zM53 11h1v1h-1zM43 16h1v1h-1zM53 24h1v1h-1zM46 36h1v1h-1zM52 36h1v1h-1zM55 41h1v1h-1zM52 59h1v1h-1zM54 67h1v1h-1zM41 73h1v1h-1zM41 79h1v1h-1zM41 80h1v1h-1zM53 83h1v1h-1zM52 89h1v1h-1zM45 92h1v1h-1zM41 98h1v1h-1zM45 115h1v1h-1zM58 116h1v1h-1z"/><path fill="#f0f0d8" d="M52 2h1v1h-1zM41 5h1v1h-1zM58 5h1v1h-1zM42 6h1v1h-1zM50 6h1v1h-1zM57 6h1v1h-1zM47 7h1v1h-1zM51 7h1v1h-1zM57 7h1v1h-1zM36 10h1v1h-1zM46 11h1v1h-1zM56 11h1v1h-1zM38 12h1v1h-1zM41 12h1v1h-1zM43 12h1v1h-1zM43 13h1v1h-1zM48 13h1v1h-1zM41 14h1v1h-1zM46 15h1v1h-1zM56 15h1v1h-1zM55 16h1v1h-1zM58 16h1v1h-1zM44 20h1v1h-1zM45 22h1v1h-1zM43 25h1v1h-1zM59 25h1v1h-1zM38 26h1v1h-1zM52 27h1v1h-1zM50 28h1v1h-1zM41 31h1v1h-1zM51 31h1v1h-1zM45 32h1v1h-1zM56 32h1v1h-1zM46 33h1v1h-1zM54 35h1v1h-1zM57 35h1v1h-1zM51 36h1v1h-1zM59 36h1v1h-1zM42 37h1v1h-1zM48 37h1v1h-1zM44 39h1v1h-1zM50 39h1v1h-1zM55 39h1v1h-1zM42 40h1v1h-1zM50 40h1v1h-1zM51 42h1v1h-1zM49 43h1v1h-1zM55 43h1v1h-1zM57 44h1v1h-1zM33 45h1v1h-1zM43 45h1v1h-1zM47 45h1v1h-1zM50 45h1v1h-1zM38 47h1v1h-1zM48 48h2v1h-2zM41 49h1v1h-1zM44 49h1v1h-1zM53 49h1v1h-1zM57 49h1v1h-1zM41 50h1v1h-1zM45 50h2v1h-2zM55 50h1v1h-1zM44 51h1v1h-1zM49 51h1v1h-1zM50 53h1v1h-1zM48 54h1v1h-1zM44 55h1v1h-1zM32 56h1v1h-1zM44 56h1v1h-1zM45 57h1v1h-1zM50 57h1v1h-1zM54 57h1v1h-1zM57 57h1v1h-1zM32 58h1v1h-1zM46 60h1v1h-1zM51 60h1v1h-1zM53 60h1v1h-1zM13 61h1v1h-1zM43 61h1v1h-1zM48 64h1v1h-1zM53 65h1v1h-1zM40 66h1v1h-1zM41 67h1v1h-1zM44 67h1v1h-1zM51 68h1v1h-1zM41 69h1v1h-1zM50 69h1v1h-1zM55 70h1v1h-1zM46 72h1v1h-1zM43 73h2v1h-2zM48 73h1v1h-1zM57 73h1v1h-1zM48 74h1v1h-1zM54 74h1v1h-1zM45 76h1v1h-1zM43 79h1v1h-1zM38 80h1v1h-1zM44 81h1v1h-1zM41 84h1v1h-1zM41 85h1v1h-1zM38 87h1v1h-1zM48 87h1v1h-1zM52 87h1v1h-1zM40 88h1v1h-1zM51 88h1v1h-1zM45 90h1v1h-1zM48 91h1v1h-1zM57 94h1v1h-1zM43 95h1v1h-1zM45 96h1v1h-1zM15 97h1v1h-1zM41 97h1v1h-1zM43 97h1v1h-1zM46 97h1v1h-1zM51 97h1v1h-1zM32 102h1v1h-1zM58 102h1v1h-1zM43 105h1v1h-1zM53 106h1v1h-1zM45 107h1v1h-1zM41 108h1v1h-1zM45 108h2v1h-2zM49 108h1v1h-1zM41 109h1v1h-1zM43 109h1v1h-1zM46 109h1v1h-1zM51 109h1v1h-1zM59 109h1v1h-1zM54 110h1v1h-1zM50 112h1v1h-1zM52 112h1v1h-1zM41 113h1v1h-1zM43 113h1v1h-1zM44 114h2v1h-2zM54 114h1v1h-1zM58 114h1v1h-1zM43 116h1v1h-1zM49 116h1v1h-1zM42 117h1v1h-1zM42 118h1v1h-1zM50 118h1v1h-1zM41 119h1v1h-1zM58 119h1v1h-1z"/><path fill="#fcf0b4" d="M41 3h1v1h-1zM42 7h2v1h-2zM43 11h1v1h-1zM57 12h1v1h-1zM52 13h1v1h-1zM41 15h1v1h-1zM43 15h1v1h-1zM57 20h1v1h-1zM41 24h1v1h-1zM41 34h1v1h-1zM44 36h1v1h-1zM53 36h2v1h-2zM53 37h1v1h-1zM58 37h1v1h-1zM57 38h1v1h-1zM55 44h1v1h-1zM41 47h1v1h-1zM58 51h1v1h-1zM44 53h1v1h-1zM41 56h1v1h-1zM47 56h1v1h-1zM44 58h1v1h-1zM43 64h1v1h-1zM41 65h1v1h-1zM41 74h1v1h-1zM41 77h1v1h-1zM57 78h1v1h-1zM58 79h1v1h-1zM43 83h1v1h-1zM53 84h1v1h-1zM51 87h1v1h-1zM45 89h1v1h-1zM42 95h1v1h-1zM41 102h1v1h-1zM57 107h1v1h-1zM52 110h1v1h-1zM43 111h1v1h-1zM57 111h1v1h-1zM41 114h1v1h-1zM41 115h1v1h-1zM43 115h1v1h-1zM52 115h1v1h-1z"/><path fill="#fcf0a8" d="M41 4h1v1h-1zM47 35h1v1h-1zM50 35h1v1h-1zM41 36h1v1h-1zM50 36h1v1h-1zM46 38h1v1h-1zM45 42h1v1h-1zM54 42h1v1h-1zM53 44h1v1h-1zM48 45h1v1h-1zM36 48h1v1h-1zM53 48h1v1h-1zM3 53h1v1h-1zM34 60h1v1h-1zM48 62h1v1h-1zM57 63h1v1h-1zM47 64h1v1h-1zM46 65h1v1h-1zM57 65h1v1h-1zM52 72h1v1h-1zM43 84h1v1h-1zM54 89h2v1h-2zM57 89h1v1h-1zM54 107h1v1h-1zM43 108h1v1h-1zM56 109h1v1h-1zM34 111h1v1h-1zM56 115h1v1h-1z"/><path fill="#fcf0c0" d="M45 5h1v1h-1zM54 5h1v1h-1zM35 6h1v1h-1zM58 15h1v1h-1zM27 17h1v1h-1zM41 17h1v1h-1zM57 24h1v1h-1zM54 26h1v1h-1zM44 29h1v1h-1zM50 29h1v1h-1zM41 30h1v1h-1zM41 35h1v1h-1zM45 35h1v1h-1zM52 35h2v1h-2zM40 36h1v1h-1zM47 36h1v1h-1zM57 36h1v1h-1zM53 40h1v1h-1zM49 41h1v1h-1zM48 46h1v1h-1zM55 46h1v1h-1zM53 47h1v1h-1zM56 47h1v1h-1zM57 48h1v1h-1zM53 51h1v1h-1zM34 54h1v1h-1zM53 54h1v1h-1zM58 54h1v1h-1zM57 56h1v1h-1zM53 58h1v1h-1zM43 59h1v1h-1zM44 60h1v1h-1zM54 60h1v1h-1zM48 61h1v1h-1zM57 61h1v1h-1zM47 62h1v1h-1zM54 64h1v1h-1zM57 64h1v1h-1zM53 66h1v1h-1zM45 67h1v1h-1zM53 67h1v1h-1zM40 68h1v1h-1zM43 68h1v1h-1zM52 71h1v1h-1zM53 73h1v1h-1zM58 74h1v1h-1zM59 79h1v1h-1zM33 80h1v1h-1zM42 80h1v1h-1zM41 83h1v1h-1zM17 84h1v1h-1zM59 84h1v1h-1zM54 85h1v1h-1zM57 86h1v1h-1zM47 90h1v1h-1zM44 98h1v1h-1zM41 99h1v1h-1zM41 105h1v1h-1zM43 107h1v1h-1zM48 107h1v1h-1zM57 108h1v1h-1zM44 109h1v1h-1zM44 111h1v1h-1zM44 112h1v1h-1zM42 114h1v1h-1zM53 114h1v1h-1zM35 115h1v1h-1zM47 115h1v1h-1zM51 115h1v1h-1zM53 115h1v1h-1zM59 115h1v1h-1zM12 116h1v1h-1zM41 116h1v1h-1zM56 116h1v1h-1zM43 118h1v1h-1zM50 119h1v1h-1z"/><path fill="#549ccc" d="M29 8h1v1h-1zM5 9h1v1h-1zM6 18h1v1h-1zM20 31h1v1h-1zM5 32h1v1h-1zM9 35h1v1h-1zM6 43h1v1h-1zM10 59h1v1h-1zM8 69h1v1h-1zM7 70h1v1h-1zM11 70h1v1h-1zM6 74h1v1h-1zM7 93h1v1h-1zM5 100h1v1h-1zM30 103h1v1h-1zM10 104h1v1h-1zM10 109h1v1h-1z"/><path fill="#f0f0cc" d="M45 10h1v1h-1zM42 14h1v1h-1zM59 15h1v1h-1zM33 21h1v1h-1zM41 26h1v1h-1zM41 29h1v1h-1zM50 34h1v1h-1zM50 38h1v1h-1zM58 41h1v1h-1zM46 42h1v1h-1zM50 44h1v1h-1zM42 49h1v1h-1zM34 61h1v1h-1zM55 65h1v1h-1zM58 67h1v1h-1zM44 68h1v1h-1zM43 75h1v1h-1zM34 77h1v1h-1zM52 78h1v1h-1zM43 80h1v1h-1zM50 86h2v1h-2zM54 88h1v1h-1zM50 89h1v1h-1zM41 91h1v1h-1zM50 97h1v1h-1zM17 102h1v1h-1zM40 102h1v1h-1zM44 106h1v1h-1zM59 106h1v1h-1zM53 108h1v1h-1zM48 114h1v1h-1zM46 115h1v1h-1zM54 115h1v1h-1zM41 118h1v1h-1zM57 119h1v1h-1z"/><path fill="#fcd878" d="M53 23h1v1h-1zM41 51h1v1h-1zM50 54h1v1h-1z"/><path fill="#4890cc" d="M10 31h1v1h-1zM4 32h1v1h-1zM6 33h1v1h-1zM6 35h1v1h-1zM9 46h1v1h-1zM4 58h1v1h-1zM7 66h1v1h-1zM7 68h1v1h-1zM6 94h1v1h-1z"/><path fill="#fccc6c" d="M44 34h1v1h-1z"/><path fill="#fccc78" d="M57 72h1v1h-1z"/><path fill="#e8402c" d="M40 105h1v1h-1zM40 106h1v1h-1zM40 107h1v1h-1zM40 108h1v1h-1z"/><path fill="#f8a060" d="M41 106h1v1h-1z"/></g><rect x="39.40" y="51.1" width="12.70" height="2.95" fill="#1dc3cc"/><rect x="52.10" y="51.1" width="1.70" height="2.95" fill="#cc99d1"/><rect x="53.80" y="51.1" width="16.90" height="2.95" fill="#1dc3cc"/><rect x="70.70" y="51.1" width="1.70" height="2.95" fill="#cc99d1"/><rect x="72.40" y="51.1" width="11.60" height="2.95" fill="#1dc3cc"/><rect x="84.00" y="51.1" width="1.90" height="2.95" fill="#cc99d1"/><rect x="85.90" y="51.1" width="4.00" height="2.95" fill="#1dc3cc"/><rect x="89.90" y="51.1" width="6.20" height="2.95" fill="#cc99d1"/><rect x="96.10" y="51.1" width="3.60" height="2.95" fill="#78c83c"/><rect x="99.70" y="51.1" width="12.40" height="2.95" fill="#cc99d1"/><rect x="112.10" y="51.1" width="2.80" height="2.95" fill="#1dc3cc"/><rect x="114.90" y="51.1" width="3.40" height="2.95" fill="#cc99d1"/><rect x="118.30" y="51.1" width="3.40" height="2.95" fill="#1dc3cc"/><rect x="121.70" y="51.1" width="15.20" height="2.95" fill="#cc99d1"/><rect x="136.90" y="51.1" width="13.00" height="2.95" fill="#78c83c"/><rect x="149.90" y="51.1" width="2.20" height="2.95" fill="#f98a84"/><rect x="152.10" y="51.1" width="9.50" height="2.95" fill="#78c83c"/><rect x="161.60" y="51.1" width="2.20" height="2.95" fill="#f98a84"/><rect x="163.80" y="51.1" width="2.40" height="2.95" fill="#78c83c"/><rect x="166.20" y="51.1" width="11.60" height="2.95" fill="#f98a84"/><rect x="177.80" y="51.1" width="3.00" height="2.95" fill="#78c83c"/><rect x="180.80" y="51.1" width="16.20" height="2.95" fill="#f98a84"/><rect x="197.00" y="51.1" width="6.00" height="2.95" fill="#78c83c"/><rect x="203.00" y="51.1" width="10.20" height="2.95" fill="#f98a84"/><rect x="213.20" y="51.1" width="2.20" height="2.95" fill="#78c83c"/><rect x="215.40" y="51.1" width="2.00" height="2.95" fill="#f98a84"/><rect x="217.40" y="51.1" width="3.60" height="2.95" fill="#78c83c"/><rect x="249.10" y="51.2" width="3.15" height="3.2" fill="#cc99d1"/><rect x="252.20" y="51.2" width="3.15" height="3.2" fill="#1dc3cc"/><rect x="255.30" y="51.2" width="3.15" height="3.2" fill="#cc99d1"/><rect x="258.40" y="51.2" width="3.15" height="3.2" fill="#1dc3cc"/><rect x="261.51" y="51.2" width="3.15" height="3.2" fill="#cc99d1"/><rect x="264.61" y="51.2" width="3.15" height="3.2" fill="#cc99d1"/><rect x="267.71" y="51.2" width="3.15" height="3.2" fill="#cc99d1"/><rect x="270.81" y="51.2" width="3.15" height="3.2" fill="#1dc3cc"/><rect x="273.91" y="51.2" width="3.15" height="3.2" fill="#cc99d1"/><rect x="277.01" y="51.2" width="3.15" height="3.2" fill="#1dc3cc"/><rect x="280.12" y="51.2" width="3.15" height="3.2" fill="#1dc3cc"/><rect x="283.22" y="51.2" width="3.15" height="3.2" fill="#cc99d1"/><rect x="286.32" y="51.2" width="3.15" height="3.2" fill="#1dc3cc"/><rect x="289.42" y="51.2" width="3.15" height="3.2" fill="#cc99d1"/><rect x="292.52" y="51.2" width="3.15" height="3.2" fill="#cc99d1"/><rect x="295.62" y="51.2" width="3.15" height="3.2" fill="#1dc3cc"/><rect x="298.73" y="51.2" width="3.15" height="3.2" fill="#cc99d1"/><rect x="301.83" y="51.2" width="3.15" height="3.2" fill="#1dc3cc"/><rect x="304.93" y="51.2" width="3.15" height="3.2" fill="#1dc3cc"/><rect x="308.03" y="51.2" width="3.15" height="3.2" fill="#cc99d1"/><rect x="311.13" y="51.2" width="3.15" height="3.2" fill="#cc99d1"/><rect x="314.24" y="51.2" width="3.15" height="3.2" fill="#1dc3cc"/><rect x="317.34" y="51.2" width="3.15" height="3.2" fill="#1dc3cc"/><rect x="320.44" y="51.2" width="3.15" height="3.2" fill="#1dc3cc"/><rect x="323.54" y="51.2" width="3.15" height="3.2" fill="#cc99d1"/><rect x="326.64" y="51.2" width="3.15" height="3.2" fill="#f98a84"/><rect x="329.74" y="51.2" width="3.15" height="3.2" fill="#f98a84"/><rect x="332.85" y="51.2" width="3.15" height="3.2" fill="#f98a84"/><rect x="335.95" y="51.2" width="3.15" height="3.2" fill="#f98a84"/><rect x="339.05" y="51.2" width="3.15" height="3.2" fill="#f98a84"/><rect x="342.15" y="51.2" width="3.15" height="3.2" fill="#78c83c"/><rect x="345.25" y="51.2" width="3.15" height="3.2" fill="#cc99d1"/><rect x="348.35" y="51.2" width="3.15" height="3.2" fill="#f98a84"/><rect x="351.45" y="51.2" width="3.15" height="3.2" fill="#f98a84"/><rect x="354.56" y="51.2" width="3.15" height="3.2" fill="#f98a84"/><rect x="357.66" y="51.2" width="3.15" height="3.2" fill="#f98a84"/><rect x="360.76" y="51.2" width="3.15" height="3.2" fill="#78c83c"/><rect x="363.86" y="51.2" width="3.15" height="3.2" fill="#f98a84"/><rect x="366.96" y="51.2" width="3.15" height="3.2" fill="#f98a84"/><rect x="370.06" y="51.2" width="3.15" height="3.2" fill="#78c83c"/><rect x="373.17" y="51.2" width="3.15" height="3.2" fill="#78c83c"/><rect x="376.27" y="51.2" width="3.15" height="3.2" fill="#78c83c"/><rect x="379.37" y="51.2" width="3.15" height="3.2" fill="#78c83c"/><rect x="382.47" y="51.2" width="3.15" height="3.2" fill="#f98a84"/><rect x="385.57" y="51.2" width="3.15" height="3.2" fill="#78c83c"/><rect x="388.67" y="51.2" width="3.15" height="3.2" fill="#1dc3cc"/><rect x="391.78" y="51.2" width="3.15" height="3.2" fill="#78c83c"/><rect x="394.88" y="51.2" width="3.15" height="3.2" fill="#78c83c"/><rect x="397.98" y="51.2" width="3.15" height="3.2" fill="#78c83c"/><rect x="401.08" y="51.2" width="3.15" height="3.2" fill="#78c83c"/><rect x="404.18" y="51.2" width="3.15" height="3.2" fill="#f98a84"/><rect x="407.28" y="51.2" width="3.15" height="3.2" fill="#1dc3cc"/><rect x="410.39" y="51.2" width="3.15" height="3.2" fill="#78c83c"/><rect x="413.49" y="51.2" width="3.15" height="3.2" fill="#78c83c"/><rect x="416.59" y="51.2" width="3.15" height="3.2" fill="#f98a84"/><rect x="419.69" y="51.2" width="3.15" height="3.2" fill="#78c83c"/><rect x="422.79" y="51.2" width="3.15" height="3.2" fill="#cc99d1"/><rect x="425.89" y="51.2" width="3.15" height="3.2" fill="#1dc3cc"/><rect x="429.00" y="51.2" width="3.15" height="3.2" fill="#f98a84"/><rect x="432.10" y="51.2" width="3.15" height="3.2" fill="#78c83c"/><g transform="translate(249.100,54.400) scale(3.1017,2.3316)"><path fill="#f4894c" d="M0 0h1v1h-1z"/><path fill="#84b4d8" d="M1 0h1v1h-1zM10 0h1v1h-1zM12 0h1v1h-1zM17 0h1v1h-1zM29 0h1v1h-1zM45 0h2v1h-2zM49 0h1v1h-1zM57 0h1v1h-1zM8 1h1v1h-1zM13 1h1v1h-1zM15 1h1v1h-1zM28 1h1v1h-1zM30 1h1v1h-1zM35 1h1v1h-1zM41 1h1v1h-1zM50 1h1v1h-1zM1 2h1v1h-1zM5 2h1v1h-1zM16 2h1v1h-1zM21 2h1v1h-1zM26 2h2v1h-2zM36 2h1v1h-1zM58 2h2v1h-2zM0 3h1v1h-1zM5 3h1v1h-1zM16 3h1v1h-1zM25 3h1v1h-1zM38 3h1v1h-1zM42 3h1v1h-1zM44 3h1v1h-1zM51 3h2v1h-2zM58 3h1v1h-1zM7 4h1v1h-1zM26 4h3v1h-3zM30 4h1v1h-1zM57 4h1v1h-1zM4 5h1v1h-1zM28 5h1v1h-1zM31 5h2v1h-2zM42 5h1v1h-1zM54 5h1v1h-1zM15 6h1v1h-1zM23 6h1v1h-1zM36 6h1v1h-1zM40 6h2v1h-2zM43 6h2v1h-2zM48 6h1v1h-1zM55 6h2v1h-2zM59 6h1v1h-1zM2 7h1v1h-1zM13 7h1v1h-1zM27 7h1v1h-1zM31 7h1v1h-1zM45 7h1v1h-1zM48 7h1v1h-1zM50 7h2v1h-2zM58 7h1v1h-1zM4 8h1v1h-1zM12 8h1v1h-1zM31 8h1v1h-1zM38 8h1v1h-1zM57 8h1v1h-1zM11 9h1v1h-1zM15 9h1v1h-1zM26 9h1v1h-1zM28 9h1v1h-1zM35 9h1v1h-1zM0 10h1v1h-1zM3 10h1v1h-1zM6 10h1v1h-1zM11 10h1v1h-1zM31 10h1v1h-1zM39 10h1v1h-1zM58 10h1v1h-1zM16 11h1v1h-1zM27 11h1v1h-1zM30 11h1v1h-1zM36 11h1v1h-1zM40 11h1v1h-1zM42 11h1v1h-1zM44 11h1v1h-1zM46 11h1v1h-1zM56 11h1v1h-1zM20 12h1v1h-1zM27 12h1v1h-1zM42 12h2v1h-2zM50 12h1v1h-1zM56 12h1v1h-1zM2 13h1v1h-1zM9 13h1v1h-1zM14 13h2v1h-2zM40 13h1v1h-1zM14 14h1v1h-1zM21 14h1v1h-1zM27 14h1v1h-1zM38 14h1v1h-1zM43 14h2v1h-2zM50 14h2v1h-2zM54 14h1v1h-1zM56 14h1v1h-1zM25 15h1v1h-1zM28 15h2v1h-2zM48 15h1v1h-1zM59 15h1v1h-1zM18 16h1v1h-1zM22 16h1v1h-1zM26 16h3v1h-3zM34 16h1v1h-1zM59 16h1v1h-1zM2 17h1v1h-1zM13 17h2v1h-2zM22 17h1v1h-1zM26 17h1v1h-1zM40 17h1v1h-1zM42 17h1v1h-1zM47 17h1v1h-1zM51 17h1v1h-1zM54 17h1v1h-1zM56 17h1v1h-1zM0 18h1v1h-1zM16 18h1v1h-1zM26 18h1v1h-1zM28 18h1v1h-1zM34 18h3v1h-3zM40 18h1v1h-1zM42 18h1v1h-1zM50 18h1v1h-1zM55 18h1v1h-1zM57 18h1v1h-1zM5 19h1v1h-1zM8 19h2v1h-2zM11 19h2v1h-2zM33 19h3v1h-3zM39 19h1v1h-1zM53 19h1v1h-1zM8 20h1v1h-1zM11 20h2v1h-2zM26 20h2v1h-2zM29 20h1v1h-1zM37 20h1v1h-1zM41 20h1v1h-1zM45 20h1v1h-1zM53 20h1v1h-1zM14 21h1v1h-1zM18 21h1v1h-1zM34 21h1v1h-1zM44 21h1v1h-1zM17 22h1v1h-1zM32 22h1v1h-1zM41 22h2v1h-2zM46 22h1v1h-1zM51 22h1v1h-1zM21 23h1v1h-1zM26 23h2v1h-2zM33 23h1v1h-1zM45 23h1v1h-1zM49 23h1v1h-1zM58 23h1v1h-1zM0 24h1v1h-1zM30 24h1v1h-1zM39 24h1v1h-1zM44 24h1v1h-1zM46 24h1v1h-1zM52 24h1v1h-1zM1 25h1v1h-1zM9 25h1v1h-1zM13 25h2v1h-2zM20 25h1v1h-1zM24 25h1v1h-1zM29 25h1v1h-1zM34 25h1v1h-1zM39 25h1v1h-1zM50 25h1v1h-1zM58 25h1v1h-1zM0 26h1v1h-1zM32 26h3v1h-3zM39 26h3v1h-3zM22 27h1v1h-1zM28 27h2v1h-2zM38 27h1v1h-1zM48 27h1v1h-1zM55 27h1v1h-1zM20 28h1v1h-1zM22 28h1v1h-1zM26 28h1v1h-1zM43 28h1v1h-1zM56 28h1v1h-1zM1 29h2v1h-2zM58 29h1v1h-1zM10 30h1v1h-1zM16 30h1v1h-1zM26 30h1v1h-1zM32 30h2v1h-2zM46 30h1v1h-1zM2 31h1v1h-1zM4 31h1v1h-1zM18 31h1v1h-1zM26 31h2v1h-2zM30 31h1v1h-1zM35 31h1v1h-1zM39 31h2v1h-2zM59 31h1v1h-1zM1 32h1v1h-1zM22 32h1v1h-1zM31 32h1v1h-1zM34 32h2v1h-2zM37 32h1v1h-1zM50 32h2v1h-2zM54 32h1v1h-1zM58 32h1v1h-1zM11 33h2v1h-2zM32 33h1v1h-1zM45 33h1v1h-1zM50 33h1v1h-1zM58 33h1v1h-1zM9 34h1v1h-1zM26 34h1v1h-1zM34 34h2v1h-2zM38 34h1v1h-1zM47 34h1v1h-1zM54 34h2v1h-2zM58 34h1v1h-1zM0 35h1v1h-1zM9 35h1v1h-1zM11 35h1v1h-1zM23 35h1v1h-1zM41 35h1v1h-1zM44 35h1v1h-1zM54 35h1v1h-1zM56 35h1v1h-1zM0 36h1v1h-1zM12 36h1v1h-1zM19 36h1v1h-1zM40 36h1v1h-1zM42 36h1v1h-1zM45 36h1v1h-1zM50 36h1v1h-1zM54 36h1v1h-1zM57 36h1v1h-1zM13 37h1v1h-1zM16 37h1v1h-1zM28 37h1v1h-1zM45 37h1v1h-1zM58 37h1v1h-1zM8 38h1v1h-1zM14 38h2v1h-2zM26 38h1v1h-1zM38 38h1v1h-1zM56 38h2v1h-2zM0 39h3v1h-3zM8 39h1v1h-1zM15 39h1v1h-1zM18 39h1v1h-1zM32 39h1v1h-1zM36 39h1v1h-1zM42 39h1v1h-1zM44 39h1v1h-1zM46 39h1v1h-1zM48 39h1v1h-1zM50 39h1v1h-1zM56 39h1v1h-1zM15 40h1v1h-1zM21 40h1v1h-1zM23 40h1v1h-1zM28 40h1v1h-1zM30 40h1v1h-1zM41 40h1v1h-1zM1 41h1v1h-1zM3 41h1v1h-1zM13 41h1v1h-1zM22 41h1v1h-1zM25 41h2v1h-2zM28 41h1v1h-1zM33 41h1v1h-1zM51 41h2v1h-2zM0 42h1v1h-1zM12 42h1v1h-1zM28 42h1v1h-1zM30 42h1v1h-1zM36 42h1v1h-1zM44 42h1v1h-1zM17 43h1v1h-1zM27 43h1v1h-1zM34 43h1v1h-1zM44 43h2v1h-2zM47 43h1v1h-1zM55 43h1v1h-1zM57 43h1v1h-1zM23 44h1v1h-1zM27 44h1v1h-1zM29 44h1v1h-1zM32 44h1v1h-1zM46 44h1v1h-1zM48 44h1v1h-1zM53 44h1v1h-1zM4 45h1v1h-1zM7 45h1v1h-1zM15 45h1v1h-1zM56 45h1v1h-1zM58 45h1v1h-1zM0 46h2v1h-2zM8 46h1v1h-1zM36 46h1v1h-1zM39 46h1v1h-1zM45 46h1v1h-1zM47 46h1v1h-1zM49 46h1v1h-1zM55 46h3v1h-3zM0 47h1v1h-1zM16 47h1v1h-1zM21 47h1v1h-1zM45 47h1v1h-1zM54 47h2v1h-2zM0 48h1v1h-1zM12 48h1v1h-1zM14 48h1v1h-1zM25 48h1v1h-1zM37 48h1v1h-1zM46 48h3v1h-3zM54 48h1v1h-1zM59 48h1v1h-1zM29 49h1v1h-1zM35 49h1v1h-1zM39 49h1v1h-1zM46 49h1v1h-1zM56 49h1v1h-1zM7 50h1v1h-1zM17 50h2v1h-2zM25 50h1v1h-1zM28 50h1v1h-1zM32 50h1v1h-1zM35 50h1v1h-1zM42 50h1v1h-1zM49 50h1v1h-1zM51 50h2v1h-2zM27 51h1v1h-1zM33 51h3v1h-3zM47 51h1v1h-1zM58 51h2v1h-2zM3 52h1v1h-1zM9 52h2v1h-2zM15 52h1v1h-1zM19 52h1v1h-1zM48 52h1v1h-1zM57 52h1v1h-1zM6 53h1v1h-1zM14 53h1v1h-1zM31 53h1v1h-1zM46 53h1v1h-1zM51 53h2v1h-2zM56 53h1v1h-1zM2 54h1v1h-1zM6 54h1v1h-1zM19 54h1v1h-1zM23 54h1v1h-1zM27 54h1v1h-1zM32 54h1v1h-1zM36 54h1v1h-1zM49 54h1v1h-1zM58 54h1v1h-1zM27 55h1v1h-1zM30 55h2v1h-2zM36 55h2v1h-2zM42 55h1v1h-1zM7 56h1v1h-1zM10 56h1v1h-1zM13 56h1v1h-1zM15 56h1v1h-1zM17 56h1v1h-1zM34 56h1v1h-1zM41 56h1v1h-1zM48 56h1v1h-1zM50 56h1v1h-1zM12 57h1v1h-1zM14 57h1v1h-1zM16 57h1v1h-1zM33 57h1v1h-1zM46 57h1v1h-1zM48 57h2v1h-2zM54 57h1v1h-1zM20 58h1v1h-1zM24 58h1v1h-1zM37 58h1v1h-1zM42 58h2v1h-2zM52 58h1v1h-1zM56 58h1v1h-1zM59 58h1v1h-1zM1 59h1v1h-1zM4 59h2v1h-2zM17 59h1v1h-1zM37 59h1v1h-1zM40 59h1v1h-1zM51 59h1v1h-1zM59 59h1v1h-1zM19 60h1v1h-1zM39 60h1v1h-1zM53 60h2v1h-2zM14 61h1v1h-1zM16 61h1v1h-1zM39 61h1v1h-1zM44 61h2v1h-2zM55 61h2v1h-2zM5 62h1v1h-1zM12 62h1v1h-1zM27 62h1v1h-1zM33 62h1v1h-1zM36 62h1v1h-1zM39 62h1v1h-1zM41 62h1v1h-1zM56 62h1v1h-1zM24 63h1v1h-1zM39 63h1v1h-1zM44 63h2v1h-2zM49 63h1v1h-1zM9 64h1v1h-1zM27 64h1v1h-1zM35 64h1v1h-1zM45 64h1v1h-1zM52 64h1v1h-1zM6 65h1v1h-1zM10 65h1v1h-1zM20 65h1v1h-1zM36 65h1v1h-1zM39 65h1v1h-1zM48 65h1v1h-1zM53 65h1v1h-1zM19 66h1v1h-1zM24 66h2v1h-2zM42 66h3v1h-3zM51 66h1v1h-1zM1 67h1v1h-1zM4 67h2v1h-2zM29 67h1v1h-1zM32 67h1v1h-1zM53 67h1v1h-1zM0 68h1v1h-1zM15 68h1v1h-1zM38 68h2v1h-2zM33 69h2v1h-2zM37 69h3v1h-3zM48 69h1v1h-1zM5 70h1v1h-1zM8 70h2v1h-2zM13 70h1v1h-1zM29 70h1v1h-1zM37 70h1v1h-1zM43 70h1v1h-1zM55 70h1v1h-1zM58 70h2v1h-2zM0 71h1v1h-1zM11 71h1v1h-1zM23 71h1v1h-1zM25 71h1v1h-1zM33 71h1v1h-1zM42 71h1v1h-1zM45 71h1v1h-1zM16 72h1v1h-1zM20 72h2v1h-2zM30 72h1v1h-1zM40 72h2v1h-2zM48 72h1v1h-1zM51 72h1v1h-1zM55 72h1v1h-1zM20 73h1v1h-1zM26 73h1v1h-1zM34 73h1v1h-1zM48 73h1v1h-1zM50 73h1v1h-1zM55 73h1v1h-1zM3 74h1v1h-1zM20 74h2v1h-2zM25 74h1v1h-1zM36 74h1v1h-1zM43 74h1v1h-1zM56 74h1v1h-1zM2 75h1v1h-1zM25 75h1v1h-1zM31 75h1v1h-1zM36 75h1v1h-1zM42 75h2v1h-2zM46 75h3v1h-3zM52 75h1v1h-1zM55 75h2v1h-2zM58 75h1v1h-1zM6 76h1v1h-1zM9 76h1v1h-1zM13 76h1v1h-1zM25 76h1v1h-1zM39 76h1v1h-1zM6 77h1v1h-1zM24 77h1v1h-1zM33 77h1v1h-1zM36 77h1v1h-1zM40 77h1v1h-1zM54 77h2v1h-2zM9 78h1v1h-1zM18 78h2v1h-2zM22 78h1v1h-1zM24 78h1v1h-1zM33 78h1v1h-1zM39 78h1v1h-1zM54 78h1v1h-1zM57 78h1v1h-1z"/><path fill="#90c0d8" d="M2 0h2v1h-2zM11 0h1v1h-1zM14 0h2v1h-2zM23 0h2v1h-2zM26 0h1v1h-1zM35 0h1v1h-1zM37 0h2v1h-2zM55 0h1v1h-1zM1 1h1v1h-1zM5 1h2v1h-2zM10 1h1v1h-1zM14 1h1v1h-1zM16 1h1v1h-1zM18 1h1v1h-1zM20 1h1v1h-1zM27 1h1v1h-1zM33 1h2v1h-2zM36 1h2v1h-2zM40 1h1v1h-1zM44 1h1v1h-1zM49 1h1v1h-1zM56 1h1v1h-1zM58 1h1v1h-1zM2 2h1v1h-1zM6 2h2v1h-2zM37 2h1v1h-1zM40 2h2v1h-2zM44 2h2v1h-2zM47 2h1v1h-1zM51 2h1v1h-1zM55 2h1v1h-1zM17 3h1v1h-1zM22 3h1v1h-1zM24 3h1v1h-1zM33 3h1v1h-1zM35 3h1v1h-1zM39 3h1v1h-1zM46 3h2v1h-2zM49 3h2v1h-2zM54 3h1v1h-1zM57 3h1v1h-1zM3 4h2v1h-2zM9 4h1v1h-1zM38 4h1v1h-1zM41 4h1v1h-1zM47 4h1v1h-1zM50 4h4v1h-4zM55 4h1v1h-1zM0 5h2v1h-2zM5 5h1v1h-1zM22 5h1v1h-1zM34 5h1v1h-1zM40 5h1v1h-1zM43 5h2v1h-2zM55 5h1v1h-1zM57 5h3v1h-3zM4 6h1v1h-1zM7 6h1v1h-1zM19 6h1v1h-1zM32 6h2v1h-2zM35 6h1v1h-1zM1 7h1v1h-1zM12 7h1v1h-1zM18 7h1v1h-1zM22 7h1v1h-1zM24 7h1v1h-1zM26 7h1v1h-1zM42 7h1v1h-1zM46 7h2v1h-2zM49 7h1v1h-1zM57 7h1v1h-1zM59 7h1v1h-1zM2 8h1v1h-1zM17 8h1v1h-1zM19 8h1v1h-1zM27 8h1v1h-1zM30 8h1v1h-1zM36 8h1v1h-1zM44 8h1v1h-1zM48 8h1v1h-1zM52 8h2v1h-2zM55 8h2v1h-2zM58 8h2v1h-2zM4 9h1v1h-1zM9 9h1v1h-1zM21 9h1v1h-1zM25 9h1v1h-1zM31 9h1v1h-1zM33 9h1v1h-1zM42 9h2v1h-2zM45 9h1v1h-1zM48 9h1v1h-1zM52 9h1v1h-1zM1 10h1v1h-1zM5 10h1v1h-1zM9 10h1v1h-1zM12 10h1v1h-1zM14 10h2v1h-2zM21 10h1v1h-1zM41 10h1v1h-1zM48 10h1v1h-1zM53 10h1v1h-1zM3 11h1v1h-1zM6 11h1v1h-1zM21 11h1v1h-1zM26 11h1v1h-1zM31 11h1v1h-1zM33 11h2v1h-2zM39 11h1v1h-1zM43 11h1v1h-1zM45 11h1v1h-1zM47 11h1v1h-1zM51 11h1v1h-1zM59 11h1v1h-1zM8 12h1v1h-1zM12 12h1v1h-1zM18 12h1v1h-1zM21 12h1v1h-1zM24 12h1v1h-1zM38 12h2v1h-2zM44 12h1v1h-1zM48 12h2v1h-2zM53 12h1v1h-1zM1 13h1v1h-1zM7 13h1v1h-1zM28 13h2v1h-2zM39 13h1v1h-1zM42 13h1v1h-1zM50 13h1v1h-1zM53 13h1v1h-1zM55 13h1v1h-1zM58 13h1v1h-1zM0 14h1v1h-1zM3 14h1v1h-1zM11 14h1v1h-1zM13 14h1v1h-1zM15 14h1v1h-1zM22 14h1v1h-1zM31 14h2v1h-2zM37 14h1v1h-1zM57 14h1v1h-1zM0 15h1v1h-1zM5 15h1v1h-1zM7 15h1v1h-1zM9 15h1v1h-1zM11 15h1v1h-1zM16 15h2v1h-2zM20 15h1v1h-1zM32 15h2v1h-2zM40 15h2v1h-2zM43 15h3v1h-3zM49 15h1v1h-1zM53 15h1v1h-1zM0 16h1v1h-1zM17 16h1v1h-1zM21 16h1v1h-1zM25 16h1v1h-1zM36 16h1v1h-1zM40 16h1v1h-1zM44 16h1v1h-1zM48 16h1v1h-1zM53 16h3v1h-3zM58 16h1v1h-1zM3 17h1v1h-1zM8 17h1v1h-1zM10 17h3v1h-3zM30 17h1v1h-1zM33 17h1v1h-1zM35 17h2v1h-2zM44 17h1v1h-1zM59 17h1v1h-1zM7 18h1v1h-1zM9 18h1v1h-1zM13 18h1v1h-1zM18 18h1v1h-1zM21 18h1v1h-1zM41 18h1v1h-1zM43 18h1v1h-1zM54 18h1v1h-1zM0 19h1v1h-1zM6 19h1v1h-1zM13 19h1v1h-1zM30 19h1v1h-1zM32 19h1v1h-1zM36 19h1v1h-1zM48 19h1v1h-1zM50 19h1v1h-1zM52 19h1v1h-1zM0 20h1v1h-1zM4 20h1v1h-1zM6 20h1v1h-1zM10 20h1v1h-1zM16 20h1v1h-1zM23 20h1v1h-1zM25 20h1v1h-1zM30 20h1v1h-1zM36 20h1v1h-1zM48 20h1v1h-1zM52 20h1v1h-1zM56 20h2v1h-2zM59 20h1v1h-1zM6 21h1v1h-1zM8 21h1v1h-1zM12 21h1v1h-1zM28 21h2v1h-2zM32 21h2v1h-2zM35 21h2v1h-2zM39 21h2v1h-2zM43 21h1v1h-1zM48 21h1v1h-1zM51 21h1v1h-1zM55 21h1v1h-1zM58 21h1v1h-1zM0 22h1v1h-1zM3 22h1v1h-1zM10 22h1v1h-1zM14 22h1v1h-1zM23 22h1v1h-1zM29 22h1v1h-1zM31 22h1v1h-1zM33 22h2v1h-2zM36 22h3v1h-3zM45 22h1v1h-1zM50 22h1v1h-1zM54 22h1v1h-1zM58 22h1v1h-1zM11 23h1v1h-1zM15 23h1v1h-1zM25 23h1v1h-1zM32 23h1v1h-1zM39 23h3v1h-3zM52 23h1v1h-1zM57 23h1v1h-1zM59 23h1v1h-1zM1 24h1v1h-1zM5 24h1v1h-1zM10 24h1v1h-1zM16 24h1v1h-1zM18 24h2v1h-2zM23 24h1v1h-1zM37 24h2v1h-2zM47 24h1v1h-1zM49 24h1v1h-1zM51 24h1v1h-1zM55 24h2v1h-2zM58 24h1v1h-1zM3 25h1v1h-1zM8 25h1v1h-1zM12 25h1v1h-1zM22 25h1v1h-1zM26 25h1v1h-1zM30 25h1v1h-1zM40 25h1v1h-1zM46 25h1v1h-1zM7 26h1v1h-1zM12 26h1v1h-1zM17 26h1v1h-1zM31 26h1v1h-1zM35 26h1v1h-1zM45 26h1v1h-1zM56 26h1v1h-1zM0 27h1v1h-1zM2 27h2v1h-2zM6 27h1v1h-1zM12 27h1v1h-1zM14 27h1v1h-1zM17 27h1v1h-1zM20 27h1v1h-1zM30 27h3v1h-3zM34 27h2v1h-2zM37 27h1v1h-1zM43 27h1v1h-1zM57 27h1v1h-1zM1 28h1v1h-1zM3 28h1v1h-1zM5 28h1v1h-1zM7 28h1v1h-1zM9 28h1v1h-1zM11 28h2v1h-2zM16 28h1v1h-1zM21 28h1v1h-1zM28 28h1v1h-1zM39 28h1v1h-1zM42 28h1v1h-1zM45 28h2v1h-2zM50 28h2v1h-2zM3 29h2v1h-2zM7 29h2v1h-2zM13 29h1v1h-1zM17 29h1v1h-1zM20 29h1v1h-1zM31 29h1v1h-1zM33 29h2v1h-2zM37 29h1v1h-1zM40 29h1v1h-1zM49 29h1v1h-1zM53 29h2v1h-2zM19 30h1v1h-1zM29 30h2v1h-2zM38 30h1v1h-1zM40 30h1v1h-1zM44 30h1v1h-1zM49 30h1v1h-1zM56 30h2v1h-2zM59 30h1v1h-1zM3 31h1v1h-1zM11 31h1v1h-1zM15 31h1v1h-1zM31 31h1v1h-1zM33 31h1v1h-1zM36 31h1v1h-1zM46 31h2v1h-2zM50 31h3v1h-3zM54 31h1v1h-1zM58 31h1v1h-1zM4 32h1v1h-1zM6 32h1v1h-1zM9 32h1v1h-1zM11 32h2v1h-2zM20 32h2v1h-2zM26 32h1v1h-1zM33 32h1v1h-1zM41 32h1v1h-1zM46 32h2v1h-2zM52 32h1v1h-1zM6 33h1v1h-1zM16 33h3v1h-3zM35 33h1v1h-1zM41 33h2v1h-2zM48 33h2v1h-2zM53 33h1v1h-1zM5 34h1v1h-1zM10 34h1v1h-1zM15 34h1v1h-1zM19 34h1v1h-1zM40 34h1v1h-1zM48 34h2v1h-2zM52 34h1v1h-1zM57 34h1v1h-1zM59 34h1v1h-1zM6 35h1v1h-1zM10 35h1v1h-1zM13 35h1v1h-1zM27 35h2v1h-2zM30 35h2v1h-2zM34 35h1v1h-1zM38 35h1v1h-1zM40 35h1v1h-1zM45 35h1v1h-1zM49 35h2v1h-2zM53 35h1v1h-1zM59 35h1v1h-1zM4 36h1v1h-1zM8 36h1v1h-1zM15 36h2v1h-2zM18 36h1v1h-1zM25 36h1v1h-1zM29 36h1v1h-1zM39 36h1v1h-1zM43 36h1v1h-1zM46 36h1v1h-1zM48 36h1v1h-1zM55 36h1v1h-1zM59 36h1v1h-1zM3 37h1v1h-1zM15 37h1v1h-1zM25 37h2v1h-2zM30 37h1v1h-1zM34 37h1v1h-1zM38 37h1v1h-1zM41 37h1v1h-1zM43 37h1v1h-1zM46 37h1v1h-1zM48 37h1v1h-1zM54 37h1v1h-1zM3 38h1v1h-1zM9 38h1v1h-1zM12 38h1v1h-1zM25 38h1v1h-1zM35 38h1v1h-1zM39 38h1v1h-1zM41 38h1v1h-1zM47 38h1v1h-1zM49 38h1v1h-1zM51 38h1v1h-1zM53 38h1v1h-1zM16 39h2v1h-2zM20 39h1v1h-1zM25 39h1v1h-1zM33 39h1v1h-1zM37 39h2v1h-2zM40 39h2v1h-2zM47 39h1v1h-1zM55 39h1v1h-1zM59 39h1v1h-1zM0 40h1v1h-1zM14 40h1v1h-1zM19 40h1v1h-1zM36 40h1v1h-1zM45 40h2v1h-2zM49 40h1v1h-1zM59 40h1v1h-1zM4 41h1v1h-1zM10 41h1v1h-1zM19 41h1v1h-1zM21 41h1v1h-1zM27 41h1v1h-1zM31 41h1v1h-1zM34 41h1v1h-1zM38 41h1v1h-1zM44 41h1v1h-1zM46 41h1v1h-1zM54 41h1v1h-1zM58 41h1v1h-1zM7 42h1v1h-1zM10 42h1v1h-1zM13 42h1v1h-1zM18 42h1v1h-1zM21 42h1v1h-1zM27 42h1v1h-1zM39 42h2v1h-2zM46 42h1v1h-1zM50 42h2v1h-2zM56 42h1v1h-1zM59 42h1v1h-1zM1 43h1v1h-1zM13 43h2v1h-2zM20 43h1v1h-1zM35 43h2v1h-2zM39 43h1v1h-1zM41 43h3v1h-3zM53 43h1v1h-1zM0 44h1v1h-1zM3 44h1v1h-1zM17 44h3v1h-3zM22 44h1v1h-1zM24 44h3v1h-3zM30 44h1v1h-1zM34 44h1v1h-1zM36 44h1v1h-1zM44 44h2v1h-2zM47 44h1v1h-1zM50 44h1v1h-1zM54 44h1v1h-1zM2 45h1v1h-1zM6 45h1v1h-1zM10 45h1v1h-1zM12 45h2v1h-2zM21 45h1v1h-1zM25 45h1v1h-1zM28 45h1v1h-1zM31 45h2v1h-2zM34 45h1v1h-1zM39 45h1v1h-1zM42 45h1v1h-1zM44 45h1v1h-1zM50 45h1v1h-1zM52 45h2v1h-2zM10 46h5v1h-5zM17 46h1v1h-1zM22 46h1v1h-1zM32 46h1v1h-1zM38 46h1v1h-1zM42 46h1v1h-1zM44 46h1v1h-1zM53 46h1v1h-1zM58 46h1v1h-1zM1 47h1v1h-1zM9 47h2v1h-2zM17 47h1v1h-1zM22 47h1v1h-1zM24 47h1v1h-1zM33 47h1v1h-1zM57 47h1v1h-1zM59 47h1v1h-1zM8 48h1v1h-1zM15 48h2v1h-2zM20 48h1v1h-1zM34 48h1v1h-1zM49 48h1v1h-1zM51 48h1v1h-1zM57 48h1v1h-1zM3 49h1v1h-1zM11 49h1v1h-1zM13 49h1v1h-1zM20 49h1v1h-1zM23 49h1v1h-1zM31 49h3v1h-3zM36 49h1v1h-1zM47 49h1v1h-1zM50 49h1v1h-1zM57 49h1v1h-1zM13 50h1v1h-1zM23 50h1v1h-1zM38 50h1v1h-1zM40 50h2v1h-2zM45 50h1v1h-1zM56 50h1v1h-1zM6 51h1v1h-1zM10 51h1v1h-1zM12 51h1v1h-1zM18 51h2v1h-2zM22 51h2v1h-2zM37 51h4v1h-4zM44 51h1v1h-1zM52 51h1v1h-1zM55 51h2v1h-2zM11 52h3v1h-3zM16 52h1v1h-1zM32 52h1v1h-1zM35 52h1v1h-1zM41 52h1v1h-1zM46 52h1v1h-1zM1 53h1v1h-1zM7 53h2v1h-2zM15 53h1v1h-1zM19 53h1v1h-1zM25 53h1v1h-1zM30 53h1v1h-1zM38 53h1v1h-1zM43 53h1v1h-1zM54 53h1v1h-1zM57 53h1v1h-1zM4 54h1v1h-1zM7 54h1v1h-1zM26 54h1v1h-1zM30 54h1v1h-1zM35 54h1v1h-1zM39 54h1v1h-1zM52 54h1v1h-1zM55 54h2v1h-2zM2 55h1v1h-1zM35 55h1v1h-1zM39 55h1v1h-1zM43 55h2v1h-2zM54 55h1v1h-1zM57 55h1v1h-1zM0 56h1v1h-1zM9 56h1v1h-1zM12 56h1v1h-1zM14 56h1v1h-1zM21 56h1v1h-1zM32 56h2v1h-2zM39 56h1v1h-1zM44 56h3v1h-3zM59 56h1v1h-1zM2 57h1v1h-1zM4 57h1v1h-1zM17 57h1v1h-1zM22 57h3v1h-3zM27 57h1v1h-1zM35 57h1v1h-1zM39 57h2v1h-2zM43 57h3v1h-3zM53 57h1v1h-1zM57 57h2v1h-2zM5 58h1v1h-1zM9 58h1v1h-1zM35 58h1v1h-1zM39 58h2v1h-2zM49 58h1v1h-1zM54 58h1v1h-1zM24 59h1v1h-1zM41 59h1v1h-1zM45 59h1v1h-1zM48 59h1v1h-1zM50 59h1v1h-1zM52 59h1v1h-1zM56 59h2v1h-2zM2 60h1v1h-1zM4 60h1v1h-1zM8 60h1v1h-1zM16 60h1v1h-1zM31 60h1v1h-1zM33 60h1v1h-1zM36 60h1v1h-1zM40 60h1v1h-1zM42 60h1v1h-1zM44 60h2v1h-2zM47 60h3v1h-3zM51 60h2v1h-2zM56 60h1v1h-1zM1 61h1v1h-1zM9 61h1v1h-1zM11 61h1v1h-1zM18 61h3v1h-3zM23 61h3v1h-3zM36 61h1v1h-1zM41 61h1v1h-1zM43 61h1v1h-1zM47 61h1v1h-1zM49 61h1v1h-1zM51 61h1v1h-1zM58 61h1v1h-1zM3 62h1v1h-1zM7 62h1v1h-1zM15 62h1v1h-1zM25 62h1v1h-1zM32 62h1v1h-1zM43 62h1v1h-1zM48 62h1v1h-1zM50 62h1v1h-1zM8 63h1v1h-1zM32 63h2v1h-2zM40 63h1v1h-1zM53 63h2v1h-2zM56 63h4v1h-4zM0 64h1v1h-1zM10 64h2v1h-2zM28 64h1v1h-1zM34 64h1v1h-1zM37 64h2v1h-2zM41 64h1v1h-1zM48 64h1v1h-1zM54 64h1v1h-1zM5 65h1v1h-1zM7 65h2v1h-2zM19 65h1v1h-1zM25 65h1v1h-1zM38 65h1v1h-1zM49 65h1v1h-1zM57 65h1v1h-1zM59 65h1v1h-1zM0 66h1v1h-1zM6 66h1v1h-1zM22 66h1v1h-1zM32 66h1v1h-1zM36 66h2v1h-2zM39 66h1v1h-1zM45 66h1v1h-1zM47 66h3v1h-3zM53 66h1v1h-1zM55 66h1v1h-1zM58 66h1v1h-1zM6 67h2v1h-2zM13 67h1v1h-1zM16 67h1v1h-1zM23 67h2v1h-2zM30 67h2v1h-2zM33 67h1v1h-1zM38 67h1v1h-1zM40 67h1v1h-1zM45 67h1v1h-1zM50 67h1v1h-1zM52 67h1v1h-1zM57 67h1v1h-1zM9 68h1v1h-1zM20 68h1v1h-1zM26 68h1v1h-1zM37 68h1v1h-1zM49 68h2v1h-2zM53 68h3v1h-3zM58 68h1v1h-1zM3 69h1v1h-1zM12 69h1v1h-1zM19 69h1v1h-1zM23 69h1v1h-1zM25 69h1v1h-1zM31 69h1v1h-1zM36 69h1v1h-1zM41 69h1v1h-1zM47 69h1v1h-1zM53 69h2v1h-2zM56 69h1v1h-1zM3 70h2v1h-2zM18 70h1v1h-1zM21 70h1v1h-1zM23 70h2v1h-2zM26 70h2v1h-2zM32 70h2v1h-2zM35 70h1v1h-1zM39 70h1v1h-1zM46 70h2v1h-2zM51 70h2v1h-2zM54 70h1v1h-1zM1 71h3v1h-3zM16 71h1v1h-1zM19 71h1v1h-1zM21 71h2v1h-2zM30 71h1v1h-1zM32 71h1v1h-1zM35 71h1v1h-1zM37 71h2v1h-2zM40 71h2v1h-2zM43 71h2v1h-2zM47 71h1v1h-1zM51 71h1v1h-1zM53 71h1v1h-1zM55 71h3v1h-3zM59 71h1v1h-1zM4 72h1v1h-1zM7 72h2v1h-2zM18 72h1v1h-1zM24 72h2v1h-2zM27 72h1v1h-1zM33 72h1v1h-1zM35 72h1v1h-1zM37 72h1v1h-1zM42 72h1v1h-1zM44 72h1v1h-1zM46 72h2v1h-2zM49 72h1v1h-1zM0 73h1v1h-1zM3 73h1v1h-1zM8 73h1v1h-1zM41 73h2v1h-2zM44 73h1v1h-1zM49 73h1v1h-1zM52 73h3v1h-3zM56 73h2v1h-2zM59 73h1v1h-1zM10 74h1v1h-1zM12 74h1v1h-1zM14 74h1v1h-1zM16 74h1v1h-1zM18 74h2v1h-2zM22 74h1v1h-1zM24 74h1v1h-1zM26 74h1v1h-1zM28 74h1v1h-1zM30 74h1v1h-1zM33 74h1v1h-1zM38 74h1v1h-1zM40 74h1v1h-1zM42 74h1v1h-1zM50 74h1v1h-1zM59 74h1v1h-1zM7 75h1v1h-1zM10 75h2v1h-2zM13 75h1v1h-1zM32 75h1v1h-1zM38 75h1v1h-1zM50 75h2v1h-2zM54 75h1v1h-1zM0 76h1v1h-1zM3 76h1v1h-1zM7 76h1v1h-1zM15 76h1v1h-1zM26 76h1v1h-1zM28 76h1v1h-1zM30 76h5v1h-5zM36 76h1v1h-1zM42 76h1v1h-1zM45 76h1v1h-1zM54 76h1v1h-1zM1 77h1v1h-1zM8 77h2v1h-2zM11 77h1v1h-1zM13 77h1v1h-1zM22 77h1v1h-1zM27 77h1v1h-1zM29 77h1v1h-1zM35 77h1v1h-1zM37 77h1v1h-1zM44 77h2v1h-2zM50 77h4v1h-4zM59 77h1v1h-1zM8 78h1v1h-1zM12 78h1v1h-1zM14 78h4v1h-4zM23 78h1v1h-1zM25 78h1v1h-1zM35 78h3v1h-3zM43 78h1v1h-1zM45 78h1v1h-1zM48 78h1v1h-1zM53 78h1v1h-1z"/><path fill="#a8d8e4" d="M4 0h1v1h-1zM6 0h1v1h-1zM25 0h1v1h-1zM53 0h1v1h-1zM4 1h1v1h-1zM24 1h1v1h-1zM21 3h1v1h-1zM23 3h1v1h-1zM40 3h1v1h-1zM0 4h1v1h-1zM19 4h1v1h-1zM58 4h1v1h-1zM16 5h1v1h-1zM45 5h1v1h-1zM9 6h1v1h-1zM24 6h1v1h-1zM34 6h1v1h-1zM30 7h1v1h-1zM1 8h1v1h-1zM14 8h1v1h-1zM47 8h1v1h-1zM54 8h1v1h-1zM12 9h1v1h-1zM23 9h1v1h-1zM41 9h1v1h-1zM47 9h1v1h-1zM59 9h1v1h-1zM19 10h1v1h-1zM22 11h1v1h-1zM1 12h1v1h-1zM3 13h1v1h-1zM6 13h1v1h-1zM13 13h1v1h-1zM32 13h1v1h-1zM51 13h1v1h-1zM56 13h1v1h-1zM49 14h1v1h-1zM50 15h1v1h-1zM52 15h1v1h-1zM1 16h3v1h-3zM11 16h1v1h-1zM46 16h1v1h-1zM50 16h1v1h-1zM7 17h1v1h-1zM21 17h1v1h-1zM5 18h1v1h-1zM20 18h1v1h-1zM21 19h1v1h-1zM46 19h1v1h-1zM19 20h2v1h-2zM34 20h1v1h-1zM43 20h1v1h-1zM41 21h1v1h-1zM46 21h1v1h-1zM4 22h1v1h-1zM19 22h1v1h-1zM26 22h1v1h-1zM39 22h1v1h-1zM1 23h1v1h-1zM16 23h1v1h-1zM35 23h1v1h-1zM38 23h1v1h-1zM22 24h1v1h-1zM43 25h1v1h-1zM48 25h2v1h-2zM54 25h1v1h-1zM8 26h1v1h-1zM19 26h1v1h-1zM38 26h1v1h-1zM42 26h1v1h-1zM53 26h1v1h-1zM33 27h1v1h-1zM42 27h1v1h-1zM47 28h2v1h-2zM12 29h1v1h-1zM14 30h1v1h-1zM39 30h1v1h-1zM52 30h1v1h-1zM44 31h1v1h-1zM8 32h1v1h-1zM13 32h2v1h-2zM24 32h1v1h-1zM39 32h1v1h-1zM2 34h1v1h-1zM4 35h1v1h-1zM7 35h1v1h-1zM17 35h1v1h-1zM22 35h1v1h-1zM46 35h2v1h-2zM58 35h1v1h-1zM11 36h1v1h-1zM33 36h1v1h-1zM35 36h1v1h-1zM17 37h1v1h-1zM49 37h1v1h-1zM17 38h1v1h-1zM20 38h1v1h-1zM3 39h1v1h-1zM54 39h1v1h-1zM12 40h1v1h-1zM1 42h1v1h-1zM3 42h1v1h-1zM14 42h1v1h-1zM22 42h2v1h-2zM56 43h1v1h-1zM35 44h1v1h-1zM49 45h1v1h-1zM7 46h1v1h-1zM18 46h1v1h-1zM2 47h1v1h-1zM3 48h1v1h-1zM44 48h1v1h-1zM12 49h1v1h-1zM24 49h1v1h-1zM45 49h1v1h-1zM20 50h1v1h-1zM5 51h1v1h-1zM0 52h1v1h-1zM52 52h1v1h-1zM12 53h2v1h-2zM41 53h1v1h-1zM50 53h1v1h-1zM44 54h1v1h-1zM1 55h1v1h-1zM58 55h1v1h-1zM16 56h1v1h-1zM22 56h1v1h-1zM54 56h1v1h-1zM0 57h1v1h-1zM7 57h1v1h-1zM56 57h1v1h-1zM2 58h1v1h-1zM12 58h1v1h-1zM36 58h1v1h-1zM35 59h1v1h-1zM46 59h1v1h-1zM7 60h1v1h-1zM10 60h1v1h-1zM13 60h1v1h-1zM21 60h1v1h-1zM41 60h1v1h-1zM3 61h1v1h-1zM6 61h1v1h-1zM8 61h1v1h-1zM10 61h1v1h-1zM57 61h1v1h-1zM46 62h1v1h-1zM7 63h1v1h-1zM14 63h2v1h-2zM18 63h2v1h-2zM21 63h1v1h-1zM52 63h1v1h-1zM15 64h1v1h-1zM8 66h1v1h-1zM14 66h1v1h-1zM15 67h1v1h-1zM28 67h1v1h-1zM56 67h1v1h-1zM11 68h1v1h-1zM32 68h1v1h-1zM10 69h1v1h-1zM14 69h1v1h-1zM24 69h1v1h-1zM29 69h1v1h-1zM8 71h1v1h-1zM12 71h1v1h-1zM32 72h1v1h-1zM50 72h1v1h-1zM24 73h1v1h-1zM36 73h1v1h-1zM51 73h1v1h-1zM5 74h1v1h-1zM39 74h1v1h-1zM27 75h1v1h-1zM37 75h1v1h-1zM41 75h1v1h-1zM57 75h1v1h-1zM1 76h1v1h-1zM8 76h1v1h-1zM14 77h1v1h-1zM21 77h1v1h-1zM49 77h1v1h-1zM1 78h1v1h-1zM20 78h1v1h-1z"/><path fill="#c0d8e4" d="M5 0h1v1h-1zM2 1h1v1h-1zM32 2h1v1h-1zM49 2h1v1h-1zM11 3h1v1h-1zM6 5h1v1h-1zM33 5h1v1h-1zM22 6h1v1h-1zM37 8h1v1h-1zM2 12h1v1h-1zM37 12h1v1h-1zM16 13h1v1h-1zM16 14h1v1h-1zM24 14h1v1h-1zM1 17h1v1h-1zM24 17h1v1h-1zM53 17h1v1h-1zM24 19h1v1h-1zM7 20h1v1h-1zM8 22h1v1h-1zM40 22h1v1h-1zM56 22h1v1h-1zM9 26h1v1h-1zM13 26h1v1h-1zM11 27h1v1h-1zM41 27h1v1h-1zM15 29h1v1h-1zM4 30h1v1h-1zM13 31h1v1h-1zM49 31h1v1h-1zM7 32h1v1h-1zM36 32h1v1h-1zM9 33h1v1h-1zM38 33h1v1h-1zM12 35h1v1h-1zM20 36h1v1h-1zM20 37h1v1h-1zM24 37h1v1h-1zM36 37h1v1h-1zM57 37h1v1h-1zM9 39h1v1h-1zM53 40h1v1h-1zM6 41h1v1h-1zM4 42h1v1h-1zM37 43h1v1h-1zM40 43h1v1h-1zM11 44h1v1h-1zM20 44h1v1h-1zM11 45h1v1h-1zM26 45h1v1h-1zM47 45h1v1h-1zM51 45h1v1h-1zM16 46h1v1h-1zM35 46h1v1h-1zM6 47h1v1h-1zM48 47h1v1h-1zM16 49h1v1h-1zM12 50h1v1h-1zM57 51h1v1h-1zM25 52h1v1h-1zM3 53h1v1h-1zM39 53h1v1h-1zM43 54h1v1h-1zM46 54h1v1h-1zM7 55h1v1h-1zM53 55h1v1h-1zM2 56h1v1h-1zM43 56h1v1h-1zM55 56h1v1h-1zM18 58h1v1h-1zM18 59h1v1h-1zM15 61h1v1h-1zM48 61h1v1h-1zM53 61h1v1h-1zM10 62h1v1h-1zM2 63h1v1h-1zM4 63h2v1h-2zM35 63h1v1h-1zM18 64h1v1h-1zM22 64h1v1h-1zM46 64h1v1h-1zM46 65h1v1h-1zM9 66h1v1h-1zM20 67h1v1h-1zM14 68h1v1h-1zM57 68h1v1h-1zM11 69h1v1h-1zM6 70h1v1h-1zM12 70h1v1h-1zM34 70h1v1h-1zM15 74h1v1h-1zM11 76h1v1h-1zM2 77h1v1h-1zM40 78h1v1h-1z"/><path fill="#a8cce4" d="M7 0h1v1h-1zM18 0h1v1h-1zM20 0h1v1h-1zM40 0h1v1h-1zM43 0h1v1h-1zM50 0h1v1h-1zM59 0h1v1h-1zM7 1h1v1h-1zM9 1h1v1h-1zM22 1h1v1h-1zM25 1h1v1h-1zM52 2h1v1h-1zM32 3h1v1h-1zM48 3h1v1h-1zM59 3h1v1h-1zM1 4h1v1h-1zM10 4h1v1h-1zM16 4h1v1h-1zM25 4h1v1h-1zM32 4h1v1h-1zM40 4h1v1h-1zM42 4h1v1h-1zM8 5h1v1h-1zM11 5h1v1h-1zM13 5h1v1h-1zM25 5h1v1h-1zM37 5h1v1h-1zM41 5h1v1h-1zM46 5h2v1h-2zM51 5h2v1h-2zM56 5h1v1h-1zM1 6h1v1h-1zM11 6h1v1h-1zM17 6h1v1h-1zM20 6h1v1h-1zM25 6h1v1h-1zM39 6h1v1h-1zM45 6h2v1h-2zM49 6h1v1h-1zM57 6h1v1h-1zM44 7h1v1h-1zM52 7h1v1h-1zM3 8h1v1h-1zM9 8h1v1h-1zM11 8h1v1h-1zM15 8h1v1h-1zM24 8h1v1h-1zM35 8h1v1h-1zM39 8h4v1h-4zM49 8h1v1h-1zM8 9h1v1h-1zM10 9h1v1h-1zM13 9h1v1h-1zM17 9h1v1h-1zM19 9h2v1h-2zM46 9h1v1h-1zM53 9h1v1h-1zM58 9h1v1h-1zM10 10h1v1h-1zM35 10h1v1h-1zM45 10h1v1h-1zM4 11h1v1h-1zM10 11h2v1h-2zM14 11h1v1h-1zM18 11h2v1h-2zM58 11h1v1h-1zM22 12h1v1h-1zM25 12h1v1h-1zM45 12h1v1h-1zM47 12h1v1h-1zM54 12h1v1h-1zM17 13h2v1h-2zM35 13h1v1h-1zM37 13h1v1h-1zM49 13h1v1h-1zM54 13h1v1h-1zM2 14h1v1h-1zM4 14h1v1h-1zM10 14h1v1h-1zM20 14h1v1h-1zM34 14h1v1h-1zM40 14h1v1h-1zM47 14h1v1h-1zM14 15h1v1h-1zM26 15h1v1h-1zM35 15h1v1h-1zM37 15h1v1h-1zM47 15h1v1h-1zM57 15h2v1h-2zM7 16h1v1h-1zM9 16h1v1h-1zM32 16h1v1h-1zM37 16h1v1h-1zM51 16h1v1h-1zM49 17h1v1h-1zM1 18h1v1h-1zM10 18h2v1h-2zM24 18h1v1h-1zM38 18h1v1h-1zM53 18h1v1h-1zM56 18h1v1h-1zM1 19h1v1h-1zM25 19h2v1h-2zM41 19h2v1h-2zM51 19h1v1h-1zM58 19h1v1h-1zM5 20h1v1h-1zM15 20h1v1h-1zM21 20h1v1h-1zM40 20h1v1h-1zM47 20h1v1h-1zM4 21h1v1h-1zM9 21h1v1h-1zM11 21h1v1h-1zM21 21h1v1h-1zM38 21h1v1h-1zM45 21h1v1h-1zM59 21h1v1h-1zM43 22h1v1h-1zM48 22h1v1h-1zM12 23h1v1h-1zM17 23h1v1h-1zM22 23h1v1h-1zM37 23h1v1h-1zM42 23h1v1h-1zM2 24h2v1h-2zM7 24h1v1h-1zM11 24h1v1h-1zM17 24h1v1h-1zM20 24h1v1h-1zM32 24h2v1h-2zM36 24h1v1h-1zM42 24h1v1h-1zM48 24h1v1h-1zM18 25h2v1h-2zM28 25h1v1h-1zM53 25h1v1h-1zM56 25h1v1h-1zM59 25h1v1h-1zM11 26h1v1h-1zM23 26h1v1h-1zM29 26h1v1h-1zM44 26h1v1h-1zM48 26h1v1h-1zM1 27h1v1h-1zM13 27h1v1h-1zM59 27h1v1h-1zM14 28h1v1h-1zM17 28h2v1h-2zM24 28h1v1h-1zM30 28h1v1h-1zM54 28h1v1h-1zM16 29h1v1h-1zM21 29h1v1h-1zM28 29h1v1h-1zM35 29h1v1h-1zM39 29h1v1h-1zM44 29h1v1h-1zM55 29h1v1h-1zM0 30h1v1h-1zM6 30h2v1h-2zM36 30h1v1h-1zM45 30h1v1h-1zM8 31h2v1h-2zM25 31h1v1h-1zM41 31h1v1h-1zM57 31h1v1h-1zM0 32h1v1h-1zM32 32h1v1h-1zM43 32h1v1h-1zM10 33h1v1h-1zM14 33h1v1h-1zM23 33h1v1h-1zM44 33h1v1h-1zM51 33h1v1h-1zM54 33h1v1h-1zM59 33h1v1h-1zM12 34h2v1h-2zM24 34h1v1h-1zM32 34h2v1h-2zM37 34h1v1h-1zM42 34h1v1h-1zM2 35h2v1h-2zM5 35h1v1h-1zM15 35h1v1h-1zM20 35h1v1h-1zM39 35h1v1h-1zM43 35h1v1h-1zM52 35h1v1h-1zM55 35h1v1h-1zM22 36h1v1h-1zM37 36h1v1h-1zM47 36h1v1h-1zM58 36h1v1h-1zM1 37h1v1h-1zM6 37h1v1h-1zM8 37h1v1h-1zM18 37h1v1h-1zM23 37h1v1h-1zM39 37h1v1h-1zM50 37h1v1h-1zM52 37h2v1h-2zM56 37h1v1h-1zM1 38h1v1h-1zM10 38h2v1h-2zM18 38h1v1h-1zM21 38h1v1h-1zM40 38h1v1h-1zM58 38h1v1h-1zM7 39h1v1h-1zM11 39h1v1h-1zM13 39h1v1h-1zM21 39h1v1h-1zM35 39h1v1h-1zM45 39h1v1h-1zM1 40h1v1h-1zM8 40h1v1h-1zM25 40h1v1h-1zM42 40h1v1h-1zM52 40h1v1h-1zM11 41h1v1h-1zM17 41h2v1h-2zM20 41h1v1h-1zM23 41h1v1h-1zM32 41h1v1h-1zM49 41h1v1h-1zM6 42h1v1h-1zM32 42h1v1h-1zM37 42h1v1h-1zM41 42h1v1h-1zM47 42h1v1h-1zM5 43h1v1h-1zM11 43h1v1h-1zM16 43h1v1h-1zM24 43h1v1h-1zM48 43h1v1h-1zM7 44h1v1h-1zM28 44h1v1h-1zM39 44h2v1h-2zM43 44h1v1h-1zM16 45h1v1h-1zM19 45h1v1h-1zM36 45h1v1h-1zM41 45h1v1h-1zM57 45h1v1h-1zM33 46h2v1h-2zM8 47h1v1h-1zM11 47h1v1h-1zM38 47h1v1h-1zM40 47h1v1h-1zM56 47h1v1h-1zM1 48h2v1h-2zM9 48h1v1h-1zM21 48h1v1h-1zM1 49h1v1h-1zM15 49h1v1h-1zM41 49h1v1h-1zM44 49h1v1h-1zM49 49h1v1h-1zM0 50h1v1h-1zM8 50h1v1h-1zM22 50h1v1h-1zM37 50h1v1h-1zM39 50h1v1h-1zM59 50h1v1h-1zM2 51h1v1h-1zM7 51h2v1h-2zM13 51h1v1h-1zM16 51h1v1h-1zM20 51h1v1h-1zM48 51h2v1h-2zM54 51h1v1h-1zM5 52h1v1h-1zM17 52h1v1h-1zM20 52h1v1h-1zM34 52h1v1h-1zM44 52h1v1h-1zM54 52h1v1h-1zM58 52h1v1h-1zM22 53h1v1h-1zM28 53h1v1h-1zM44 53h1v1h-1zM55 53h1v1h-1zM0 54h1v1h-1zM5 54h1v1h-1zM9 54h2v1h-2zM37 54h1v1h-1zM5 55h1v1h-1zM8 55h2v1h-2zM13 55h1v1h-1zM20 55h2v1h-2zM46 55h2v1h-2zM59 55h1v1h-1zM40 56h1v1h-1zM1 57h1v1h-1zM9 57h1v1h-1zM30 57h1v1h-1zM41 57h1v1h-1zM11 58h1v1h-1zM14 58h1v1h-1zM50 58h1v1h-1zM58 58h1v1h-1zM9 59h1v1h-1zM22 59h2v1h-2zM34 59h1v1h-1zM39 59h1v1h-1zM43 59h1v1h-1zM47 59h1v1h-1zM49 59h1v1h-1zM53 59h1v1h-1zM43 60h1v1h-1zM46 60h1v1h-1zM57 60h1v1h-1zM0 61h1v1h-1zM2 61h1v1h-1zM4 61h1v1h-1zM12 61h1v1h-1zM50 61h1v1h-1zM49 62h1v1h-1zM52 62h1v1h-1zM55 62h1v1h-1zM0 63h2v1h-2zM41 63h1v1h-1zM43 63h1v1h-1zM47 63h1v1h-1zM50 63h1v1h-1zM4 64h1v1h-1zM12 64h1v1h-1zM25 64h1v1h-1zM32 64h2v1h-2zM36 64h1v1h-1zM47 64h1v1h-1zM56 64h1v1h-1zM4 65h1v1h-1zM11 65h3v1h-3zM15 65h1v1h-1zM17 65h1v1h-1zM51 65h2v1h-2zM3 66h1v1h-1zM5 66h1v1h-1zM7 66h1v1h-1zM10 66h1v1h-1zM13 66h1v1h-1zM15 66h2v1h-2zM21 66h1v1h-1zM38 66h1v1h-1zM12 67h1v1h-1zM14 67h1v1h-1zM17 67h2v1h-2zM51 67h1v1h-1zM6 68h1v1h-1zM10 68h1v1h-1zM23 68h1v1h-1zM29 68h1v1h-1zM34 68h1v1h-1zM36 68h1v1h-1zM52 68h1v1h-1zM2 69h1v1h-1zM15 69h1v1h-1zM20 69h1v1h-1zM42 69h1v1h-1zM49 69h2v1h-2zM52 69h1v1h-1zM7 70h1v1h-1zM16 70h1v1h-1zM25 70h1v1h-1zM28 70h1v1h-1zM40 70h1v1h-1zM53 70h1v1h-1zM56 70h2v1h-2zM15 71h1v1h-1zM34 71h1v1h-1zM46 71h1v1h-1zM1 72h1v1h-1zM10 72h1v1h-1zM12 72h1v1h-1zM26 72h1v1h-1zM29 72h1v1h-1zM34 72h1v1h-1zM39 72h1v1h-1zM53 72h1v1h-1zM2 73h1v1h-1zM10 73h1v1h-1zM12 73h1v1h-1zM29 73h1v1h-1zM40 73h1v1h-1zM45 73h1v1h-1zM58 73h1v1h-1zM4 74h1v1h-1zM7 74h1v1h-1zM23 74h1v1h-1zM41 74h1v1h-1zM45 74h1v1h-1zM53 74h1v1h-1zM4 75h1v1h-1zM16 75h1v1h-1zM24 75h1v1h-1zM40 75h1v1h-1zM49 75h1v1h-1zM29 76h1v1h-1zM37 76h1v1h-1zM40 76h1v1h-1zM48 76h1v1h-1zM51 76h1v1h-1zM56 76h1v1h-1zM10 77h1v1h-1zM16 77h1v1h-1zM25 77h1v1h-1zM47 77h1v1h-1zM56 77h1v1h-1zM13 78h1v1h-1zM26 78h1v1h-1zM50 78h2v1h-2z"/><path fill="#84b4cc" d="M8 0h1v1h-1zM22 0h1v1h-1zM51 0h1v1h-1zM54 1h1v1h-1zM22 2h1v1h-1zM24 2h1v1h-1zM38 2h1v1h-1zM46 2h1v1h-1zM28 3h1v1h-1zM46 4h1v1h-1zM26 5h1v1h-1zM50 5h1v1h-1zM2 6h1v1h-1zM28 6h1v1h-1zM31 6h1v1h-1zM54 7h1v1h-1zM29 8h1v1h-1zM33 8h1v1h-1zM37 9h1v1h-1zM26 10h1v1h-1zM52 10h1v1h-1zM29 11h1v1h-1zM49 11h1v1h-1zM45 14h1v1h-1zM8 16h1v1h-1zM29 16h1v1h-1zM52 16h1v1h-1zM29 17h1v1h-1zM38 17h1v1h-1zM30 18h1v1h-1zM52 18h1v1h-1zM57 19h1v1h-1zM31 20h1v1h-1zM26 21h1v1h-1zM31 21h1v1h-1zM57 22h1v1h-1zM29 23h1v1h-1zM11 25h1v1h-1zM52 25h1v1h-1zM18 26h1v1h-1zM59 26h1v1h-1zM8 27h1v1h-1zM27 27h1v1h-1zM40 27h1v1h-1zM40 28h1v1h-1zM56 29h1v1h-1zM2 30h2v1h-2zM54 30h1v1h-1zM43 31h1v1h-1zM23 32h1v1h-1zM30 32h1v1h-1zM27 33h1v1h-1zM39 34h1v1h-1zM37 35h1v1h-1zM23 36h1v1h-1zM26 36h1v1h-1zM40 37h1v1h-1zM27 38h1v1h-1zM48 38h1v1h-1zM26 39h1v1h-1zM3 40h1v1h-1zM47 40h1v1h-1zM24 41h1v1h-1zM32 43h1v1h-1zM49 47h1v1h-1zM53 47h1v1h-1zM31 48h1v1h-1zM39 48h1v1h-1zM34 49h1v1h-1zM37 49h1v1h-1zM15 51h1v1h-1zM26 51h1v1h-1zM45 51h1v1h-1zM40 52h1v1h-1zM56 52h1v1h-1zM59 52h1v1h-1zM29 53h1v1h-1zM52 56h1v1h-1zM44 58h1v1h-1zM47 58h1v1h-1zM27 60h1v1h-1zM31 63h1v1h-1zM42 64h1v1h-1zM50 64h1v1h-1zM27 67h1v1h-1zM40 68h1v1h-1zM47 68h1v1h-1zM4 69h1v1h-1zM21 69h1v1h-1zM57 69h1v1h-1zM38 72h1v1h-1zM6 73h1v1h-1zM46 73h1v1h-1zM34 74h1v1h-1zM48 74h1v1h-1zM26 75h1v1h-1zM47 76h1v1h-1zM58 76h1v1h-1zM38 77h1v1h-1zM46 77h1v1h-1zM57 77h1v1h-1zM49 78h1v1h-1zM52 78h1v1h-1z"/><path fill="#f0f0c0" d="M9 0h1v1h-1zM55 1h1v1h-1zM9 2h1v1h-1zM15 2h1v1h-1zM7 9h1v1h-1zM34 9h1v1h-1zM54 9h1v1h-1zM33 10h1v1h-1zM23 12h1v1h-1zM25 13h1v1h-1zM23 15h1v1h-1zM42 15h1v1h-1zM10 16h1v1h-1zM13 16h1v1h-1zM45 17h1v1h-1zM23 19h1v1h-1zM58 20h1v1h-1zM14 23h1v1h-1zM17 25h1v1h-1zM38 29h1v1h-1zM3 34h1v1h-1zM8 34h1v1h-1zM50 41h1v1h-1zM34 42h1v1h-1zM4 44h1v1h-1zM21 44h1v1h-1zM17 48h1v1h-1zM55 50h1v1h-1zM0 51h1v1h-1zM22 54h1v1h-1zM42 56h1v1h-1zM48 58h1v1h-1zM15 60h1v1h-1zM59 60h1v1h-1zM42 61h1v1h-1zM13 62h1v1h-1zM22 67h1v1h-1zM19 68h1v1h-1zM50 76h1v1h-1z"/><path fill="#c0e4f0" d="M13 0h1v1h-1zM36 0h1v1h-1zM10 2h1v1h-1zM19 2h1v1h-1zM5 4h1v1h-1zM20 4h1v1h-1zM23 4h1v1h-1zM18 5h1v1h-1zM0 6h1v1h-1zM13 6h1v1h-1zM0 7h1v1h-1zM6 7h1v1h-1zM37 7h2v1h-2zM53 7h1v1h-1zM34 8h1v1h-1zM43 8h1v1h-1zM1 9h1v1h-1zM3 9h1v1h-1zM20 10h1v1h-1zM17 11h1v1h-1zM0 12h1v1h-1zM5 12h1v1h-1zM15 12h1v1h-1zM55 12h1v1h-1zM4 13h1v1h-1zM8 13h1v1h-1zM8 14h1v1h-1zM52 14h1v1h-1zM13 15h1v1h-1zM38 15h1v1h-1zM46 15h1v1h-1zM15 16h2v1h-2zM19 16h1v1h-1zM9 17h1v1h-1zM32 17h1v1h-1zM14 18h1v1h-1zM10 19h1v1h-1zM16 19h1v1h-1zM50 20h1v1h-1zM22 21h1v1h-1zM25 21h1v1h-1zM42 21h1v1h-1zM2 22h1v1h-1zM7 22h1v1h-1zM8 23h2v1h-2zM43 24h1v1h-1zM53 24h1v1h-1zM59 24h1v1h-1zM2 25h1v1h-1zM2 26h1v1h-1zM20 26h2v1h-2zM36 26h2v1h-2zM46 26h1v1h-1zM52 26h1v1h-1zM9 27h1v1h-1zM46 27h1v1h-1zM22 29h1v1h-1zM11 30h2v1h-2zM18 30h1v1h-1zM1 31h1v1h-1zM7 31h1v1h-1zM10 31h1v1h-1zM20 31h1v1h-1zM38 31h1v1h-1zM17 32h1v1h-1zM45 32h1v1h-1zM3 33h1v1h-1zM22 33h1v1h-1zM24 33h1v1h-1zM22 34h1v1h-1zM32 35h1v1h-1zM48 35h1v1h-1zM1 36h1v1h-1zM0 37h1v1h-1zM2 37h1v1h-1zM4 37h2v1h-2zM35 37h1v1h-1zM0 38h1v1h-1zM7 38h1v1h-1zM50 38h1v1h-1zM43 39h1v1h-1zM33 40h1v1h-1zM48 40h1v1h-1zM50 40h1v1h-1zM55 40h1v1h-1zM58 40h1v1h-1zM2 41h1v1h-1zM8 42h2v1h-2zM11 42h1v1h-1zM15 42h2v1h-2zM15 43h1v1h-1zM50 43h1v1h-1zM12 44h1v1h-1zM38 44h1v1h-1zM52 44h1v1h-1zM8 45h1v1h-1zM20 45h1v1h-1zM20 46h1v1h-1zM12 47h1v1h-1zM44 47h1v1h-1zM52 48h1v1h-1zM56 48h1v1h-1zM51 49h1v1h-1zM2 50h1v1h-1zM9 50h1v1h-1zM15 50h1v1h-1zM19 50h1v1h-1zM21 50h1v1h-1zM48 50h1v1h-1zM6 52h1v1h-1zM22 52h1v1h-1zM34 53h1v1h-1zM48 53h1v1h-1zM12 54h1v1h-1zM16 54h1v1h-1zM47 54h1v1h-1zM0 55h1v1h-1zM6 55h1v1h-1zM12 55h1v1h-1zM14 55h1v1h-1zM19 55h1v1h-1zM36 56h1v1h-1zM32 57h1v1h-1zM47 57h1v1h-1zM0 58h1v1h-1zM15 58h1v1h-1zM17 58h1v1h-1zM2 59h1v1h-1zM11 59h2v1h-2zM21 59h1v1h-1zM1 60h1v1h-1zM50 60h1v1h-1zM22 61h1v1h-1zM35 61h1v1h-1zM35 62h1v1h-1zM44 62h1v1h-1zM11 63h1v1h-1zM16 63h1v1h-1zM34 63h1v1h-1zM51 63h1v1h-1zM3 64h1v1h-1zM6 64h1v1h-1zM39 64h1v1h-1zM53 64h1v1h-1zM14 65h1v1h-1zM33 65h1v1h-1zM54 65h1v1h-1zM23 66h1v1h-1zM59 66h1v1h-1zM0 67h1v1h-1zM9 67h1v1h-1zM19 67h1v1h-1zM35 67h1v1h-1zM45 68h1v1h-1zM40 69h1v1h-1zM2 72h1v1h-1zM6 72h1v1h-1zM31 72h1v1h-1zM22 73h1v1h-1zM1 74h1v1h-1zM17 74h1v1h-1zM21 75h1v1h-1zM34 75h1v1h-1zM4 76h2v1h-2zM3 77h1v1h-1zM26 77h1v1h-1zM48 77h1v1h-1zM3 78h1v1h-1z"/><path fill="#9cccd8" d="M16 0h1v1h-1zM54 0h1v1h-1zM21 1h1v1h-1zM32 1h1v1h-1zM39 1h1v1h-1zM42 1h1v1h-1zM59 1h1v1h-1zM13 2h1v1h-1zM39 5h1v1h-1zM6 6h1v1h-1zM3 7h1v1h-1zM6 9h1v1h-1zM51 9h1v1h-1zM32 10h1v1h-1zM8 11h1v1h-1zM23 11h1v1h-1zM37 11h1v1h-1zM32 12h1v1h-1zM58 12h1v1h-1zM5 13h1v1h-1zM20 13h1v1h-1zM22 13h2v1h-2zM47 13h1v1h-1zM57 13h1v1h-1zM33 14h1v1h-1zM1 15h1v1h-1zM6 15h1v1h-1zM15 15h1v1h-1zM38 16h1v1h-1zM37 19h1v1h-1zM45 19h1v1h-1zM54 19h1v1h-1zM18 20h1v1h-1zM49 20h1v1h-1zM49 22h1v1h-1zM59 22h1v1h-1zM47 23h2v1h-2zM14 24h1v1h-1zM25 24h1v1h-1zM41 24h1v1h-1zM54 24h1v1h-1zM33 25h1v1h-1zM22 26h1v1h-1zM50 26h1v1h-1zM5 27h1v1h-1zM19 27h1v1h-1zM39 27h1v1h-1zM0 28h1v1h-1zM2 28h1v1h-1zM13 28h1v1h-1zM58 28h1v1h-1zM22 30h1v1h-1zM27 30h1v1h-1zM22 31h1v1h-1zM48 31h1v1h-1zM56 31h1v1h-1zM10 32h1v1h-1zM19 32h1v1h-1zM20 33h1v1h-1zM34 33h1v1h-1zM14 34h1v1h-1zM43 34h1v1h-1zM45 34h1v1h-1zM50 34h1v1h-1zM56 34h1v1h-1zM2 36h1v1h-1zM32 37h1v1h-1zM43 40h1v1h-1zM3 43h1v1h-1zM23 46h2v1h-2zM41 46h1v1h-1zM5 47h1v1h-1zM19 48h1v1h-1zM14 49h1v1h-1zM17 49h1v1h-1zM22 49h1v1h-1zM54 49h1v1h-1zM6 50h1v1h-1zM47 50h1v1h-1zM50 50h1v1h-1zM2 52h1v1h-1zM38 52h1v1h-1zM11 53h1v1h-1zM23 53h1v1h-1zM8 54h1v1h-1zM48 54h1v1h-1zM6 56h1v1h-1zM29 56h1v1h-1zM47 56h1v1h-1zM38 57h1v1h-1zM50 57h1v1h-1zM59 57h1v1h-1zM41 58h1v1h-1zM9 60h1v1h-1zM32 60h1v1h-1zM21 61h1v1h-1zM1 62h1v1h-1zM6 62h1v1h-1zM34 62h1v1h-1zM36 63h1v1h-1zM1 64h1v1h-1zM21 64h1v1h-1zM40 64h1v1h-1zM44 64h1v1h-1zM3 67h1v1h-1zM11 67h1v1h-1zM39 67h1v1h-1zM47 67h2v1h-2zM31 68h1v1h-1zM17 70h1v1h-1zM30 70h1v1h-1zM50 70h1v1h-1zM36 71h1v1h-1zM11 73h1v1h-1zM14 73h1v1h-1zM30 73h1v1h-1zM44 74h1v1h-1zM17 75h1v1h-1zM18 76h1v1h-1zM11 78h1v1h-1zM41 78h1v1h-1z"/><path fill="#b4d8e4" d="M19 0h1v1h-1zM42 0h1v1h-1zM48 0h1v1h-1zM58 0h1v1h-1zM17 1h1v1h-1zM19 1h1v1h-1zM23 1h1v1h-1zM47 1h1v1h-1zM0 2h1v1h-1zM4 2h1v1h-1zM11 2h1v1h-1zM18 2h1v1h-1zM33 2h1v1h-1zM48 2h1v1h-1zM2 3h1v1h-1zM4 3h1v1h-1zM6 3h2v1h-2zM12 3h1v1h-1zM19 3h1v1h-1zM2 4h1v1h-1zM12 4h1v1h-1zM34 4h1v1h-1zM36 4h1v1h-1zM39 4h1v1h-1zM7 5h1v1h-1zM15 5h1v1h-1zM17 5h1v1h-1zM20 5h1v1h-1zM53 5h1v1h-1zM5 6h1v1h-1zM37 6h1v1h-1zM42 6h1v1h-1zM51 6h1v1h-1zM54 6h1v1h-1zM4 7h1v1h-1zM9 7h1v1h-1zM11 7h1v1h-1zM21 7h1v1h-1zM32 7h1v1h-1zM34 7h1v1h-1zM43 7h1v1h-1zM6 8h2v1h-2zM13 8h1v1h-1zM18 8h1v1h-1zM22 8h1v1h-1zM2 9h1v1h-1zM5 9h1v1h-1zM49 9h1v1h-1zM7 10h1v1h-1zM13 10h1v1h-1zM17 10h2v1h-2zM27 10h1v1h-1zM34 10h1v1h-1zM59 10h1v1h-1zM5 11h1v1h-1zM13 11h1v1h-1zM20 11h1v1h-1zM54 11h1v1h-1zM3 12h2v1h-2zM10 12h1v1h-1zM29 12h1v1h-1zM35 12h1v1h-1zM40 12h1v1h-1zM52 12h1v1h-1zM12 13h1v1h-1zM36 13h1v1h-1zM38 13h1v1h-1zM41 13h1v1h-1zM43 13h1v1h-1zM23 14h1v1h-1zM25 14h1v1h-1zM36 14h1v1h-1zM39 14h1v1h-1zM42 14h1v1h-1zM53 14h1v1h-1zM55 14h1v1h-1zM4 15h1v1h-1zM8 15h1v1h-1zM18 15h1v1h-1zM21 15h1v1h-1zM34 15h1v1h-1zM39 15h1v1h-1zM4 16h1v1h-1zM6 16h1v1h-1zM14 16h1v1h-1zM31 16h1v1h-1zM43 16h1v1h-1zM5 17h1v1h-1zM15 17h2v1h-2zM18 17h2v1h-2zM25 17h1v1h-1zM34 17h1v1h-1zM48 17h1v1h-1zM2 18h1v1h-1zM4 18h1v1h-1zM6 18h1v1h-1zM22 18h1v1h-1zM39 18h1v1h-1zM51 18h1v1h-1zM58 18h1v1h-1zM2 19h1v1h-1zM18 19h1v1h-1zM22 19h1v1h-1zM47 19h1v1h-1zM55 19h1v1h-1zM59 19h1v1h-1zM2 20h2v1h-2zM14 20h1v1h-1zM33 20h1v1h-1zM44 20h1v1h-1zM2 21h1v1h-1zM19 21h1v1h-1zM49 21h1v1h-1zM53 21h1v1h-1zM57 21h1v1h-1zM6 22h1v1h-1zM15 22h2v1h-2zM20 22h1v1h-1zM53 22h1v1h-1zM0 23h1v1h-1zM3 23h2v1h-2zM6 23h2v1h-2zM44 23h1v1h-1zM50 23h1v1h-1zM55 23h2v1h-2zM4 24h1v1h-1zM9 24h1v1h-1zM13 24h1v1h-1zM35 24h1v1h-1zM40 24h1v1h-1zM4 25h1v1h-1zM15 25h1v1h-1zM25 25h1v1h-1zM38 25h1v1h-1zM47 25h1v1h-1zM51 25h1v1h-1zM14 26h2v1h-2zM26 26h1v1h-1zM57 26h1v1h-1zM21 27h1v1h-1zM23 27h1v1h-1zM44 27h2v1h-2zM54 27h1v1h-1zM4 28h1v1h-1zM32 28h2v1h-2zM37 28h1v1h-1zM41 28h1v1h-1zM49 28h1v1h-1zM59 28h1v1h-1zM0 29h1v1h-1zM9 29h2v1h-2zM18 29h2v1h-2zM27 29h1v1h-1zM32 29h1v1h-1zM51 29h1v1h-1zM5 30h1v1h-1zM9 30h1v1h-1zM0 31h1v1h-1zM16 31h1v1h-1zM37 31h1v1h-1zM16 32h1v1h-1zM44 32h1v1h-1zM49 32h1v1h-1zM53 32h1v1h-1zM0 33h1v1h-1zM2 33h1v1h-1zM5 33h1v1h-1zM15 33h1v1h-1zM19 33h1v1h-1zM33 33h1v1h-1zM37 33h1v1h-1zM40 33h1v1h-1zM47 33h1v1h-1zM0 34h2v1h-2zM4 34h1v1h-1zM6 34h1v1h-1zM20 34h2v1h-2zM57 35h1v1h-1zM3 36h1v1h-1zM7 36h1v1h-1zM21 36h1v1h-1zM38 36h1v1h-1zM22 37h1v1h-1zM33 37h1v1h-1zM37 37h1v1h-1zM44 37h1v1h-1zM19 38h1v1h-1zM22 38h1v1h-1zM5 39h1v1h-1zM10 39h1v1h-1zM12 39h1v1h-1zM19 39h1v1h-1zM22 39h1v1h-1zM30 39h1v1h-1zM57 39h1v1h-1zM2 40h1v1h-1zM4 40h4v1h-4zM11 40h1v1h-1zM22 40h1v1h-1zM32 40h1v1h-1zM40 40h1v1h-1zM7 41h2v1h-2zM16 41h1v1h-1zM45 41h1v1h-1zM53 41h1v1h-1zM20 42h1v1h-1zM29 42h1v1h-1zM33 42h1v1h-1zM35 42h1v1h-1zM45 42h1v1h-1zM49 42h1v1h-1zM2 43h1v1h-1zM4 43h1v1h-1zM9 43h1v1h-1zM18 43h1v1h-1zM23 43h1v1h-1zM33 43h1v1h-1zM49 43h1v1h-1zM51 43h1v1h-1zM54 43h1v1h-1zM2 44h1v1h-1zM14 44h1v1h-1zM16 44h1v1h-1zM49 44h1v1h-1zM58 44h1v1h-1zM9 45h1v1h-1zM43 45h1v1h-1zM48 45h1v1h-1zM59 45h1v1h-1zM2 46h1v1h-1zM4 46h3v1h-3zM9 46h1v1h-1zM25 46h1v1h-1zM43 46h1v1h-1zM52 46h1v1h-1zM59 46h1v1h-1zM4 47h1v1h-1zM7 47h1v1h-1zM14 47h1v1h-1zM18 47h1v1h-1zM35 47h2v1h-2zM47 47h1v1h-1zM50 47h1v1h-1zM58 47h1v1h-1zM5 48h1v1h-1zM11 48h1v1h-1zM13 48h1v1h-1zM23 48h2v1h-2zM32 48h1v1h-1zM35 48h1v1h-1zM40 48h1v1h-1zM45 48h1v1h-1zM4 49h1v1h-1zM43 49h1v1h-1zM48 49h1v1h-1zM53 49h1v1h-1zM3 50h2v1h-2zM14 50h1v1h-1zM33 50h1v1h-1zM53 50h1v1h-1zM11 51h1v1h-1zM17 51h1v1h-1zM21 51h1v1h-1zM25 51h1v1h-1zM32 51h1v1h-1zM43 51h1v1h-1zM51 51h1v1h-1zM53 51h1v1h-1zM8 52h1v1h-1zM21 52h1v1h-1zM33 52h1v1h-1zM47 52h1v1h-1zM2 53h1v1h-1zM4 53h1v1h-1zM9 53h1v1h-1zM17 53h1v1h-1zM24 53h1v1h-1zM58 53h1v1h-1zM13 54h1v1h-1zM15 54h1v1h-1zM38 54h1v1h-1zM4 55h1v1h-1zM10 55h1v1h-1zM15 55h1v1h-1zM32 55h1v1h-1zM50 55h1v1h-1zM8 56h1v1h-1zM11 56h1v1h-1zM19 56h2v1h-2zM38 56h1v1h-1zM56 56h1v1h-1zM6 57h1v1h-1zM13 57h1v1h-1zM15 57h1v1h-1zM18 57h1v1h-1zM42 57h1v1h-1zM51 57h1v1h-1zM10 58h1v1h-1zM13 58h1v1h-1zM22 58h1v1h-1zM33 58h2v1h-2zM38 58h1v1h-1zM8 59h1v1h-1zM32 59h1v1h-1zM36 59h1v1h-1zM42 59h1v1h-1zM54 59h1v1h-1zM17 60h1v1h-1zM23 60h2v1h-2zM38 60h1v1h-1zM55 60h1v1h-1zM5 61h1v1h-1zM7 61h1v1h-1zM33 61h1v1h-1zM16 62h6v1h-6zM37 62h1v1h-1zM42 62h1v1h-1zM58 62h2v1h-2zM3 63h1v1h-1zM9 63h1v1h-1zM17 63h1v1h-1zM20 63h1v1h-1zM38 63h1v1h-1zM8 64h1v1h-1zM16 64h1v1h-1zM19 64h1v1h-1zM0 65h1v1h-1zM2 65h2v1h-2zM35 65h1v1h-1zM37 65h1v1h-1zM2 66h1v1h-1zM4 66h1v1h-1zM18 66h1v1h-1zM34 66h1v1h-1zM41 66h1v1h-1zM2 67h1v1h-1zM8 67h1v1h-1zM25 67h2v1h-2zM43 67h2v1h-2zM55 67h1v1h-1zM4 68h1v1h-1zM17 68h2v1h-2zM21 68h1v1h-1zM33 68h1v1h-1zM35 68h1v1h-1zM41 68h1v1h-1zM43 68h1v1h-1zM48 68h1v1h-1zM56 68h1v1h-1zM0 69h1v1h-1zM7 69h1v1h-1zM22 69h1v1h-1zM32 69h1v1h-1zM55 69h1v1h-1zM11 70h1v1h-1zM14 70h1v1h-1zM31 70h1v1h-1zM36 70h1v1h-1zM42 70h1v1h-1zM48 70h1v1h-1zM4 71h1v1h-1zM10 71h1v1h-1zM28 71h1v1h-1zM52 71h1v1h-1zM11 72h1v1h-1zM14 72h2v1h-2zM17 72h1v1h-1zM19 72h1v1h-1zM52 72h1v1h-1zM17 73h1v1h-1zM21 73h1v1h-1zM25 73h1v1h-1zM31 73h2v1h-2zM37 73h1v1h-1zM2 74h1v1h-1zM13 74h1v1h-1zM27 74h1v1h-1zM31 74h1v1h-1zM46 74h1v1h-1zM49 74h1v1h-1zM51 74h1v1h-1zM3 75h1v1h-1zM8 75h1v1h-1zM12 75h1v1h-1zM20 75h1v1h-1zM22 75h1v1h-1zM29 75h1v1h-1zM33 75h1v1h-1zM19 76h2v1h-2zM22 76h1v1h-1zM27 76h1v1h-1zM35 76h1v1h-1zM52 76h1v1h-1zM0 77h1v1h-1zM31 77h1v1h-1zM34 77h1v1h-1zM58 77h1v1h-1zM7 78h1v1h-1zM10 78h1v1h-1z"/><path fill="#e4f0d8" d="M21 0h1v1h-1zM17 2h1v1h-1zM9 5h1v1h-1zM21 8h1v1h-1zM44 9h1v1h-1zM54 10h1v1h-1zM1 11h1v1h-1zM59 12h1v1h-1zM12 14h1v1h-1zM46 17h1v1h-1zM39 20h1v1h-1zM16 21h1v1h-1zM24 21h1v1h-1zM54 21h1v1h-1zM5 22h1v1h-1zM13 23h1v1h-1zM43 23h1v1h-1zM21 25h1v1h-1zM25 30h1v1h-1zM11 37h1v1h-1zM10 40h1v1h-1zM20 47h1v1h-1zM46 47h1v1h-1zM22 48h1v1h-1zM25 49h1v1h-1zM24 51h1v1h-1zM14 52h1v1h-1zM4 58h1v1h-1zM51 58h1v1h-1zM6 63h1v1h-1zM23 65h1v1h-1zM8 68h1v1h-1zM16 69h1v1h-1zM1 70h1v1h-1zM16 73h1v1h-1zM5 75h1v1h-1zM15 75h1v1h-1zM43 77h1v1h-1z"/><path fill="#9ccce4" d="M27 0h2v1h-2zM33 0h1v1h-1zM39 0h1v1h-1zM44 0h1v1h-1zM47 0h1v1h-1zM3 1h1v1h-1zM11 1h1v1h-1zM45 1h2v1h-2zM14 2h1v1h-1zM20 2h1v1h-1zM34 2h1v1h-1zM43 2h1v1h-1zM53 2h2v1h-2zM56 2h2v1h-2zM1 3h1v1h-1zM9 3h2v1h-2zM15 3h1v1h-1zM6 4h1v1h-1zM21 4h2v1h-2zM31 4h1v1h-1zM33 4h1v1h-1zM35 4h1v1h-1zM43 4h3v1h-3zM49 4h1v1h-1zM56 4h1v1h-1zM23 5h1v1h-1zM8 6h1v1h-1zM10 6h1v1h-1zM18 6h1v1h-1zM27 6h1v1h-1zM29 6h1v1h-1zM47 6h1v1h-1zM58 6h1v1h-1zM8 7h1v1h-1zM14 7h1v1h-1zM17 7h1v1h-1zM25 7h1v1h-1zM33 7h1v1h-1zM35 7h1v1h-1zM41 7h1v1h-1zM20 8h1v1h-1zM32 8h1v1h-1zM14 9h1v1h-1zM36 9h1v1h-1zM38 9h1v1h-1zM56 9h2v1h-2zM37 10h2v1h-2zM46 10h1v1h-1zM56 10h1v1h-1zM38 11h1v1h-1zM48 11h1v1h-1zM6 12h2v1h-2zM11 12h1v1h-1zM14 12h1v1h-1zM33 12h2v1h-2zM41 12h1v1h-1zM0 13h1v1h-1zM11 13h1v1h-1zM26 13h2v1h-2zM59 13h1v1h-1zM1 14h1v1h-1zM6 14h2v1h-2zM28 14h1v1h-1zM59 14h1v1h-1zM10 15h1v1h-1zM55 15h2v1h-2zM12 16h1v1h-1zM41 16h1v1h-1zM45 16h1v1h-1zM47 16h1v1h-1zM56 16h1v1h-1zM20 17h1v1h-1zM37 17h1v1h-1zM41 17h1v1h-1zM43 17h1v1h-1zM50 17h1v1h-1zM3 18h1v1h-1zM45 18h3v1h-3zM49 18h1v1h-1zM3 19h2v1h-2zM15 19h1v1h-1zM17 19h1v1h-1zM19 19h1v1h-1zM38 19h1v1h-1zM1 20h1v1h-1zM9 20h1v1h-1zM17 20h1v1h-1zM35 20h1v1h-1zM51 20h1v1h-1zM55 20h1v1h-1zM5 21h1v1h-1zM10 21h1v1h-1zM1 22h1v1h-1zM21 22h2v1h-2zM35 22h1v1h-1zM47 22h1v1h-1zM2 23h1v1h-1zM36 23h1v1h-1zM6 24h1v1h-1zM12 24h1v1h-1zM15 24h1v1h-1zM21 24h1v1h-1zM0 25h1v1h-1zM10 25h1v1h-1zM16 25h1v1h-1zM31 25h1v1h-1zM4 26h1v1h-1zM24 26h1v1h-1zM47 26h1v1h-1zM49 26h1v1h-1zM51 26h1v1h-1zM58 26h1v1h-1zM7 27h1v1h-1zM58 27h1v1h-1zM36 28h1v1h-1zM57 28h1v1h-1zM6 29h1v1h-1zM42 29h1v1h-1zM46 29h3v1h-3zM57 29h1v1h-1zM59 29h1v1h-1zM1 30h1v1h-1zM8 30h1v1h-1zM34 30h1v1h-1zM41 30h1v1h-1zM51 30h1v1h-1zM55 30h1v1h-1zM5 31h1v1h-1zM42 31h1v1h-1zM55 31h1v1h-1zM15 32h1v1h-1zM48 32h1v1h-1zM57 32h1v1h-1zM59 32h1v1h-1zM13 33h1v1h-1zM43 33h1v1h-1zM46 33h1v1h-1zM57 33h1v1h-1zM11 34h1v1h-1zM44 34h1v1h-1zM46 34h1v1h-1zM53 34h1v1h-1zM8 35h1v1h-1zM18 35h2v1h-2zM24 35h2v1h-2zM35 35h2v1h-2zM51 35h1v1h-1zM5 36h2v1h-2zM17 36h1v1h-1zM32 36h1v1h-1zM41 36h1v1h-1zM44 36h1v1h-1zM53 36h1v1h-1zM56 36h1v1h-1zM9 37h1v1h-1zM14 37h1v1h-1zM42 37h1v1h-1zM47 37h1v1h-1zM2 38h1v1h-1zM4 38h3v1h-3zM32 38h1v1h-1zM34 38h1v1h-1zM36 38h1v1h-1zM4 39h1v1h-1zM6 39h1v1h-1zM34 39h1v1h-1zM49 39h1v1h-1zM52 39h2v1h-2zM58 39h1v1h-1zM20 40h1v1h-1zM37 40h3v1h-3zM44 40h1v1h-1zM56 40h1v1h-1zM0 41h1v1h-1zM9 41h1v1h-1zM12 41h1v1h-1zM35 41h1v1h-1zM56 41h1v1h-1zM5 42h1v1h-1zM42 42h1v1h-1zM52 42h1v1h-1zM55 42h1v1h-1zM58 42h1v1h-1zM22 43h1v1h-1zM46 43h1v1h-1zM5 44h1v1h-1zM57 44h1v1h-1zM59 44h1v1h-1zM1 45h1v1h-1zM3 45h1v1h-1zM5 45h1v1h-1zM17 45h1v1h-1zM37 45h1v1h-1zM46 45h1v1h-1zM19 46h1v1h-1zM29 46h1v1h-1zM37 46h1v1h-1zM50 46h2v1h-2zM3 47h1v1h-1zM13 47h1v1h-1zM15 47h1v1h-1zM37 47h1v1h-1zM42 47h1v1h-1zM52 47h1v1h-1zM7 48h1v1h-1zM36 48h1v1h-1zM38 48h1v1h-1zM41 48h1v1h-1zM53 48h1v1h-1zM55 48h1v1h-1zM5 49h1v1h-1zM18 49h1v1h-1zM38 49h1v1h-1zM42 49h1v1h-1zM59 49h1v1h-1zM10 50h2v1h-2zM36 50h1v1h-1zM58 50h1v1h-1zM14 51h1v1h-1zM42 51h1v1h-1zM50 51h1v1h-1zM4 52h1v1h-1zM42 52h1v1h-1zM0 53h1v1h-1zM18 53h1v1h-1zM20 53h2v1h-2zM42 53h1v1h-1zM1 54h1v1h-1zM3 54h1v1h-1zM11 54h1v1h-1zM21 54h1v1h-1zM34 54h1v1h-1zM51 54h1v1h-1zM59 54h1v1h-1zM3 55h1v1h-1zM17 55h1v1h-1zM23 55h1v1h-1zM34 55h1v1h-1zM38 55h1v1h-1zM40 55h1v1h-1zM45 55h1v1h-1zM48 55h1v1h-1zM24 56h1v1h-1zM3 57h1v1h-1zM20 57h1v1h-1zM37 57h1v1h-1zM55 57h1v1h-1zM55 58h1v1h-1zM7 59h1v1h-1zM10 59h1v1h-1zM20 59h1v1h-1zM25 59h1v1h-1zM58 59h1v1h-1zM5 60h2v1h-2zM14 60h1v1h-1zM20 60h1v1h-1zM22 60h1v1h-1zM25 60h1v1h-1zM34 60h1v1h-1zM58 60h1v1h-1zM17 61h1v1h-1zM32 61h1v1h-1zM59 61h1v1h-1zM4 62h1v1h-1zM8 62h1v1h-1zM11 62h1v1h-1zM14 62h1v1h-1zM24 62h1v1h-1zM38 62h1v1h-1zM51 62h1v1h-1zM54 62h1v1h-1zM10 63h1v1h-1zM13 63h1v1h-1zM22 63h2v1h-2zM23 64h1v1h-1zM49 64h1v1h-1zM58 64h1v1h-1zM9 65h1v1h-1zM16 65h1v1h-1zM32 65h1v1h-1zM34 65h1v1h-1zM43 65h1v1h-1zM56 65h1v1h-1zM56 66h1v1h-1zM46 67h1v1h-1zM49 67h1v1h-1zM12 68h2v1h-2zM16 68h1v1h-1zM5 69h1v1h-1zM8 69h1v1h-1zM13 69h1v1h-1zM18 69h1v1h-1zM43 69h1v1h-1zM46 69h1v1h-1zM59 69h1v1h-1zM44 70h1v1h-1zM13 71h1v1h-1zM26 71h1v1h-1zM48 71h1v1h-1zM50 71h1v1h-1zM3 72h1v1h-1zM5 72h1v1h-1zM23 72h1v1h-1zM54 72h1v1h-1zM57 72h1v1h-1zM1 73h1v1h-1zM5 73h1v1h-1zM15 73h1v1h-1zM19 73h1v1h-1zM27 73h2v1h-2zM33 73h1v1h-1zM38 73h1v1h-1zM6 74h1v1h-1zM9 74h1v1h-1zM29 74h1v1h-1zM32 74h1v1h-1zM35 74h1v1h-1zM52 74h1v1h-1zM55 74h1v1h-1zM0 75h1v1h-1zM14 75h1v1h-1zM19 75h1v1h-1zM30 75h1v1h-1zM44 75h1v1h-1zM12 76h1v1h-1zM23 76h2v1h-2zM38 76h1v1h-1zM44 76h1v1h-1zM49 76h1v1h-1zM53 76h1v1h-1zM57 76h1v1h-1zM59 76h1v1h-1zM4 77h1v1h-1zM30 77h1v1h-1zM4 78h1v1h-1zM27 78h1v1h-1zM30 78h2v1h-2zM55 78h1v1h-1zM59 78h1v1h-1z"/><path fill="#6ca8cc" d="M30 0h1v1h-1zM36 5h1v1h-1zM6 17h1v1h-1zM28 19h1v1h-1zM40 19h1v1h-1zM31 24h1v1h-1zM29 37h1v1h-1zM26 40h2v1h-2zM37 44h1v1h-1zM26 52h1v1h-1zM33 53h1v1h-1zM35 60h1v1h-1zM22 68h1v1h-1zM42 68h1v1h-1zM39 77h1v1h-1z"/><path fill="#78b4cc" d="M31 0h1v1h-1zM51 1h1v1h-1zM30 2h1v1h-1zM20 3h1v1h-1zM56 3h1v1h-1zM11 4h1v1h-1zM59 4h1v1h-1zM39 7h2v1h-2zM25 8h1v1h-1zM30 12h1v1h-1zM19 14h1v1h-1zM46 14h1v1h-1zM12 15h1v1h-1zM36 15h1v1h-1zM35 16h1v1h-1zM49 16h1v1h-1zM58 17h1v1h-1zM7 21h1v1h-1zM30 21h1v1h-1zM47 21h1v1h-1zM51 23h1v1h-1zM54 23h1v1h-1zM45 24h1v1h-1zM37 25h1v1h-1zM27 26h1v1h-1zM54 26h1v1h-1zM38 28h1v1h-1zM37 30h1v1h-1zM29 31h1v1h-1zM40 32h1v1h-1zM55 32h1v1h-1zM28 33h1v1h-1zM42 35h1v1h-1zM13 38h1v1h-1zM30 38h1v1h-1zM43 38h1v1h-1zM24 39h1v1h-1zM29 41h1v1h-1zM19 42h1v1h-1zM35 45h1v1h-1zM41 47h1v1h-1zM39 52h1v1h-1zM45 52h1v1h-1zM53 52h1v1h-1zM24 54h1v1h-1zM51 56h1v1h-1zM8 57h1v1h-1zM26 59h1v1h-1zM35 66h1v1h-1zM54 66h1v1h-1zM25 68h1v1h-1zM26 69h2v1h-2zM27 71h1v1h-1zM9 72h1v1h-1zM58 74h1v1h-1zM53 75h1v1h-1zM41 76h1v1h-1z"/><path fill="#f0e4b4" d="M32 0h1v1h-1zM13 3h1v1h-1zM26 3h1v1h-1zM30 9h1v1h-1zM49 10h1v1h-1zM9 12h1v1h-1zM11 29h1v1h-1zM20 30h1v1h-1zM24 31h1v1h-1zM21 33h1v1h-1zM52 36h1v1h-1zM15 41h1v1h-1zM10 43h1v1h-1zM12 43h1v1h-1zM42 48h1v1h-1zM2 49h1v1h-1zM18 52h1v1h-1zM19 58h1v1h-1zM57 58h1v1h-1zM13 59h1v1h-1zM15 59h1v1h-1zM11 60h1v1h-1zM43 64h1v1h-1zM33 66h1v1h-1zM30 69h1v1h-1z"/><path fill="#cce4f0" d="M34 0h1v1h-1zM12 1h1v1h-1zM29 1h1v1h-1zM52 1h1v1h-1zM3 2h1v1h-1zM8 2h1v1h-1zM12 2h1v1h-1zM14 3h1v1h-1zM8 4h1v1h-1zM14 5h1v1h-1zM3 6h1v1h-1zM16 6h1v1h-1zM16 7h1v1h-1zM19 7h1v1h-1zM23 7h1v1h-1zM10 8h1v1h-1zM24 9h1v1h-1zM32 9h1v1h-1zM4 10h1v1h-1zM16 10h1v1h-1zM42 10h1v1h-1zM9 11h1v1h-1zM57 12h1v1h-1zM10 13h1v1h-1zM44 13h1v1h-1zM48 13h1v1h-1zM5 14h1v1h-1zM17 14h1v1h-1zM19 15h1v1h-1zM5 16h1v1h-1zM14 19h1v1h-1zM13 20h1v1h-1zM22 20h1v1h-1zM1 21h1v1h-1zM37 21h1v1h-1zM9 22h1v1h-1zM12 22h1v1h-1zM18 22h1v1h-1zM20 23h1v1h-1zM35 25h2v1h-2zM41 25h1v1h-1zM57 25h1v1h-1zM3 26h1v1h-1zM25 27h1v1h-1zM36 27h1v1h-1zM6 28h1v1h-1zM25 28h1v1h-1zM31 28h1v1h-1zM25 29h1v1h-1zM36 29h1v1h-1zM43 29h1v1h-1zM7 33h1v1h-1zM29 33h1v1h-1zM56 33h1v1h-1zM16 34h3v1h-3zM36 34h1v1h-1zM9 36h1v1h-1zM14 36h1v1h-1zM51 36h1v1h-1zM7 37h1v1h-1zM19 37h1v1h-1zM21 37h1v1h-1zM51 37h1v1h-1zM55 37h1v1h-1zM59 37h1v1h-1zM42 38h1v1h-1zM23 39h1v1h-1zM47 41h2v1h-2zM59 41h1v1h-1zM24 42h1v1h-1zM57 42h1v1h-1zM58 43h1v1h-1zM14 45h1v1h-1zM22 45h1v1h-1zM24 45h1v1h-1zM38 45h1v1h-1zM21 46h1v1h-1zM40 46h1v1h-1zM19 47h1v1h-1zM30 47h1v1h-1zM34 47h1v1h-1zM4 48h1v1h-1zM10 48h1v1h-1zM18 48h1v1h-1zM58 48h1v1h-1zM6 49h1v1h-1zM8 49h2v1h-2zM21 49h1v1h-1zM24 50h1v1h-1zM54 50h1v1h-1zM7 52h1v1h-1zM51 52h1v1h-1zM32 53h1v1h-1zM35 53h1v1h-1zM40 53h1v1h-1zM45 53h1v1h-1zM49 53h1v1h-1zM54 54h1v1h-1zM11 55h1v1h-1zM16 55h1v1h-1zM18 55h1v1h-1zM1 56h1v1h-1zM5 56h1v1h-1zM7 58h1v1h-1zM0 59h1v1h-1zM16 59h1v1h-1zM19 59h1v1h-1zM37 60h1v1h-1zM34 61h1v1h-1zM46 61h1v1h-1zM2 62h1v1h-1zM9 62h1v1h-1zM25 63h1v1h-1zM55 63h1v1h-1zM2 64h1v1h-1zM5 64h1v1h-1zM13 64h1v1h-1zM59 64h1v1h-1zM21 65h2v1h-2zM45 65h1v1h-1zM11 66h1v1h-1zM40 66h1v1h-1zM58 67h1v1h-1zM7 68h1v1h-1zM46 68h1v1h-1zM28 69h1v1h-1zM35 69h1v1h-1zM0 70h1v1h-1zM22 70h1v1h-1zM38 70h1v1h-1zM5 71h1v1h-1zM29 71h1v1h-1zM8 74h1v1h-1zM11 74h1v1h-1zM9 75h1v1h-1zM39 75h1v1h-1zM45 75h1v1h-1zM16 76h1v1h-1zM21 76h1v1h-1zM43 76h1v1h-1zM7 77h1v1h-1zM17 77h1v1h-1zM23 77h1v1h-1zM56 78h1v1h-1z"/><path fill="#d8f0f0" d="M41 0h1v1h-1zM18 3h1v1h-1zM13 4h1v1h-1zM17 4h2v1h-2zM3 5h1v1h-1zM12 5h1v1h-1zM19 5h1v1h-1zM35 5h1v1h-1zM12 6h1v1h-1zM21 6h1v1h-1zM10 7h1v1h-1zM0 8h1v1h-1zM5 8h1v1h-1zM8 8h1v1h-1zM16 9h1v1h-1zM39 9h1v1h-1zM47 10h1v1h-1zM2 11h1v1h-1zM15 11h1v1h-1zM25 11h1v1h-1zM21 13h1v1h-1zM33 13h1v1h-1zM48 14h1v1h-1zM42 16h1v1h-1zM52 17h1v1h-1zM25 18h1v1h-1zM20 19h1v1h-1zM43 19h1v1h-1zM38 20h1v1h-1zM42 20h1v1h-1zM17 21h1v1h-1zM20 21h1v1h-1zM56 21h1v1h-1zM11 22h1v1h-1zM18 23h2v1h-2zM8 24h1v1h-1zM24 24h1v1h-1zM28 24h1v1h-1zM23 25h1v1h-1zM1 26h1v1h-1zM5 26h1v1h-1zM4 27h1v1h-1zM52 27h1v1h-1zM10 28h1v1h-1zM19 28h1v1h-1zM44 28h1v1h-1zM55 28h1v1h-1zM24 29h1v1h-1zM41 29h1v1h-1zM4 33h1v1h-1zM25 34h1v1h-1zM21 35h1v1h-1zM16 38h1v1h-1zM37 38h1v1h-1zM59 38h1v1h-1zM9 40h1v1h-1zM24 40h1v1h-1zM34 40h1v1h-1zM5 41h1v1h-1zM17 42h1v1h-1zM43 42h1v1h-1zM21 43h1v1h-1zM29 43h1v1h-1zM15 44h1v1h-1zM51 44h1v1h-1zM33 45h1v1h-1zM6 48h1v1h-1zM43 48h1v1h-1zM10 49h1v1h-1zM40 49h1v1h-1zM55 49h1v1h-1zM3 51h1v1h-1zM41 54h1v1h-1zM45 54h1v1h-1zM25 55h1v1h-1zM52 55h1v1h-1zM25 56h1v1h-1zM37 56h1v1h-1zM25 57h1v1h-1zM6 58h1v1h-1zM21 58h1v1h-1zM6 59h1v1h-1zM18 60h1v1h-1zM40 61h1v1h-1zM53 62h1v1h-1zM42 63h1v1h-1zM7 64h1v1h-1zM20 64h1v1h-1zM42 65h1v1h-1zM50 66h1v1h-1zM57 66h1v1h-1zM21 67h1v1h-1zM59 67h1v1h-1zM1 69h1v1h-1zM6 69h1v1h-1zM45 69h1v1h-1zM19 70h1v1h-1zM20 71h1v1h-1zM0 72h1v1h-1zM18 73h1v1h-1zM23 73h1v1h-1zM0 74h1v1h-1zM1 75h1v1h-1zM2 76h1v1h-1zM12 77h1v1h-1zM15 77h1v1h-1zM19 77h2v1h-2zM28 77h1v1h-1zM2 78h1v1h-1zM5 78h1v1h-1zM21 78h1v1h-1zM29 78h1v1h-1zM58 78h1v1h-1z"/><path fill="#78a8cc" d="M52 0h1v1h-1zM56 0h1v1h-1zM31 1h1v1h-1zM43 1h1v1h-1zM48 1h1v1h-1zM53 1h1v1h-1zM57 1h1v1h-1zM29 2h1v1h-1zM31 2h1v1h-1zM35 2h1v1h-1zM39 2h1v1h-1zM3 3h1v1h-1zM29 3h1v1h-1zM36 3h2v1h-2zM45 3h1v1h-1zM55 3h1v1h-1zM15 4h1v1h-1zM24 4h1v1h-1zM29 4h1v1h-1zM54 4h1v1h-1zM27 5h1v1h-1zM48 5h1v1h-1zM38 6h1v1h-1zM52 6h1v1h-1zM20 7h1v1h-1zM56 7h1v1h-1zM23 8h1v1h-1zM26 8h1v1h-1zM18 9h1v1h-1zM50 9h1v1h-1zM55 9h1v1h-1zM24 10h1v1h-1zM36 10h1v1h-1zM43 10h1v1h-1zM50 10h1v1h-1zM24 11h1v1h-1zM32 11h1v1h-1zM35 11h1v1h-1zM52 11h1v1h-1zM16 12h2v1h-2zM26 12h1v1h-1zM31 12h1v1h-1zM36 12h1v1h-1zM34 13h1v1h-1zM45 13h1v1h-1zM52 13h1v1h-1zM18 14h1v1h-1zM26 14h1v1h-1zM29 14h1v1h-1zM22 15h1v1h-1zM51 15h1v1h-1zM24 16h1v1h-1zM30 16h1v1h-1zM39 16h1v1h-1zM27 17h1v1h-1zM29 18h1v1h-1zM31 18h3v1h-3zM44 18h1v1h-1zM27 19h1v1h-1zM31 19h1v1h-1zM49 19h1v1h-1zM32 20h1v1h-1zM54 20h1v1h-1zM3 21h1v1h-1zM27 21h1v1h-1zM13 22h1v1h-1zM27 22h1v1h-1zM30 22h1v1h-1zM52 22h1v1h-1zM5 23h1v1h-1zM31 23h1v1h-1zM53 23h1v1h-1zM27 24h1v1h-1zM29 24h1v1h-1zM34 24h1v1h-1zM57 24h1v1h-1zM32 25h1v1h-1zM44 25h2v1h-2zM55 25h1v1h-1zM6 26h1v1h-1zM25 26h1v1h-1zM10 27h1v1h-1zM47 27h1v1h-1zM49 27h1v1h-1zM51 27h1v1h-1zM15 28h1v1h-1zM27 28h1v1h-1zM34 28h1v1h-1zM26 29h1v1h-1zM30 29h1v1h-1zM50 29h1v1h-1zM24 30h1v1h-1zM28 30h1v1h-1zM31 30h1v1h-1zM43 30h1v1h-1zM47 30h2v1h-2zM58 30h1v1h-1zM6 31h1v1h-1zM19 31h1v1h-1zM28 31h1v1h-1zM32 31h1v1h-1zM34 31h1v1h-1zM2 32h1v1h-1zM18 32h1v1h-1zM27 32h1v1h-1zM38 32h1v1h-1zM42 32h1v1h-1zM31 33h1v1h-1zM39 33h1v1h-1zM7 34h1v1h-1zM29 34h2v1h-2zM1 35h1v1h-1zM29 35h1v1h-1zM33 35h1v1h-1zM13 36h1v1h-1zM24 36h1v1h-1zM27 36h1v1h-1zM34 36h1v1h-1zM36 36h1v1h-1zM31 37h1v1h-1zM28 38h2v1h-2zM31 38h1v1h-1zM33 38h1v1h-1zM54 38h1v1h-1zM28 39h2v1h-2zM18 40h1v1h-1zM29 40h1v1h-1zM31 40h1v1h-1zM35 40h1v1h-1zM36 41h1v1h-1zM40 41h1v1h-1zM2 42h1v1h-1zM38 42h1v1h-1zM0 43h1v1h-1zM6 43h1v1h-1zM19 43h1v1h-1zM28 43h1v1h-1zM30 43h1v1h-1zM1 44h1v1h-1zM9 44h1v1h-1zM13 44h1v1h-1zM33 44h1v1h-1zM18 45h1v1h-1zM27 45h1v1h-1zM29 45h1v1h-1zM54 45h1v1h-1zM26 46h1v1h-1zM28 46h1v1h-1zM46 46h1v1h-1zM54 46h1v1h-1zM28 47h1v1h-1zM39 47h1v1h-1zM51 47h1v1h-1zM29 48h1v1h-1zM50 48h1v1h-1zM26 49h1v1h-1zM58 49h1v1h-1zM16 50h1v1h-1zM26 50h1v1h-1zM29 50h2v1h-2zM43 50h2v1h-2zM57 50h1v1h-1zM9 51h1v1h-1zM29 51h2v1h-2zM46 51h1v1h-1zM1 52h1v1h-1zM24 52h1v1h-1zM29 52h2v1h-2zM36 52h2v1h-2zM43 52h1v1h-1zM49 52h1v1h-1zM55 52h1v1h-1zM10 53h1v1h-1zM37 53h1v1h-1zM59 53h1v1h-1zM33 54h1v1h-1zM40 54h1v1h-1zM50 54h1v1h-1zM53 54h1v1h-1zM57 54h1v1h-1zM28 55h1v1h-1zM51 55h1v1h-1zM56 55h1v1h-1zM18 56h1v1h-1zM58 56h1v1h-1zM10 57h1v1h-1zM21 57h1v1h-1zM36 57h1v1h-1zM16 58h1v1h-1zM23 58h1v1h-1zM26 58h1v1h-1zM31 58h1v1h-1zM29 59h2v1h-2zM3 60h1v1h-1zM29 60h2v1h-2zM26 61h1v1h-1zM54 61h1v1h-1zM30 62h1v1h-1zM40 62h1v1h-1zM47 62h1v1h-1zM17 64h1v1h-1zM24 64h1v1h-1zM31 64h1v1h-1zM57 64h1v1h-1zM24 65h1v1h-1zM26 65h1v1h-1zM29 65h1v1h-1zM41 65h1v1h-1zM44 65h1v1h-1zM47 65h1v1h-1zM50 65h1v1h-1zM55 65h1v1h-1zM28 66h1v1h-1zM34 67h1v1h-1zM36 67h1v1h-1zM54 67h1v1h-1zM1 68h2v1h-2zM24 68h1v1h-1zM27 68h2v1h-2zM44 68h1v1h-1zM59 68h1v1h-1zM17 69h1v1h-1zM44 69h1v1h-1zM51 69h1v1h-1zM58 69h1v1h-1zM15 70h1v1h-1zM41 70h1v1h-1zM49 70h1v1h-1zM18 71h1v1h-1zM49 71h1v1h-1zM36 72h1v1h-1zM59 72h1v1h-1zM4 73h1v1h-1zM7 73h1v1h-1zM39 73h1v1h-1zM43 73h1v1h-1zM47 73h1v1h-1zM37 74h1v1h-1zM47 74h1v1h-1zM10 76h1v1h-1zM55 76h1v1h-1zM5 77h1v1h-1zM6 78h1v1h-1zM28 78h1v1h-1zM34 78h1v1h-1zM42 78h1v1h-1z"/><path fill="#f8b070" d="M0 1h1v1h-1zM23 18h1v1h-1zM55 26h1v1h-1zM8 58h1v1h-1z"/><path fill="#6090c0" d="M26 1h1v1h-1zM27 3h1v1h-1zM30 3h2v1h-2zM30 6h1v1h-1zM29 10h1v1h-1zM51 10h1v1h-1zM28 12h1v1h-1zM31 13h1v1h-1zM30 15h1v1h-1zM28 23h1v1h-1zM31 34h1v1h-1zM26 35h1v1h-1zM27 37h1v1h-1zM31 39h1v1h-1zM54 42h1v1h-1zM26 43h1v1h-1zM31 43h1v1h-1zM30 45h1v1h-1zM30 46h2v1h-2zM27 47h1v1h-1zM31 47h1v1h-1zM31 52h1v1h-1zM27 53h1v1h-1zM31 54h1v1h-1zM29 55h1v1h-1zM33 55h1v1h-1zM30 56h2v1h-2zM26 57h1v1h-1zM30 58h1v1h-1zM27 59h1v1h-1zM28 60h1v1h-1zM28 61h1v1h-1zM28 62h1v1h-1zM26 63h1v1h-1zM30 63h1v1h-1zM27 65h1v1h-1zM31 65h1v1h-1zM40 65h1v1h-1zM58 65h1v1h-1zM29 66h2v1h-2zM37 67h1v1h-1z"/><path fill="#9cc0d8" d="M38 1h1v1h-1zM25 2h1v1h-1zM42 2h1v1h-1zM41 3h1v1h-1zM43 3h1v1h-1zM14 4h1v1h-1zM10 5h1v1h-1zM38 5h1v1h-1zM49 5h1v1h-1zM50 6h1v1h-1zM45 8h1v1h-1zM50 8h2v1h-2zM0 9h1v1h-1zM22 9h1v1h-1zM29 9h1v1h-1zM8 10h1v1h-1zM28 10h1v1h-1zM44 10h1v1h-1zM0 11h1v1h-1zM7 11h1v1h-1zM12 11h1v1h-1zM50 11h1v1h-1zM55 11h1v1h-1zM19 12h1v1h-1zM51 12h1v1h-1zM19 13h1v1h-1zM35 14h1v1h-1zM41 14h1v1h-1zM3 15h1v1h-1zM54 15h1v1h-1zM57 16h1v1h-1zM28 17h1v1h-1zM39 17h1v1h-1zM55 17h1v1h-1zM57 17h1v1h-1zM12 18h1v1h-1zM17 18h1v1h-1zM19 18h1v1h-1zM48 18h1v1h-1zM56 19h1v1h-1zM46 20h1v1h-1zM52 21h1v1h-1zM44 22h1v1h-1zM55 22h1v1h-1zM10 23h1v1h-1zM23 23h1v1h-1zM50 24h1v1h-1zM5 25h3v1h-3zM42 25h1v1h-1zM16 27h1v1h-1zM18 27h1v1h-1zM50 27h1v1h-1zM53 27h1v1h-1zM56 27h1v1h-1zM8 28h1v1h-1zM35 28h1v1h-1zM53 28h1v1h-1zM5 29h1v1h-1zM15 30h1v1h-1zM21 30h1v1h-1zM42 30h1v1h-1zM50 30h1v1h-1zM17 31h1v1h-1zM45 31h1v1h-1zM53 31h1v1h-1zM3 32h1v1h-1zM56 32h1v1h-1zM36 33h1v1h-1zM51 34h1v1h-1zM14 35h1v1h-1zM16 35h1v1h-1zM45 38h1v1h-1zM14 39h1v1h-1zM39 39h1v1h-1zM51 39h1v1h-1zM16 40h1v1h-1zM57 40h1v1h-1zM42 41h1v1h-1zM53 42h1v1h-1zM8 43h1v1h-1zM38 43h1v1h-1zM52 43h1v1h-1zM59 43h1v1h-1zM10 44h1v1h-1zM55 44h2v1h-2zM0 45h1v1h-1zM23 45h1v1h-1zM55 45h1v1h-1zM48 46h1v1h-1zM0 49h1v1h-1zM7 49h1v1h-1zM5 50h1v1h-1zM1 51h1v1h-1zM4 51h1v1h-1zM36 51h1v1h-1zM41 51h1v1h-1zM23 52h1v1h-1zM50 52h1v1h-1zM47 53h1v1h-1zM53 53h1v1h-1zM14 54h1v1h-1zM18 54h1v1h-1zM41 55h1v1h-1zM23 56h1v1h-1zM11 57h1v1h-1zM34 57h1v1h-1zM52 57h1v1h-1zM29 58h1v1h-1zM32 58h1v1h-1zM46 58h1v1h-1zM53 58h1v1h-1zM33 59h1v1h-1zM55 59h1v1h-1zM0 60h1v1h-1zM12 60h1v1h-1zM13 61h1v1h-1zM37 61h1v1h-1zM52 61h1v1h-1zM22 62h2v1h-2zM37 63h1v1h-1zM46 63h1v1h-1zM48 63h1v1h-1zM14 64h1v1h-1zM55 64h1v1h-1zM1 65h1v1h-1zM1 66h1v1h-1zM17 66h1v1h-1zM46 66h1v1h-1zM3 68h1v1h-1zM30 68h1v1h-1zM2 70h1v1h-1zM10 70h1v1h-1zM45 70h1v1h-1zM6 71h1v1h-1zM17 71h1v1h-1zM24 71h1v1h-1zM31 71h1v1h-1zM39 71h1v1h-1zM54 71h1v1h-1zM58 71h1v1h-1zM22 72h1v1h-1zM28 72h1v1h-1zM43 72h1v1h-1zM56 72h1v1h-1zM58 72h1v1h-1zM35 73h1v1h-1zM57 74h1v1h-1zM6 75h1v1h-1zM28 75h1v1h-1zM35 75h1v1h-1zM59 75h1v1h-1zM14 76h1v1h-1zM17 76h1v1h-1zM46 76h1v1h-1zM32 77h1v1h-1zM41 77h2v1h-2zM38 78h1v1h-1zM44 78h1v1h-1zM46 78h1v1h-1z"/><path fill="#e4f0f0" d="M23 2h1v1h-1zM21 5h1v1h-1z"/><path fill="#84c0d8" d="M28 2h1v1h-1zM16 8h1v1h-1zM13 12h1v1h-1zM28 20h1v1h-1zM13 21h1v1h-1zM13 30h1v1h-1zM52 33h1v1h-1zM41 34h1v1h-1zM54 40h1v1h-1zM7 43h1v1h-1zM41 44h1v1h-1zM23 47h1v1h-1zM19 49h1v1h-1zM44 59h1v1h-1zM51 64h1v1h-1zM52 66h1v1h-1zM20 70h1v1h-1zM18 75h1v1h-1zM32 78h1v1h-1z"/><path fill="#6c9ccc" d="M50 2h1v1h-1zM8 3h1v1h-1zM34 3h1v1h-1zM24 5h1v1h-1zM29 5h2v1h-2zM26 6h1v1h-1zM28 7h2v1h-2zM28 8h1v1h-1zM46 8h1v1h-1zM27 9h1v1h-1zM40 9h1v1h-1zM25 10h1v1h-1zM30 10h1v1h-1zM57 11h1v1h-1zM46 12h1v1h-1zM30 13h1v1h-1zM30 14h1v1h-1zM2 15h1v1h-1zM24 15h1v1h-1zM27 15h1v1h-1zM59 18h1v1h-1zM29 19h1v1h-1zM44 19h1v1h-1zM28 22h1v1h-1zM30 23h1v1h-1zM34 23h1v1h-1zM46 23h1v1h-1zM26 24h1v1h-1zM16 26h1v1h-1zM28 26h1v1h-1zM30 26h1v1h-1zM26 27h1v1h-1zM29 28h1v1h-1zM52 28h1v1h-1zM29 29h1v1h-1zM52 29h1v1h-1zM35 30h1v1h-1zM53 30h1v1h-1zM28 32h2v1h-2zM26 33h1v1h-1zM55 33h1v1h-1zM27 34h2v1h-2zM28 36h1v1h-1zM30 36h2v1h-2zM12 37h1v1h-1zM52 38h1v1h-1zM27 39h1v1h-1zM37 41h1v1h-1zM39 41h1v1h-1zM41 41h1v1h-1zM55 41h1v1h-1zM25 42h2v1h-2zM31 42h1v1h-1zM48 42h1v1h-1zM27 46h1v1h-1zM26 47h1v1h-1zM32 47h1v1h-1zM26 48h1v1h-1zM30 48h1v1h-1zM33 48h1v1h-1zM27 49h2v1h-2zM30 49h1v1h-1zM31 50h1v1h-1zM34 50h1v1h-1zM46 50h1v1h-1zM28 52h1v1h-1zM26 53h1v1h-1zM25 54h1v1h-1zM55 55h1v1h-1zM26 56h2v1h-2zM49 56h1v1h-1zM5 57h1v1h-1zM28 57h1v1h-1zM3 58h1v1h-1zM28 59h1v1h-1zM31 59h1v1h-1zM38 59h1v1h-1zM27 61h1v1h-1zM29 61h1v1h-1zM31 61h1v1h-1zM26 62h1v1h-1zM45 62h1v1h-1zM26 64h1v1h-1zM29 64h1v1h-1zM28 65h1v1h-1zM30 65h1v1h-1zM26 66h1v1h-1zM42 67h1v1h-1zM45 72h1v1h-1zM18 77h1v1h-1zM47 78h1v1h-1z"/><path fill="#6c9cc0" d="M53 3h1v1h-1zM28 11h1v1h-1zM31 15h1v1h-1zM31 17h1v1h-1zM17 40h1v1h-1zM51 40h1v1h-1zM45 45h1v1h-1zM28 48h1v1h-1zM31 51h1v1h-1zM28 54h2v1h-2zM27 58h1v1h-1zM30 61h1v1h-1zM31 62h1v1h-1zM28 63h1v1h-1zM27 66h1v1h-1z"/><path fill="#e4f0e4" d="M37 4h1v1h-1zM53 6h1v1h-1zM55 7h1v1h-1zM2 10h1v1h-1zM9 14h1v1h-1zM58 14h1v1h-1zM23 16h1v1h-1zM4 17h1v1h-1zM23 17h1v1h-1zM15 21h1v1h-1zM50 21h1v1h-1zM25 22h1v1h-1zM27 25h1v1h-1zM15 27h1v1h-1zM23 28h1v1h-1zM14 29h1v1h-1zM45 29h1v1h-1zM17 30h1v1h-1zM12 31h1v1h-1zM21 31h1v1h-1zM1 33h1v1h-1zM23 34h1v1h-1zM10 36h1v1h-1zM10 37h1v1h-1zM24 38h1v1h-1zM44 38h1v1h-1zM46 38h1v1h-1zM55 38h1v1h-1zM25 43h1v1h-1zM42 44h1v1h-1zM3 46h1v1h-1zM15 46h1v1h-1zM25 47h1v1h-1zM43 47h1v1h-1zM36 53h1v1h-1zM17 54h1v1h-1zM42 54h1v1h-1zM22 55h1v1h-1zM24 55h1v1h-1zM4 56h1v1h-1zM53 56h1v1h-1zM19 57h1v1h-1zM1 58h1v1h-1zM25 58h1v1h-1zM3 59h1v1h-1zM12 63h1v1h-1zM12 66h1v1h-1zM5 68h1v1h-1zM51 68h1v1h-1zM7 71h1v1h-1zM9 71h1v1h-1zM54 74h1v1h-1zM23 75h1v1h-1z"/><path fill="#f0f0b4" d="M48 4h1v1h-1zM2 5h1v1h-1zM20 16h1v1h-1zM43 26h1v1h-1zM23 38h1v1h-1zM57 41h1v1h-1zM57 56h1v1h-1z"/><path fill="#f0f0cc" d="M14 6h1v1h-1zM5 7h1v1h-1zM7 7h1v1h-1zM15 7h1v1h-1zM55 10h1v1h-1zM46 13h1v1h-1zM33 16h1v1h-1zM17 17h1v1h-1zM8 18h1v1h-1zM27 18h1v1h-1zM23 21h1v1h-1zM23 30h1v1h-1zM14 31h1v1h-1zM23 31h1v1h-1zM8 33h1v1h-1zM14 41h1v1h-1zM43 41h1v1h-1zM40 45h1v1h-1zM52 49h1v1h-1zM1 50h1v1h-1zM5 53h1v1h-1zM20 54h1v1h-1zM49 55h1v1h-1zM35 56h1v1h-1zM45 58h1v1h-1zM38 61h1v1h-1zM0 62h1v1h-1zM13 73h1v1h-1zM0 78h1v1h-1z"/><path fill="#f0e4a8" d="M36 7h1v1h-1zM40 10h1v1h-1zM0 17h1v1h-1zM15 18h1v1h-1zM24 23h1v1h-1zM10 26h1v1h-1zM23 29h1v1h-1zM13 40h1v1h-1zM6 44h1v1h-1zM3 56h1v1h-1zM14 59h1v1h-1zM18 65h1v1h-1zM20 66h1v1h-1zM14 71h1v1h-1z"/><path fill="#d8e4f0" d="M22 10h1v1h-1zM57 10h1v1h-1zM41 11h1v1h-1zM53 11h1v1h-1zM37 18h1v1h-1zM7 19h1v1h-1zM24 27h1v1h-1zM13 72h1v1h-1zM9 73h1v1h-1z"/><path fill="#fcc084" d="M23 10h1v1h-1z"/><path fill="#f8a060" d="M24 13h1v1h-1z"/><path fill="#fbc080" d="M24 20h1v1h-1z"/><path fill="#fcd89c" d="M0 21h1v1h-1zM8 44h1v1h-1zM9 69h1v1h-1z"/><path fill="#f6a868" d="M24 22h1v1h-1z"/><path fill="#f0f0d8" d="M5 32h1v1h-1zM49 36h1v1h-1zM16 53h1v1h-1zM57 62h1v1h-1zM10 67h1v1h-1z"/><path fill="#e8402c" d="M25 32h1v1h-1z"/><path fill="#f07a45" d="M25 33h1v1h-1z"/><path fill="#609cc0" d="M30 33h1v1h-1zM41 67h1v1h-1z"/><path fill="#5484c0" d="M30 41h1v1h-1zM29 47h1v1h-1zM27 48h1v1h-1zM28 56h1v1h-1zM29 57h1v1h-1zM29 62h1v1h-1z"/><path fill="#5490c0" d="M31 44h1v1h-1zM27 52h1v1h-1zM29 63h1v1h-1zM30 64h1v1h-1z"/><path fill="#5484b4" d="M27 50h1v1h-1zM26 55h1v1h-1zM31 57h1v1h-1zM28 58h1v1h-1zM26 60h1v1h-1zM27 63h1v1h-1zM31 66h1v1h-1z"/><path fill="#4878b4" d="M28 51h1v1h-1z"/></g><path d="M249.10 51.2V238.6M252.20 51.2V238.6M255.30 51.2V238.6M258.40 51.2V238.6M261.51 51.2V238.6M264.61 51.2V238.6M267.71 51.2V238.6M270.81 51.2V238.6M273.91 51.2V238.6M277.01 51.2V238.6M280.12 51.2V238.6M283.22 51.2V238.6M286.32 51.2V238.6M289.42 51.2V238.6M292.52 51.2V238.6M295.62 51.2V238.6M298.73 51.2V238.6M301.83 51.2V238.6M304.93 51.2V238.6M308.03 51.2V238.6M311.13 51.2V238.6M314.24 51.2V238.6M317.34 51.2V238.6M320.44 51.2V238.6M323.54 51.2V238.6M326.64 51.2V238.6M329.74 51.2V238.6M332.85 51.2V238.6M335.95 51.2V238.6M339.05 51.2V238.6M342.15 51.2V238.6M345.25 51.2V238.6M348.35 51.2V238.6M351.45 51.2V238.6M354.56 51.2V238.6M357.66 51.2V238.6M360.76 51.2V238.6M363.86 51.2V238.6M366.96 51.2V238.6M370.06 51.2V238.6M373.17 51.2V238.6M376.27 51.2V238.6M379.37 51.2V238.6M382.47 51.2V238.6M385.57 51.2V238.6M388.67 51.2V238.6M391.78 51.2V238.6M394.88 51.2V238.6M397.98 51.2V238.6M401.08 51.2V238.6M404.18 51.2V238.6M407.28 51.2V238.6M410.39 51.2V238.6M413.49 51.2V238.6M416.59 51.2V238.6M419.69 51.2V238.6M422.79 51.2V238.6M425.89 51.2V238.6M429.00 51.2V238.6M432.10 51.2V238.6M435.20 51.2V238.6M249.1 54.40H435.2M249.1 56.73H435.2M249.1 59.06H435.2M249.1 61.39H435.2M249.1 63.73H435.2M249.1 66.06H435.2M249.1 68.39H435.2M249.1 70.72H435.2M249.1 73.05H435.2M249.1 75.38H435.2M249.1 77.72H435.2M249.1 80.05H435.2M249.1 82.38H435.2M249.1 84.71H435.2M249.1 87.04H435.2M249.1 89.37H435.2M249.1 91.71H435.2M249.1 94.04H435.2M249.1 96.37H435.2M249.1 98.70H435.2M249.1 101.03H435.2M249.1 103.36H435.2M249.1 105.70H435.2M249.1 108.03H435.2M249.1 110.36H435.2M249.1 112.69H435.2M249.1 115.02H435.2M249.1 117.35H435.2M249.1 119.69H435.2M249.1 122.02H435.2M249.1 124.35H435.2M249.1 126.68H435.2M249.1 129.01H435.2M249.1 131.34H435.2M249.1 133.68H435.2M249.1 136.01H435.2M249.1 138.34H435.2M249.1 140.67H435.2M249.1 143.00H435.2M249.1 145.33H435.2M249.1 147.67H435.2M249.1 150.00H435.2M249.1 152.33H435.2M249.1 154.66H435.2M249.1 156.99H435.2M249.1 159.32H435.2M249.1 161.66H435.2M249.1 163.99H435.2M249.1 166.32H435.2M249.1 168.65H435.2M249.1 170.98H435.2M249.1 173.31H435.2M249.1 175.65H435.2M249.1 177.98H435.2M249.1 180.31H435.2M249.1 182.64H435.2M249.1 184.97H435.2M249.1 187.30H435.2M249.1 189.64H435.2M249.1 191.97H435.2M249.1 194.30H435.2M249.1 196.63H435.2M249.1 198.96H435.2M249.1 201.29H435.2M249.1 203.63H435.2M249.1 205.96H435.2M249.1 208.29H435.2M249.1 210.62H435.2M249.1 212.95H435.2M249.1 215.28H435.2M249.1 217.62H435.2M249.1 219.95H435.2M249.1 222.28H435.2M249.1 224.61H435.2M249.1 226.94H435.2M249.1 229.27H435.2M249.1 231.61H435.2M249.1 233.94H435.2M249.1 236.27H435.2M249.1 238.60H435.2M249.1 51.2H435.2" stroke="#9c9ca6" stroke-width="0.8" fill="none"/><path d="M41.0 51.1V47.4H44.0V51.1M42.5 47.4V46.4H47.1V51.1M44.8 46.4V45.9H50.1V51.1M53.1 51.1V46.8H56.1V51.1M47.4 45.9V45.2H54.6V46.8M59.2 51.1V47.3H62.2V51.1M60.7 47.3V46.1H65.2V51.1M68.2 51.1V47.4H71.3V51.1M74.3 51.1V46.9H77.3V51.1M69.8 47.4V46.0H75.8V46.9M62.9 46.1V45.2H72.8V46.0M51.0 45.2V44.8H67.9V45.2M83.4 51.1V46.7H86.4V51.1M80.3 51.1V46.1H84.9V46.7M89.4 51.1V47.4H92.4V51.1M90.9 47.4V46.6H95.5V51.1M93.2 46.6V46.1H98.5V51.1M82.6 46.1V45.7H95.8V46.1M89.2 45.7V45.2H101.5V51.1M95.4 45.2V44.8H104.5V51.1M107.6 51.1V47.0H110.6V51.1M119.7 51.1V47.6H122.7V51.1M121.2 47.6V47.1H125.7V51.1M116.6 51.1V46.7H123.4V47.1M120.0 46.7V46.2H128.7V51.1M113.6 51.1V45.8H124.4V46.2M109.1 47.0V45.3H119.0V45.8M114.0 45.3V44.8H131.8V51.1M100.0 44.8V44.3H122.9V44.8M59.4 44.8V42.9H111.4V44.3M134.8 51.1V46.9H137.8V51.1M136.3 46.9V41.6H140.8V51.1M85.4 42.9V39.9H138.6V41.6M149.9 51.1V47.5H152.9V51.1M146.9 51.1V46.2H151.4V47.5M143.9 51.1V42.5H149.2V46.2M159.0 51.1V47.2H162.0V51.1M156.0 51.1V45.9H160.5V47.2M165.0 51.1V47.5H168.1V51.1M166.6 47.5V46.4H171.1V51.1M174.1 51.1V46.9H177.1V51.1M168.8 46.4V45.9H175.6V46.9M158.2 45.9V45.4H172.2V45.9M189.2 51.1V47.5H192.3V51.1M186.2 51.1V46.8H190.8V47.5M188.5 46.8V46.4H195.3V51.1M191.9 46.4V45.6H198.3V51.1M183.2 51.1V45.2H195.1V45.6M180.2 51.1V44.7H189.1V45.2M201.3 51.1V47.1H204.4V51.1M202.8 47.1V46.6H207.4V51.1M205.1 46.6V46.2H210.4V51.1M213.4 51.1V46.8H216.5V51.1M214.9 46.8V46.3H219.5V51.1M207.8 46.2V45.5H217.2V46.3M184.7 44.7V42.0H212.5V45.5M165.2 45.4V40.6H198.6V42.0M146.5 42.5V39.5H181.9V40.6M112.0 39.9V35.1H164.2V39.5" stroke="#111" stroke-width="0.95" fill="none"/><path d="M250.7 51.2V47.2H253.8V51.2M256.9 51.2V47.3H260.0V51.2M252.2 47.2V45.0H258.4V47.3M272.4 51.2V47.8H275.5V51.2M269.3 51.2V47.4H273.9V47.8M278.6 51.2V47.4H281.7V51.2M271.6 47.4V46.9H280.1V47.4M275.9 46.9V46.5H284.8V51.2M266.2 51.2V46.0H280.3V46.5M263.1 51.2V45.6H273.2V46.0M287.9 51.2V47.0H291.0V51.2M289.4 47.0V46.5H294.1V51.2M300.3 51.2V46.9H303.4V51.2M297.2 51.2V46.4H301.8V46.9M291.7 46.5V45.8H299.5V46.4M295.6 45.8V45.4H306.5V51.2M309.6 51.2V46.9H312.7V51.2M311.1 46.9V46.5H315.8V51.2M313.5 46.5V46.0H318.9V51.2M301.1 45.4V43.9H316.2V46.0M268.1 45.6V43.0H308.6V43.9M255.3 45.0V41.2H288.4V43.0M322.0 51.2V39.0H325.1V51.2M271.8 41.2V38.6H323.5V39.0M334.4 51.2V47.5H337.5V51.2M331.3 51.2V46.5H335.9V47.5M333.6 46.5V46.0H340.6V51.2M328.2 51.2V45.6H337.1V46.0M346.8 51.2V47.1H349.9V51.2M343.7 51.2V46.3H348.4V47.1M353.0 51.2V47.3H356.1V51.2M346.0 46.3V45.2H354.6V47.3M332.7 45.6V43.2H350.3V45.2M362.3 51.2V47.1H365.4V51.2M359.2 51.2V46.6H363.9V47.1M361.5 46.6V46.2H368.5V51.2M374.7 51.2V47.1H377.8V51.2M371.6 51.2V46.1H376.3V47.1M384.0 51.2V47.5H387.1V51.2M385.6 47.5V47.0H390.2V51.2M380.9 51.2V46.6H387.9V47.0M373.9 46.1V45.2H384.4V46.6M365.0 46.2V44.6H379.2V45.2M408.8 51.2V47.8H411.9V51.2M405.7 51.2V47.3H410.4V47.8M402.6 51.2V46.9H408.1V47.3M415.0 51.2V47.0H418.1V51.2M405.3 46.9V46.4H416.6V47.0M399.5 51.2V46.0H411.0V46.4M405.2 46.0V45.5H421.2V51.2M413.2 45.5V45.1H424.3V51.2M396.4 51.2V44.6H418.8V45.1M393.3 51.2V44.2H407.6V44.6M372.1 44.6V42.2H400.5V44.2M430.5 51.2V47.3H433.6V51.2M427.4 51.2V44.0H432.1V47.3M386.3 42.2V40.7H429.8V44.0M341.5 43.2V39.7H408.0V40.7M297.7 38.6V35.4H374.8V39.7" stroke="#111" stroke-width="0.95" fill="none"/><g fill="#333" stroke="#333" stroke-width="0.18"><text transform="translate(41.76,236.7) rotate(90) scale(1,.85)" font-size="3.0" stroke-width="0.3">B00_0</text><text transform="translate(44.79,236.7) rotate(90) scale(1,.85)" font-size="3.0" stroke-width="0.3">B37_1</text><text transform="translate(47.81,236.7) rotate(90) scale(1,.85)" font-size="3.0" stroke-width="0.3">B74_2</text><text transform="translate(50.84,236.7) rotate(90) scale(1,.85)" font-size="3.0" stroke-width="0.3">B14_3</text><text transform="translate(53.86,236.7) rotate(90) scale(1,.85)" font-size="3.0" stroke-width="0.3">B51_4</text><text transform="translate(56.89,236.7) rotate(90) scale(1,.85)" font-size="3.0" stroke-width="0.3">B88_5</text><text transform="translate(59.91,236.7) rotate(90) scale(1,.85)" font-size="3.0" stroke-width="0.3">B28_6</text><text transform="translate(62.94,236.7) rotate(90) scale(1,.85)" font-size="3.0" stroke-width="0.3">B65_7</text><text transform="translate(65.96,236.7) rotate(90) scale(1,.85)" font-size="3.0" stroke-width="0.3">B05_8</text><text transform="translate(68.99,236.7) rotate(90) scale(1,.85)" font-size="3.0" stroke-width="0.3">B42_0</text><text transform="translate(72.01,236.7) rotate(90) scale(1,.85)" font-size="3.0" stroke-width="0.3">B79_1</text><text transform="translate(75.04,236.7) rotate(90) scale(1,.85)" font-size="3.0" stroke-width="0.3">B19_2</text><text transform="translate(78.06,236.7) rotate(90) scale(1,.85)" font-size="3.0" stroke-width="0.3">B56_3</text><text transform="translate(81.09,236.7) rotate(90) scale(1,.85)" font-size="3.0" stroke-width="0.3">B93_4</text><text transform="translate(84.11,236.7) rotate(90) scale(1,.85)" font-size="3.0" stroke-width="0.3">B33_5</text><text transform="translate(87.14,236.7) rotate(90) scale(1,.85)" font-size="3.0" stroke-width="0.3">B70_6</text><text transform="translate(90.16,236.7) rotate(90) scale(1,.85)" font-size="3.0" stroke-width="0.3">B10_7</text><text transform="translate(93.19,236.7) rotate(90) scale(1,.85)" font-size="3.0" stroke-width="0.3">B47_8</text><text transform="translate(96.21,236.7) rotate(90) scale(1,.85)" font-size="3.0" stroke-width="0.3">B84_0</text><text transform="translate(99.24,236.7) rotate(90) scale(1,.85)" font-size="3.0" stroke-width="0.3">B24_1</text><text transform="translate(102.26,236.7) rotate(90) scale(1,.85)" font-size="3.0" stroke-width="0.3">B61_2</text><text transform="translate(105.29,236.7) rotate(90) scale(1,.85)" font-size="3.0" stroke-width="0.3">B01_3</text><text transform="translate(108.31,236.7) rotate(90) scale(1,.85)" font-size="3.0" stroke-width="0.3">B38_4</text><text transform="translate(111.34,236.7) rotate(90) scale(1,.85)" font-size="3.0" stroke-width="0.3">B75_5</text><text transform="translate(114.36,236.7) rotate(90) scale(1,.85)" font-size="3.0" stroke-width="0.3">B15_6</text><text transform="translate(117.39,236.7) rotate(90) scale(1,.85)" font-size="3.0" stroke-width="0.3">B52_7</text><text transform="translate(120.41,236.7) rotate(90) scale(1,.85)" font-size="3.0" stroke-width="0.3">B89_8</text><text transform="translate(123.44,236.7) rotate(90) scale(1,.85)" font-size="3.0" stroke-width="0.3">B29_0</text><text transform="translate(126.46,236.7) rotate(90) scale(1,.85)" font-size="3.0" stroke-width="0.3">B66_1</text><text transform="translate(129.49,236.7) rotate(90) scale(1,.85)" font-size="3.0" stroke-width="0.3">B06_2</text><text transform="translate(132.51,236.7) rotate(90) scale(1,.85)" font-size="3.0" stroke-width="0.3">B43_3</text><text transform="translate(135.54,236.7) rotate(90) scale(1,.85)" font-size="3.0" stroke-width="0.3">B80_4</text><text transform="translate(138.56,236.7) rotate(90) scale(1,.85)" font-size="3.0" stroke-width="0.3">B20_5</text><text transform="translate(141.59,236.7) rotate(90) scale(1,.85)" font-size="3.0" stroke-width="0.3">B57_6</text><text transform="translate(144.61,236.7) rotate(90) scale(1,.85)" font-size="3.0" stroke-width="0.3">B94_7</text><text transform="translate(147.64,236.7) rotate(90) scale(1,.85)" font-size="3.0" stroke-width="0.3">B34_8</text><text transform="translate(150.66,236.7) rotate(90) scale(1,.85)" font-size="3.0" stroke-width="0.3">B71_0</text><text transform="translate(153.69,236.7) rotate(90) scale(1,.85)" font-size="3.0" stroke-width="0.3">B11_1</text><text transform="translate(156.71,236.7) rotate(90) scale(1,.85)" font-size="3.0" stroke-width="0.3">B48_2</text><text transform="translate(159.74,236.7) rotate(90) scale(1,.85)" font-size="3.0" stroke-width="0.3">B85_3</text><text transform="translate(162.76,236.7) rotate(90) scale(1,.85)" font-size="3.0" stroke-width="0.3">B25_4</text><text transform="translate(165.79,236.7) rotate(90) scale(1,.85)" font-size="3.0" stroke-width="0.3">B62_5</text><text transform="translate(168.81,236.7) rotate(90) scale(1,.85)" font-size="3.0" stroke-width="0.3">B02_6</text><text transform="translate(171.84,236.7) rotate(90) scale(1,.85)" font-size="3.0" stroke-width="0.3">B39_7</text><text transform="translate(174.86,236.7) rotate(90) scale(1,.85)" font-size="3.0" stroke-width="0.3">B76_8</text><text transform="translate(177.89,236.7) rotate(90) scale(1,.85)" font-size="3.0" stroke-width="0.3">B16_0</text><text transform="translate(180.91,236.7) rotate(90) scale(1,.85)" font-size="3.0" stroke-width="0.3">B53_1</text><text transform="translate(183.94,236.7) rotate(90) scale(1,.85)" font-size="3.0" stroke-width="0.3">B90_2</text><text transform="translate(186.96,236.7) rotate(90) scale(1,.85)" font-size="3.0" stroke-width="0.3">B30_3</text><text transform="translate(189.99,236.7) rotate(90) scale(1,.85)" font-size="3.0" stroke-width="0.3">B67_4</text><text transform="translate(193.01,236.7) rotate(90) scale(1,.85)" font-size="3.0" stroke-width="0.3">B07_5</text><text transform="translate(196.04,236.7) rotate(90) scale(1,.85)" font-size="3.0" stroke-width="0.3">B44_6</text><text transform="translate(199.06,236.7) rotate(90) scale(1,.85)" font-size="3.0" stroke-width="0.3">B81_7</text><text transform="translate(202.09,236.7) rotate(90) scale(1,.85)" font-size="3.0" stroke-width="0.3">B21_8</text><text transform="translate(205.11,236.7) rotate(90) scale(1,.85)" font-size="3.0" stroke-width="0.3">B58_0</text><text transform="translate(208.14,236.7) rotate(90) scale(1,.85)" font-size="3.0" stroke-width="0.3">B95_1</text><text transform="translate(211.16,236.7) rotate(90) scale(1,.85)" font-size="3.0" stroke-width="0.3">B35_2</text><text transform="translate(214.19,236.7) rotate(90) scale(1,.85)" font-size="3.0" stroke-width="0.3">B72_3</text><text transform="translate(217.21,236.7) rotate(90) scale(1,.85)" font-size="3.0" stroke-width="0.3">B12_4</text><text transform="translate(220.24,236.7) rotate(90) scale(1,.85)" font-size="3.0" stroke-width="0.3">B49_5</text><text transform="translate(251.40,240.3) rotate(90) scale(1,.85)" font-size="2.8" stroke-width="0.3">P000</text><text transform="translate(254.50,240.3) rotate(90) scale(1,.85)" font-size="2.8" stroke-width="0.3">P531</text><text transform="translate(257.60,240.3) rotate(90) scale(1,.85)" font-size="2.8" stroke-width="0.3">P172</text><text transform="translate(260.71,240.3) rotate(90) scale(1,.85)" font-size="2.8" stroke-width="0.3">P703</text><text transform="translate(263.81,240.3) rotate(90) scale(1,.85)" font-size="2.8" stroke-width="0.3">P344</text><text transform="translate(266.91,240.3) rotate(90) scale(1,.85)" font-size="2.8" stroke-width="0.3">P875</text><text transform="translate(270.01,240.3) rotate(90) scale(1,.85)" font-size="2.8" stroke-width="0.3">P516</text><text transform="translate(273.11,240.3) rotate(90) scale(1,.85)" font-size="2.8" stroke-width="0.3">P150</text><text transform="translate(276.21,240.3) rotate(90) scale(1,.85)" font-size="2.8" stroke-width="0.3">P681</text><text transform="translate(279.32,240.3) rotate(90) scale(1,.85)" font-size="2.8" stroke-width="0.3">P322</text><text transform="translate(282.42,240.3) rotate(90) scale(1,.85)" font-size="2.8" stroke-width="0.3">P853</text><text transform="translate(285.52,240.3) rotate(90) scale(1,.85)" font-size="2.8" stroke-width="0.3">P494</text><text transform="translate(288.62,240.3) rotate(90) scale(1,.85)" font-size="2.8" stroke-width="0.3">P135</text><text transform="translate(291.72,240.3) rotate(90) scale(1,.85)" font-size="2.8" stroke-width="0.3">P666</text><text transform="translate(294.82,240.3) rotate(90) scale(1,.85)" font-size="2.8" stroke-width="0.3">P300</text><text transform="translate(297.93,240.3) rotate(90) scale(1,.85)" font-size="2.8" stroke-width="0.3">P831</text><text transform="translate(301.03,240.3) rotate(90) scale(1,.85)" font-size="2.8" stroke-width="0.3">P472</text><text transform="translate(304.13,240.3) rotate(90) scale(1,.85)" font-size="2.8" stroke-width="0.3">P113</text><text transform="translate(307.23,240.3) rotate(90) scale(1,.85)" font-size="2.8" stroke-width="0.3">P644</text><text transform="translate(310.33,240.3) rotate(90) scale(1,.85)" font-size="2.8" stroke-width="0.3">P285</text><text transform="translate(313.43,240.3) rotate(90) scale(1,.85)" font-size="2.8" stroke-width="0.3">P816</text><text transform="translate(316.54,240.3) rotate(90) scale(1,.85)" font-size="2.8" stroke-width="0.3">P450</text><text transform="translate(319.64,240.3) rotate(90) scale(1,.85)" font-size="2.8" stroke-width="0.3">P091</text><text transform="translate(322.74,240.3) rotate(90) scale(1,.85)" font-size="2.8" stroke-width="0.3">P622</text><text transform="translate(325.84,240.3) rotate(90) scale(1,.85)" font-size="2.8" stroke-width="0.3">P263</text><text transform="translate(328.94,240.3) rotate(90) scale(1,.85)" font-size="2.8" stroke-width="0.3">P794</text><text transform="translate(332.04,240.3) rotate(90) scale(1,.85)" font-size="2.8" stroke-width="0.3">P435</text><text transform="translate(335.15,240.3) rotate(90) scale(1,.85)" font-size="2.8" stroke-width="0.3">P076</text><text transform="translate(338.25,240.3) rotate(90) scale(1,.85)" font-size="2.8" stroke-width="0.3">P600</text><text transform="translate(341.35,240.3) rotate(90) scale(1,.85)" font-size="2.8" stroke-width="0.3">P241</text><text transform="translate(344.45,240.3) rotate(90) scale(1,.85)" font-size="2.8" stroke-width="0.3">P772</text><text transform="translate(347.55,240.3) rotate(90) scale(1,.85)" font-size="2.8" stroke-width="0.3">P413</text><text transform="translate(350.65,240.3) rotate(90) scale(1,.85)" font-size="2.8" stroke-width="0.3">P054</text><text transform="translate(353.76,240.3) rotate(90) scale(1,.85)" font-size="2.8" stroke-width="0.3">P585</text><text transform="translate(356.86,240.3) rotate(90) scale(1,.85)" font-size="2.8" stroke-width="0.3">P226</text><text transform="translate(359.96,240.3) rotate(90) scale(1,.85)" font-size="2.8" stroke-width="0.3">P750</text><text transform="translate(363.06,240.3) rotate(90) scale(1,.85)" font-size="2.8" stroke-width="0.3">P391</text><text transform="translate(366.16,240.3) rotate(90) scale(1,.85)" font-size="2.8" stroke-width="0.3">P032</text><text transform="translate(369.26,240.3) rotate(90) scale(1,.85)" font-size="2.8" stroke-width="0.3">P563</text><text transform="translate(372.37,240.3) rotate(90) scale(1,.85)" font-size="2.8" stroke-width="0.3">P204</text><text transform="translate(375.47,240.3) rotate(90) scale(1,.85)" font-size="2.8" stroke-width="0.3">P735</text><text transform="translate(378.57,240.3) rotate(90) scale(1,.85)" font-size="2.8" stroke-width="0.3">P376</text><text transform="translate(381.67,240.3) rotate(90) scale(1,.85)" font-size="2.8" stroke-width="0.3">P010</text><text transform="translate(384.77,240.3) rotate(90) scale(1,.85)" font-size="2.8" stroke-width="0.3">P541</text><text transform="translate(387.87,240.3) rotate(90) scale(1,.85)" font-size="2.8" stroke-width="0.3">P182</text><text transform="translate(390.98,240.3) rotate(90) scale(1,.85)" font-size="2.8" stroke-width="0.3">P713</text><text transform="translate(394.08,240.3) rotate(90) scale(1,.85)" font-size="2.8" stroke-width="0.3">P354</text><text transform="translate(397.18,240.3) rotate(90) scale(1,.85)" font-size="2.8" stroke-width="0.3">P885</text><text transform="translate(400.28,240.3) rotate(90) scale(1,.85)" font-size="2.8" stroke-width="0.3">P526</text><text transform="translate(403.38,240.3) rotate(90) scale(1,.85)" font-size="2.8" stroke-width="0.3">P160</text><text transform="translate(406.48,240.3) rotate(90) scale(1,.85)" font-size="2.8" stroke-width="0.3">P691</text><text transform="translate(409.59,240.3) rotate(90) scale(1,.85)" font-size="2.8" stroke-width="0.3">P332</text><text transform="translate(412.69,240.3) rotate(90) scale(1,.85)" font-size="2.8" stroke-width="0.3">P863</text><text transform="translate(415.79,240.3) rotate(90) scale(1,.85)" font-size="2.8" stroke-width="0.3">P504</text><text transform="translate(418.89,240.3) rotate(90) scale(1,.85)" font-size="2.8" stroke-width="0.3">P145</text><text transform="translate(421.99,240.3) rotate(90) scale(1,.85)" font-size="2.8" stroke-width="0.3">P676</text><text transform="translate(425.09,240.3) rotate(90) scale(1,.85)" font-size="2.8" stroke-width="0.3">P310</text><text transform="translate(428.20,240.3) rotate(90) scale(1,.85)" font-size="2.8" stroke-width="0.3">P841</text><text transform="translate(431.30,240.3) rotate(90) scale(1,.85)" font-size="2.8" stroke-width="0.3">P482</text><text transform="translate(434.40,240.3) rotate(90) scale(1,.85)" font-size="2.8" stroke-width="0.3">P123</text></g><text x="448.10" y="62.00" font-size="9.0" text-anchor="start" fill="#101018" stroke="#101018" stroke-width="0.28" >group</text><rect x="447.7" y="64.90" width="12.2" height="12.1" fill="#78c83c"/><text x="463.20" y="73.80" font-size="9.1" text-anchor="start" fill="#101018" stroke="#101018" stroke-width="0.28" >BPH_MRI Neg</text><rect x="447.7" y="76.95" width="12.2" height="12.1" fill="#f98a84"/><text x="463.20" y="85.85" font-size="9.1" text-anchor="start" fill="#101018" stroke="#101018" stroke-width="0.28" >BPH_MRI Pos</text><rect x="447.7" y="89.00" width="12.2" height="12.1" fill="#1dc3cc"/><text x="463.20" y="97.90" font-size="9.1" text-anchor="start" fill="#101018" stroke="#101018" stroke-width="0.28" >BPH/PCa_MRI Neg</text><rect x="447.7" y="101.05" width="12.2" height="12.1" fill="#cc99d1"/><text x="463.20" y="109.95" font-size="9.1" text-anchor="start" fill="#101018" stroke="#101018" stroke-width="0.28" >BPH/PCa_MRI Pos</text><text x="451.20" y="136.60" font-size="9.0" text-anchor="start" fill="#101018" stroke="#101018" stroke-width="0.28" >group</text><defs><linearGradient id="cs" x1="0" y1="1" x2="0" y2="0"><stop offset="0.0000" stop-color="#2e6cae"/><stop offset="0.0549" stop-color="#3c7ab8"/><stop offset="0.1648" stop-color="#78b0d6"/><stop offset="0.2308" stop-color="#acd2e6"/><stop offset="0.2747" stop-color="#cce6ef"/><stop offset="0.3407" stop-color="#e8f4ee"/><stop offset="0.4066" stop-color="#f8f6c4"/><stop offset="0.4945" stop-color="#fde68e"/><stop offset="0.6044" stop-color="#fcc46c"/><stop offset="0.7143" stop-color="#f9a05a"/><stop offset="0.8242" stop-color="#f47a46"/><stop offset="0.9341" stop-color="#ec5034"/><stop offset="1.0000" stop-color="#e83a2a"/></linearGradient></defs><rect x="450.6" y="141.4" width="6.6" height="93.6" fill="url(#cs)"/><text x="462.00" y="150.90" font-size="9.0" text-anchor="start" fill="#101018" stroke="#101018" stroke-width="0.28" >6</text><text x="462.00" y="171.40" font-size="9.0" text-anchor="start" fill="#101018" stroke="#101018" stroke-width="0.28" >4</text><text x="462.00" y="191.90" font-size="9.0" text-anchor="start" fill="#101018" stroke="#101018" stroke-width="0.28" >2</text><text x="462.00" y="212.40" font-size="9.0" text-anchor="start" fill="#101018" stroke="#101018" stroke-width="0.28" >0</text><text x="459.80" y="232.90" font-size="9.0" text-anchor="start" fill="#101018" stroke="#101018" stroke-width="0.28" >−2</text><text x="110.50" y="277.90" font-size="9.9" text-anchor="start" fill="#101018" stroke="#101018" stroke-width="0.28" >BPH</text><text x="61.80" y="291.50" font-size="9.05" text-anchor="start" fill="#101018" stroke="#101018" stroke-width="0.28" >TF-co-expressed gene enrichment</text><path d="M63.1 299.6V404.7H221.6" stroke="#7a7a7a" stroke-width="0.9" fill="none"/><rect x="63.40" y="303.20" width="120.80" height="5.20" fill="#ff8c00"/><path d="M61.5 305.80H63.1" stroke="#7a7a7a" stroke-width="0.8"/><text x="58.40" y="307.00" font-size="9.1" text-anchor="end" fill="#101018" stroke="#101018" stroke-width="0.28" >SP140</text><rect x="63.40" y="313.90" width="118.50" height="5.20" fill="#ff8c00"/><path d="M61.5 316.50H63.1" stroke="#7a7a7a" stroke-width="0.8"/><text x="58.40" y="317.70" font-size="9.1" text-anchor="end" fill="#101018" stroke="#101018" stroke-width="0.28" >SP110</text><rect x="63.40" y="324.60" width="114.90" height="5.20" fill="#ff8c00"/><path d="M61.5 327.20H63.1" stroke="#7a7a7a" stroke-width="0.8"/><text x="58.40" y="328.40" font-size="9.1" text-anchor="end" fill="#101018" stroke="#101018" stroke-width="0.28" >IKZF3</text><rect x="63.40" y="335.30" width="109.60" height="5.20" fill="#ff8c00"/><path d="M61.5 337.90H63.1" stroke="#7a7a7a" stroke-width="0.8"/><text x="58.40" y="339.10" font-size="9.1" text-anchor="end" fill="#101018" stroke="#101018" stroke-width="0.28" >HLA-DRB3</text><rect x="63.40" y="346.00" width="108.60" height="5.20" fill="#ff8c00"/><path d="M61.5 348.60H63.1" stroke="#7a7a7a" stroke-width="0.8"/><text x="58.40" y="349.80" font-size="9.1" text-anchor="end" fill="#101018" stroke="#101018" stroke-width="0.28" >HLA-DQB1</text><rect x="63.40" y="356.70" width="105.70" height="5.20" fill="#ff8c00"/><path d="M61.5 359.30H63.1" stroke="#7a7a7a" stroke-width="0.8"/><text x="58.40" y="360.50" font-size="9.1" text-anchor="end" fill="#101018" stroke="#101018" stroke-width="0.28" >ZNF831</text><rect x="63.40" y="367.40" width="102.80" height="5.20" fill="#ff8c00"/><path d="M61.5 370.00H63.1" stroke="#7a7a7a" stroke-width="0.8"/><text x="58.40" y="371.20" font-size="9.1" text-anchor="end" fill="#101018" stroke="#101018" stroke-width="0.28" >IRF8</text><rect x="63.40" y="378.10" width="102.80" height="5.20" fill="#ff8c00"/><path d="M61.5 380.70H63.1" stroke="#7a7a7a" stroke-width="0.8"/><text x="58.40" y="381.90" font-size="9.1" text-anchor="end" fill="#101018" stroke="#101018" stroke-width="0.28" >PLEK</text><rect x="63.40" y="388.80" width="100.10" height="5.20" fill="#ff8c00"/><path d="M61.5 391.40H63.1" stroke="#7a7a7a" stroke-width="0.8"/><text x="58.40" y="392.60" font-size="9.1" text-anchor="end" fill="#101018" stroke="#101018" stroke-width="0.28" >IKZF1</text><rect x="63.40" y="399.50" width="99.50" height="5.20" fill="#ff8c00"/><path d="M61.5 402.10H63.1" stroke="#7a7a7a" stroke-width="0.8"/><text x="58.40" y="403.30" font-size="9.1" text-anchor="end" fill="#101018" stroke="#101018" stroke-width="0.28" >RUNX3</text><path d="M63.1 404.7V406.4" stroke="#7a7a7a" stroke-width="0.8"/><text x="63.10" y="415.40" font-size="8.9" text-anchor="middle" fill="#101018" stroke="#101018" stroke-width="0.28" >0</text><path d="M115.6 404.7V406.4" stroke="#7a7a7a" stroke-width="0.8"/><text x="115.60" y="415.40" font-size="8.9" text-anchor="middle" fill="#101018" stroke="#101018" stroke-width="0.28" >50</text><path d="M168.8 404.7V406.4" stroke="#7a7a7a" stroke-width="0.8"/><text x="168.80" y="415.40" font-size="8.9" text-anchor="middle" fill="#101018" stroke="#101018" stroke-width="0.28" >100</text><path d="M210.6 404.7V406.4" stroke="#7a7a7a" stroke-width="0.8"/><text x="210.60" y="415.40" font-size="8.9" text-anchor="middle" fill="#101018" stroke="#101018" stroke-width="0.28" >150</text><text x="135.00" y="427.70" font-size="9.1" text-anchor="middle" fill="#101018" stroke="#101018" stroke-width="0.28" >−log10 (adjusted p value)</text><text x="317.20" y="278.70" font-size="9.9" text-anchor="start" fill="#101018" stroke="#101018" stroke-width="0.28" >BPH/PCa</text><text x="293.20" y="291.50" font-size="9.05" text-anchor="start" fill="#101018" stroke="#101018" stroke-width="0.28" >TF-co-expressed gene enrichment</text><path d="M293.7 302.2V403.7H446.0" stroke="#7a7a7a" stroke-width="0.9" fill="none"/><rect x="294.00" y="306.80" width="119.50" height="5.20" fill="#b997cc"/><path d="M292.09999999999997 309.40H293.7" stroke="#7a7a7a" stroke-width="0.8"/><text x="288.20" y="310.60" font-size="9.1" text-anchor="end" fill="#101018" stroke="#101018" stroke-width="0.28" >NKX3-1</text><rect x="294.00" y="317.90" width="110.00" height="5.20" fill="#b997cc"/><path d="M292.09999999999997 320.50H293.7" stroke="#7a7a7a" stroke-width="0.8"/><text x="288.20" y="321.70" font-size="9.1" text-anchor="end" fill="#101018" stroke="#101018" stroke-width="0.28" >SIM2</text><rect x="294.00" y="329.40" width="82.90" height="5.20" fill="#b997cc"/><path d="M292.09999999999997 332.00H293.7" stroke="#7a7a7a" stroke-width="0.8"/><text x="288.20" y="333.20" font-size="9.1" text-anchor="end" fill="#101018" stroke="#101018" stroke-width="0.28" >FOXA1</text><rect x="294.00" y="340.90" width="82.90" height="5.20" fill="#b997cc"/><path d="M292.09999999999997 343.50H293.7" stroke="#7a7a7a" stroke-width="0.8"/><text x="288.20" y="344.70" font-size="9.1" text-anchor="end" fill="#101018" stroke="#101018" stroke-width="0.28" >HOXB13</text><rect x="294.00" y="352.40" width="80.20" height="5.20" fill="#b997cc"/><path d="M292.09999999999997 355.00H293.7" stroke="#7a7a7a" stroke-width="0.8"/><text x="288.20" y="356.20" font-size="9.1" text-anchor="end" fill="#101018" stroke="#101018" stroke-width="0.28" >SPDEF</text><rect x="294.00" y="363.80" width="80.20" height="5.20" fill="#b997cc"/><path d="M292.09999999999997 366.40H293.7" stroke="#7a7a7a" stroke-width="0.8"/><text x="288.20" y="367.60" font-size="9.1" text-anchor="end" fill="#101018" stroke="#101018" stroke-width="0.28" >AR</text><rect x="294.00" y="375.30" width="76.60" height="5.20" fill="#b997cc"/><path d="M292.09999999999997 377.90H293.7" stroke="#7a7a7a" stroke-width="0.8"/><text x="288.20" y="379.10" font-size="9.1" text-anchor="end" fill="#101018" stroke="#101018" stroke-width="0.28" >CREB3L4</text><rect x="294.00" y="386.80" width="73.70" height="5.20" fill="#b997cc"/><path d="M292.09999999999997 389.40H293.7" stroke="#7a7a7a" stroke-width="0.8"/><text x="288.20" y="390.60" font-size="9.1" text-anchor="end" fill="#101018" stroke="#101018" stroke-width="0.28" >HOXA13</text><rect x="294.00" y="398.30" width="70.80" height="5.20" fill="#b997cc"/><path d="M292.09999999999997 400.90H293.7" stroke="#7a7a7a" stroke-width="0.8"/><text x="288.20" y="402.10" font-size="9.1" text-anchor="end" fill="#101018" stroke="#101018" stroke-width="0.28" >ERG</text><path d="M293.4 403.7V405.4" stroke="#7a7a7a" stroke-width="0.8"/><text x="293.40" y="414.40" font-size="8.9" text-anchor="middle" fill="#101018" stroke="#101018" stroke-width="0.28" >0</text><path d="M324.8 403.7V405.4" stroke="#7a7a7a" stroke-width="0.8"/><text x="324.80" y="414.40" font-size="8.9" text-anchor="middle" fill="#101018" stroke="#101018" stroke-width="0.28" >10</text><path d="M355.3 403.7V405.4" stroke="#7a7a7a" stroke-width="0.8"/><text x="355.30" y="414.40" font-size="8.9" text-anchor="middle" fill="#101018" stroke="#101018" stroke-width="0.28" >20</text><path d="M385.4 403.7V405.4" stroke="#7a7a7a" stroke-width="0.8"/><text x="385.40" y="414.40" font-size="8.9" text-anchor="middle" fill="#101018" stroke="#101018" stroke-width="0.28" >30</text><path d="M415.1 403.7V405.4" stroke="#7a7a7a" stroke-width="0.8"/><text x="415.10" y="414.40" font-size="8.9" text-anchor="middle" fill="#101018" stroke="#101018" stroke-width="0.28" >40</text><path d="M445.8 403.7V405.4" stroke="#7a7a7a" stroke-width="0.8"/><text x="445.80" y="414.40" font-size="8.9" text-anchor="middle" fill="#101018" stroke="#101018" stroke-width="0.28" >50</text><text x="368.50" y="426.70" font-size="9.1" text-anchor="middle" fill="#101018" stroke="#101018" stroke-width="0.28" >−log10 (adjusted p value)</text><path d="M44.9 472.05V570.6H95.0" stroke="#666" stroke-width="1" fill="none"/><path d="M42.30 570.60H44.9" stroke="#666" stroke-width="0.9"/><text x="38.90" y="572.70" font-size="9.0" text-anchor="end" fill="#101018" stroke="#101018" stroke-width="0.28" >0.0</text><path d="M42.30 537.75H44.9" stroke="#666" stroke-width="0.9"/><text x="38.90" y="539.85" font-size="9.0" text-anchor="end" fill="#101018" stroke="#101018" stroke-width="0.28" >0.5</text><path d="M42.30 504.90H44.9" stroke="#666" stroke-width="0.9"/><text x="38.90" y="507.00" font-size="9.0" text-anchor="end" fill="#101018" stroke="#101018" stroke-width="0.28" >1.0</text><path d="M42.30 472.05H44.9" stroke="#666" stroke-width="0.9"/><text x="38.90" y="474.15" font-size="9.0" text-anchor="end" fill="#101018" stroke="#101018" stroke-width="0.28" >1.5</text><rect x="51.7" y="497.1" width="15.20" height="73.50" fill="#0a0aff"/><path d="M59.30 497.6V488.6M55.30 488.6H63.30" stroke="#0a0aff" stroke-width="1.6" fill="none"/><path d="M59.30 570.6V572.6" stroke="#666" stroke-width="0.9"/><rect x="72.9" y="522.3" width="15.10" height="48.30" fill="#ff0a0a"/><path d="M80.45 522.8V515.2M76.45 515.2H84.45" stroke="#ff0a0a" stroke-width="1.6" fill="none"/><path d="M80.45 570.6V572.6" stroke="#666" stroke-width="0.9"/><path d="M58.9 482.5V477.0H80.4V508.4" stroke="#606060" stroke-width="1.0" fill="none"/><text x="71.35" y="477.50" font-size="12" text-anchor="middle" fill="#101018" stroke="#101018" stroke-width="0.15" font-weight="bold" letter-spacing="1.7">*</text><text x="69.50" y="582.20" font-size="9.3" text-anchor="middle" fill="#101018" stroke="#101018" stroke-width="0.28" >BPH PCa</text><text transform="translate(17.90,521) rotate(-90)" font-size="8.9" font-style="italic" text-anchor="middle" fill="#101018" stroke="#101018" stroke-width="0.28">SP140</text><path d="M134.9 472.35V570.9H184.5" stroke="#666" stroke-width="1" fill="none"/><path d="M132.30 570.90H134.9" stroke="#666" stroke-width="0.9"/><text x="130.00" y="573.00" font-size="9.0" text-anchor="end" fill="#101018" stroke="#101018" stroke-width="0.28" >0.0</text><path d="M132.30 538.05H134.9" stroke="#666" stroke-width="0.9"/><text x="130.00" y="540.15" font-size="9.0" text-anchor="end" fill="#101018" stroke="#101018" stroke-width="0.28" >0.5</text><path d="M132.30 505.20H134.9" stroke="#666" stroke-width="0.9"/><text x="130.00" y="507.30" font-size="9.0" text-anchor="end" fill="#101018" stroke="#101018" stroke-width="0.28" >1.0</text><path d="M132.30 472.35H134.9" stroke="#666" stroke-width="0.9"/><text x="130.00" y="474.45" font-size="9.0" text-anchor="end" fill="#101018" stroke="#101018" stroke-width="0.28" >1.5</text><rect x="141.8" y="503.3" width="14.70" height="67.60" fill="#0a0aff"/><path d="M149.15 503.8V499.5M145.15 499.5H153.15" stroke="#0a0aff" stroke-width="1.6" fill="none"/><path d="M149.15 570.9V572.9" stroke="#666" stroke-width="0.9"/><rect x="162.8" y="532.4" width="15.00" height="38.50" fill="#ff0a0a"/><path d="M170.30 532.9V527.8M166.30 527.8H174.30" stroke="#ff0a0a" stroke-width="1.6" fill="none"/><path d="M170.30 570.9V572.9" stroke="#666" stroke-width="0.9"/><path d="M149.1 493.5V488.0H170.3V522.3" stroke="#606060" stroke-width="1.0" fill="none"/><text x="163.05" y="487.40" font-size="12" text-anchor="middle" fill="#101018" stroke="#101018" stroke-width="0.15" font-weight="bold" letter-spacing="1.7">****</text><text x="159.50" y="582.20" font-size="9.3" text-anchor="middle" fill="#101018" stroke="#101018" stroke-width="0.28" >BPH PCa</text><text transform="translate(112.10,521) rotate(-90)" font-size="8.9" font-style="italic" text-anchor="middle" fill="#101018" stroke="#101018" stroke-width="0.28">SP110</text><path d="M220.4 472.35V570.9H269.5" stroke="#666" stroke-width="1" fill="none"/><path d="M217.80 570.90H220.4" stroke="#666" stroke-width="0.9"/><text x="215.30" y="573.00" font-size="9.0" text-anchor="end" fill="#101018" stroke="#101018" stroke-width="0.28" >0.0</text><path d="M217.80 538.05H220.4" stroke="#666" stroke-width="0.9"/><text x="215.30" y="540.15" font-size="9.0" text-anchor="end" fill="#101018" stroke="#101018" stroke-width="0.28" >0.5</text><path d="M217.80 505.20H220.4" stroke="#666" stroke-width="0.9"/><text x="215.30" y="507.30" font-size="9.0" text-anchor="end" fill="#101018" stroke="#101018" stroke-width="0.28" >1.0</text><path d="M217.80 472.35H220.4" stroke="#666" stroke-width="0.9"/><text x="215.30" y="474.45" font-size="9.0" text-anchor="end" fill="#101018" stroke="#101018" stroke-width="0.28" >1.5</text><rect x="227.6" y="503.3" width="14.40" height="67.60" fill="#0a0aff"/><path d="M234.80 503.8V499.0M230.80 499.0H238.80" stroke="#0a0aff" stroke-width="1.6" fill="none"/><path d="M234.80 570.9V572.9" stroke="#666" stroke-width="0.9"/><rect x="247.8" y="516.5" width="15.20" height="54.40" fill="#ff0a0a"/><path d="M255.40 517.0V512.7M251.40 512.7H259.40" stroke="#ff0a0a" stroke-width="1.6" fill="none"/><path d="M255.40 570.9V572.9" stroke="#666" stroke-width="0.9"/><path d="M234.2 493.0V487.3H255.4V507.8" stroke="#606060" stroke-width="1.0" fill="none"/><text x="246.65" y="487.40" font-size="12" text-anchor="middle" fill="#101018" stroke="#101018" stroke-width="0.15" font-weight="bold" letter-spacing="1.7">*</text><text x="245.20" y="582.20" font-size="9.3" text-anchor="middle" fill="#101018" stroke="#101018" stroke-width="0.28" >BPH PCa</text><text transform="translate(198.40,521) rotate(-90)" font-size="8.9" font-style="italic" text-anchor="middle" fill="#101018" stroke="#101018" stroke-width="0.28">HLA-DRB3</text><path d="M305.5 472.55V571.1H354.6" stroke="#666" stroke-width="1" fill="none"/><path d="M302.90 571.10H305.5" stroke="#666" stroke-width="0.9"/><text x="299.30" y="573.20" font-size="9.0" text-anchor="end" fill="#101018" stroke="#101018" stroke-width="0.28" >0.0</text><path d="M302.90 538.25H305.5" stroke="#666" stroke-width="0.9"/><text x="299.30" y="540.35" font-size="9.0" text-anchor="end" fill="#101018" stroke="#101018" stroke-width="0.28" >0.5</text><path d="M302.90 505.40H305.5" stroke="#666" stroke-width="0.9"/><text x="299.30" y="507.50" font-size="9.0" text-anchor="end" fill="#101018" stroke="#101018" stroke-width="0.28" >1.0</text><path d="M302.90 472.55H305.5" stroke="#666" stroke-width="0.9"/><text x="299.30" y="474.65" font-size="9.0" text-anchor="end" fill="#101018" stroke="#101018" stroke-width="0.28" >1.5</text><rect x="311.8" y="504.0" width="15.20" height="67.10" fill="#0a0aff"/><path d="M319.40 504.5V501.5M315.40 501.5H323.40" stroke="#0a0aff" stroke-width="1.6" fill="none"/><path d="M319.40 571.1V573.1" stroke="#666" stroke-width="0.9"/><rect x="332.8" y="523.0" width="15.20" height="48.10" fill="#ff0a0a"/><path d="M340.40 523.5V519.7M336.40 519.7H344.40" stroke="#ff0a0a" stroke-width="1.6" fill="none"/><path d="M340.40 571.1V573.1" stroke="#666" stroke-width="0.9"/><path d="M319.3 496.5V490.6H340.5V517.2" stroke="#606060" stroke-width="1.0" fill="none"/><text x="332.85" y="490.10" font-size="12" text-anchor="middle" fill="#101018" stroke="#101018" stroke-width="0.15" font-weight="bold" letter-spacing="1.7">***</text><text x="331.40" y="582.20" font-size="9.3" text-anchor="middle" fill="#101018" stroke="#101018" stroke-width="0.28" >BPH PCa</text><text transform="translate(282.80,521) rotate(-90)" font-size="8.9" font-style="italic" text-anchor="middle" fill="#101018" stroke="#101018" stroke-width="0.28">IRF8</text><path d="M382.7 466.55V571.1H433.5" stroke="#666" stroke-width="1" fill="none"/><path d="M380.10 571.10H382.7" stroke="#666" stroke-width="0.9"/><text x="378.70" y="573.20" font-size="9.0" text-anchor="end" fill="#101018" stroke="#101018" stroke-width="0.28" >0</text><path d="M380.10 536.25H382.7" stroke="#666" stroke-width="0.9"/><text x="378.70" y="538.35" font-size="9.0" text-anchor="end" fill="#101018" stroke="#101018" stroke-width="0.28" >5</text><path d="M380.10 501.40H382.7" stroke="#666" stroke-width="0.9"/><text x="378.70" y="503.50" font-size="9.0" text-anchor="end" fill="#101018" stroke="#101018" stroke-width="0.28" >10</text><path d="M380.10 466.55H382.7" stroke="#666" stroke-width="0.9"/><text x="378.70" y="468.65" font-size="9.0" text-anchor="end" fill="#101018" stroke="#101018" stroke-width="0.28" >15</text><rect x="390.0" y="562.8" width="15.70" height="8.30" fill="#0a0aff"/><path d="M397.85 563.3V559.5M393.85 559.5H401.85" stroke="#0a0aff" stroke-width="1.6" fill="none"/><path d="M397.85 571.1V573.1" stroke="#666" stroke-width="0.9"/><rect x="412.3" y="510.4" width="15.40" height="60.70" fill="#ff0a0a"/><path d="M420.00 510.9V490.6M416.00 490.6H424.00" stroke="#ff0a0a" stroke-width="1.6" fill="none"/><path d="M420.00 571.1V573.1" stroke="#666" stroke-width="0.9"/><path d="M397.3 555.2V478.5H420.1V484.3" stroke="#606060" stroke-width="1.0" fill="none"/><text x="410.85" y="479.90" font-size="12" text-anchor="middle" fill="#101018" stroke="#101018" stroke-width="0.15" font-weight="bold" letter-spacing="1.7">***</text><text x="411.50" y="582.20" font-size="9.3" text-anchor="middle" fill="#101018" stroke="#101018" stroke-width="0.28" >BPH PCa</text><text transform="translate(367.10,521) rotate(-90)" font-size="8.9" font-style="italic" text-anchor="middle" fill="#101018" stroke="#101018" stroke-width="0.28">SIM2</text><path d="M464.4 471.60V570.7H517.1" stroke="#666" stroke-width="1" fill="none"/><path d="M461.80 570.70H464.4" stroke="#666" stroke-width="0.9"/><text x="458.90" y="572.80" font-size="9.0" text-anchor="end" fill="#101018" stroke="#101018" stroke-width="0.28" >0</text><path d="M461.80 550.88H464.4" stroke="#666" stroke-width="0.9"/><text x="458.90" y="552.98" font-size="9.0" text-anchor="end" fill="#101018" stroke="#101018" stroke-width="0.28" >1</text><path d="M461.80 531.06H464.4" stroke="#666" stroke-width="0.9"/><text x="458.90" y="533.16" font-size="9.0" text-anchor="end" fill="#101018" stroke="#101018" stroke-width="0.28" >2</text><path d="M461.80 511.24H464.4" stroke="#666" stroke-width="0.9"/><text x="458.90" y="513.34" font-size="9.0" text-anchor="end" fill="#101018" stroke="#101018" stroke-width="0.28" >3</text><path d="M461.80 491.42H464.4" stroke="#666" stroke-width="0.9"/><text x="458.90" y="493.52" font-size="9.0" text-anchor="end" fill="#101018" stroke="#101018" stroke-width="0.28" >4</text><path d="M461.80 471.60H464.4" stroke="#666" stroke-width="0.9"/><text x="458.90" y="473.70" font-size="9.0" text-anchor="end" fill="#101018" stroke="#101018" stroke-width="0.28" >5</text><rect x="472.1" y="550.5" width="15.90" height="20.20" fill="#0a0aff"/><path d="M480.05 551.0V546.2M476.05 546.2H484.05" stroke="#0a0aff" stroke-width="1.6" fill="none"/><path d="M480.05 570.7V572.7" stroke="#666" stroke-width="0.9"/><rect x="495.1" y="508.3" width="16.20" height="62.40" fill="#ff0a0a"/><path d="M503.20 508.8V494.9M499.20 494.9H507.20" stroke="#ff0a0a" stroke-width="1.6" fill="none"/><path d="M503.20 570.7V572.7" stroke="#666" stroke-width="0.9"/><path d="M479.7 542.4V483.5H503.0V489.0" stroke="#606060" stroke-width="1.0" fill="none"/><text x="493.45" y="483.20" font-size="12" text-anchor="middle" fill="#101018" stroke="#101018" stroke-width="0.15" font-weight="bold" letter-spacing="1.7">**</text><text x="490.00" y="582.20" font-size="9.3" text-anchor="middle" fill="#101018" stroke="#101018" stroke-width="0.28" >BPH PCa</text><text transform="translate(448.80,521) rotate(-90)" font-size="8.9" font-style="italic" text-anchor="middle" fill="#101018" stroke="#101018" stroke-width="0.28">FOXA1</text></g></svg>
</body></html>
